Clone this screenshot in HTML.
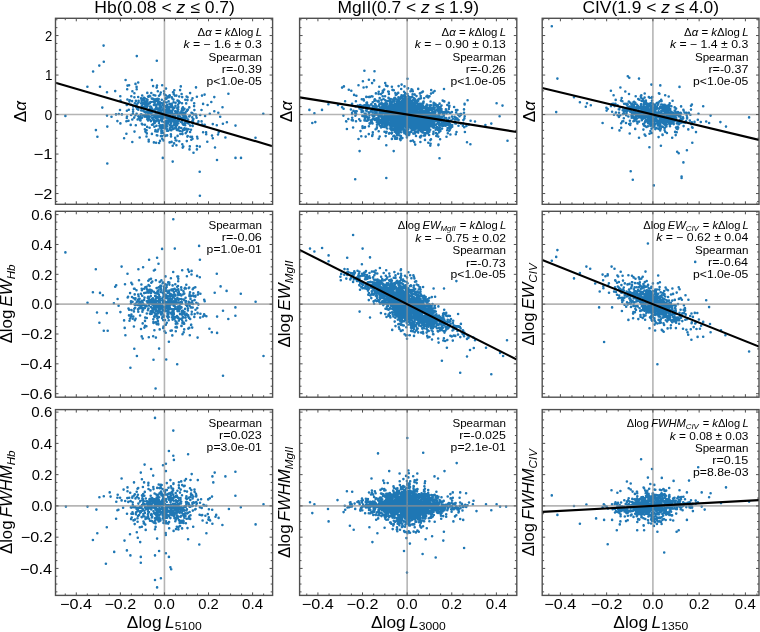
<!DOCTYPE html>
<html><head><meta charset="utf-8"><style>
html,body{margin:0;padding:0;background:#fff;width:760px;height:632px;overflow:hidden}
svg{display:block;will-change:transform}
text{font-family:"Liberation Sans",sans-serif}
</style></head><body>
<svg width="760" height="632" viewBox="0 0 760 632">
<rect width="760" height="632" fill="#fff"/>
<clipPath id="c00"><rect x="55.50" y="18.30" width="217.10" height="186.00"/></clipPath>
<g clip-path="url(#c00)">
<path d="M173.4 129.0h0M154.2 120.4h0M171.8 97.4h0M178.7 115.9h0M158.8 111.3h0M146.5 102.9h0M154.0 114.9h0M164.2 93.7h0M161.3 113.1h0M192.5 138.8h0M173.1 109.5h0M155.0 99.2h0M154.7 122.9h0M171.9 105.2h0M121.9 114.4h0M179.8 102.3h0M165.3 98.5h0M173.5 99.6h0M177.8 117.8h0M191.5 100.2h0M146.5 136.5h0M160.8 106.4h0M181.7 114.2h0M154.2 122.1h0M161.8 125.4h0M135.8 125.2h0M158.9 115.8h0M142.0 117.7h0M129.1 85.3h0M145.4 131.6h0M163.6 109.4h0M151.0 106.8h0M137.4 103.5h0M157.6 131.5h0M147.6 118.3h0M162.5 119.0h0M144.9 103.9h0M179.9 116.5h0M182.5 134.1h0M154.6 121.1h0M151.5 107.7h0M168.4 112.4h0M187.4 136.6h0M176.2 111.6h0M193.0 120.3h0M134.2 117.6h0M151.5 113.2h0M157.8 91.2h0M148.7 103.7h0M190.2 125.6h0M155.3 95.5h0M154.3 101.7h0M184.8 114.9h0M178.7 120.0h0M150.9 121.1h0M133.1 106.0h0M173.6 102.3h0M166.2 111.4h0M146.9 115.2h0M165.0 116.7h0M172.0 113.9h0M136.1 107.0h0M169.3 111.6h0M175.4 118.4h0M186.6 96.6h0M163.7 102.4h0M178.9 103.0h0M157.3 135.5h0M140.1 120.3h0M129.8 100.3h0M172.6 107.7h0M146.7 99.3h0M171.1 130.2h0M184.8 124.3h0M167.8 120.3h0M172.6 113.8h0M171.1 123.0h0M156.8 135.3h0M151.8 98.6h0M166.6 124.2h0M158.5 100.4h0M177.9 109.4h0M131.3 96.2h0M163.0 105.0h0M175.6 120.8h0M158.0 111.7h0M156.8 113.6h0M187.3 109.8h0M165.2 111.5h0M176.5 140.5h0M160.0 105.9h0M193.4 119.1h0M171.6 103.9h0M186.9 110.9h0M154.6 100.0h0M150.2 96.2h0M142.7 104.0h0M148.2 116.5h0M145.2 115.1h0M144.1 106.9h0M129.4 101.6h0M163.3 115.9h0M158.7 103.5h0M183.3 124.7h0M174.5 121.1h0M175.1 125.2h0M163.4 114.3h0M191.3 139.7h0M174.8 121.1h0M137.6 119.5h0M170.1 119.0h0M156.3 121.2h0M163.1 104.3h0M142.4 103.1h0M168.4 109.5h0M148.3 116.7h0M127.2 89.2h0M144.9 124.8h0M172.3 113.0h0M186.2 103.4h0M141.1 98.4h0M157.0 85.6h0M147.1 126.9h0M153.5 115.0h0M174.1 121.1h0M145.1 116.1h0M183.0 123.9h0M151.2 112.6h0M143.5 111.1h0M148.0 120.4h0M163.7 110.9h0M194.1 106.1h0M195.8 114.5h0M156.6 131.4h0M197.5 138.5h0M147.3 92.9h0M168.4 113.4h0M190.4 136.8h0M169.5 103.7h0M128.8 109.8h0M178.7 101.1h0M192.0 136.8h0M158.7 99.0h0M158.5 112.0h0M144.8 111.9h0M176.9 129.9h0M160.2 94.5h0M173.0 92.3h0M167.6 116.9h0M176.4 145.2h0M156.5 107.2h0M166.9 130.7h0M169.0 115.1h0M158.3 111.3h0M182.9 114.9h0M163.7 117.5h0M141.3 118.3h0M186.5 117.5h0M148.8 111.6h0M138.3 109.7h0M167.1 120.8h0M161.8 127.3h0M173.5 116.5h0M183.3 146.6h0M141.1 114.2h0M198.5 121.4h0M192.8 120.2h0M138.6 100.8h0M164.0 91.2h0M142.9 98.5h0M161.7 119.0h0M168.0 117.2h0M146.6 130.2h0M178.3 123.3h0M120.3 96.2h0M155.0 111.3h0M162.7 118.6h0M171.4 112.5h0M178.9 119.0h0M165.7 98.9h0M171.4 118.7h0M177.3 107.9h0M197.5 123.2h0M141.3 110.4h0M169.9 128.2h0M170.4 127.8h0M178.3 129.2h0M141.8 98.9h0M136.7 89.3h0M175.7 123.5h0M159.2 102.1h0M153.9 105.0h0M170.0 113.0h0M168.2 121.6h0M138.2 107.7h0M148.9 116.6h0M151.3 93.0h0M169.1 97.3h0M128.5 120.7h0M156.1 116.6h0M182.2 120.4h0M135.9 100.9h0M127.0 116.5h0M165.8 127.1h0M181.6 94.0h0M152.8 119.5h0M178.5 114.9h0M166.4 120.9h0M156.7 87.5h0M151.6 115.5h0M162.2 85.3h0M169.8 95.6h0M181.3 128.0h0M166.9 113.4h0M160.1 127.4h0M187.1 122.6h0M157.9 103.9h0M163.2 103.5h0M186.9 131.4h0M172.1 114.4h0M177.6 135.9h0M161.2 103.0h0M170.5 117.9h0M145.8 112.5h0M147.5 99.7h0M170.1 106.7h0M173.6 92.8h0M134.4 97.3h0M159.5 109.1h0M164.1 114.1h0M126.9 110.8h0M182.3 144.2h0M151.1 107.0h0M173.8 125.4h0M130.7 124.9h0M188.5 129.3h0M157.0 104.6h0M201.5 110.0h0M160.5 125.9h0M154.1 121.2h0M166.1 106.9h0M178.3 118.0h0M147.3 103.2h0M149.6 117.1h0M159.4 125.7h0M159.4 113.1h0M142.8 115.1h0M170.6 112.8h0M178.3 107.0h0M141.0 103.2h0M166.9 114.1h0M149.4 95.8h0M171.4 110.8h0M131.1 115.0h0M156.0 115.2h0M142.2 95.5h0M165.4 123.1h0M159.6 102.0h0M168.3 114.6h0M146.3 105.9h0M163.3 125.4h0M170.1 129.4h0M149.9 103.2h0M153.8 115.7h0M161.3 126.7h0M158.1 101.9h0M162.4 117.0h0M142.4 124.5h0M173.8 124.5h0M166.1 115.4h0M170.6 119.6h0M143.5 102.9h0M164.3 101.4h0M141.8 123.8h0M126.8 118.0h0M196.6 117.7h0M181.4 111.4h0M165.4 114.5h0M162.9 117.4h0M153.0 124.4h0M159.7 126.4h0M185.9 111.7h0M173.1 116.6h0M160.4 116.8h0M139.0 118.2h0M160.8 92.5h0M155.3 131.3h0M165.1 111.8h0M185.8 117.2h0M149.7 102.6h0M184.5 128.4h0M163.1 127.6h0M140.5 120.5h0M170.7 119.5h0M169.9 117.7h0M144.9 106.1h0M174.3 122.4h0M168.2 106.8h0M153.6 95.0h0M134.4 93.2h0M184.5 108.8h0M187.6 97.3h0M146.3 108.1h0M169.5 117.7h0M187.9 109.7h0M147.3 119.3h0M166.1 122.3h0M158.6 108.9h0M147.8 110.7h0M182.0 109.9h0M133.2 106.5h0M163.5 140.4h0M167.1 111.5h0M167.1 117.2h0M143.6 108.4h0M166.5 106.9h0M143.0 108.1h0M172.2 110.5h0M185.1 123.4h0M173.0 114.6h0M192.6 123.1h0M150.9 102.0h0M187.7 136.0h0M156.8 120.7h0M148.6 110.8h0M168.4 120.4h0M183.7 109.7h0M165.5 95.2h0M183.1 112.6h0M166.4 98.8h0M171.0 136.4h0M158.4 129.5h0M160.3 104.7h0M161.8 114.3h0M172.2 111.1h0M160.9 120.2h0M139.7 118.2h0M173.9 119.1h0M158.2 108.7h0M163.8 106.4h0M143.7 99.2h0M148.8 116.0h0M149.8 112.9h0M156.6 87.6h0M159.9 107.5h0M168.6 107.7h0M159.0 110.0h0M151.9 133.9h0M169.8 115.2h0M140.9 107.5h0M120.5 100.6h0M152.0 124.8h0M175.6 102.7h0M204.7 124.7h0M133.1 111.5h0M152.4 109.2h0M186.0 122.6h0M166.5 120.6h0M169.6 142.4h0M156.5 113.1h0M158.4 113.2h0M174.5 107.8h0M158.2 119.4h0M157.4 116.9h0M169.6 95.3h0M206.2 134.3h0M156.1 107.7h0M172.2 117.7h0M179.0 115.6h0M168.6 116.7h0M170.9 114.2h0M197.1 136.7h0M120.0 110.0h0M188.1 119.5h0M169.9 119.5h0M182.2 97.1h0M189.9 115.5h0M177.0 121.3h0M174.3 90.3h0M155.1 109.4h0M145.3 106.9h0M152.2 118.1h0M152.1 111.7h0M161.4 107.4h0M162.7 110.1h0M167.2 105.1h0M165.9 120.8h0M169.7 116.4h0M175.2 111.2h0M182.8 117.8h0M144.0 97.7h0M176.1 126.8h0M189.3 107.4h0M147.3 101.0h0M136.7 105.0h0M188.5 123.5h0M147.4 104.9h0M192.2 113.1h0M149.7 109.1h0M138.2 97.0h0M137.0 108.7h0M166.4 109.1h0M141.4 117.4h0M192.3 121.4h0M184.1 117.1h0M165.1 110.9h0M146.0 111.8h0M147.5 115.1h0M183.6 119.9h0M159.0 95.8h0M169.4 111.5h0M158.7 111.1h0M187.0 121.6h0M164.5 115.2h0M165.9 115.2h0M178.0 119.1h0M160.9 136.1h0M153.2 101.8h0M175.3 119.9h0M144.5 116.6h0M168.3 115.2h0M145.8 116.6h0M193.8 114.5h0M162.1 136.0h0M140.7 114.8h0M140.0 116.7h0M171.3 130.2h0M178.8 116.8h0M168.3 123.4h0M179.2 96.5h0M191.5 112.7h0M164.3 106.0h0M177.1 122.2h0M126.4 121.3h0M156.1 105.6h0M138.6 102.1h0M164.4 113.8h0M154.1 111.5h0M147.6 105.8h0M166.6 117.8h0M154.6 110.4h0M175.5 105.8h0M155.9 113.6h0M161.4 110.6h0M158.4 116.7h0M149.6 119.5h0M164.8 95.2h0M186.0 116.2h0M178.2 111.6h0M137.7 103.3h0M151.6 108.2h0M147.5 104.3h0M158.1 111.2h0M159.6 105.8h0M127.4 99.5h0M174.6 107.6h0M170.1 112.7h0M144.9 129.3h0M182.3 131.4h0M183.7 113.6h0M160.6 115.1h0M179.2 127.4h0M170.9 134.3h0M172.9 116.0h0M155.7 118.1h0M171.6 141.9h0M177.2 112.6h0M154.2 117.2h0M164.7 117.4h0M183.1 129.7h0M173.1 114.5h0M165.5 98.2h0M145.6 101.5h0M183.3 118.4h0M156.0 105.8h0M154.3 115.7h0M178.2 130.3h0M177.5 100.6h0M171.4 121.3h0M141.9 105.8h0M160.2 115.4h0M161.8 99.8h0M160.5 107.3h0M162.2 138.8h0M167.4 110.9h0M163.7 112.7h0M192.7 125.9h0M170.7 124.7h0M164.6 128.2h0M149.4 103.4h0M141.7 100.4h0M182.6 113.4h0M170.8 105.4h0M174.3 128.2h0M135.5 115.2h0M166.1 114.2h0M168.1 96.6h0M175.2 137.9h0M181.8 122.1h0M162.4 130.8h0M171.6 126.0h0M166.8 116.0h0M176.2 128.2h0M185.7 133.2h0M161.4 129.0h0M133.1 109.5h0M146.8 105.9h0M140.4 116.9h0M191.0 129.7h0M173.8 94.2h0M186.5 128.7h0M147.6 112.8h0M184.5 114.0h0M154.7 104.0h0M169.9 125.3h0M182.7 147.6h0M150.9 111.4h0M163.6 108.7h0M186.8 141.1h0M156.5 125.8h0M156.1 100.9h0M160.0 140.9h0M144.8 98.3h0M194.4 110.1h0M141.6 101.0h0M143.3 102.8h0M132.9 113.7h0M180.4 112.9h0M201.6 121.4h0M158.4 113.3h0M149.7 113.4h0M149.6 127.7h0M160.6 111.8h0M160.8 120.2h0M144.0 100.5h0M169.7 112.9h0M172.0 127.6h0M175.1 116.3h0M175.6 140.2h0M192.5 98.3h0M131.0 104.8h0M134.8 103.2h0M167.1 135.4h0M156.8 118.5h0M155.6 115.3h0M160.3 116.9h0M181.0 122.0h0M179.3 141.2h0M147.2 117.6h0M169.8 121.5h0M172.9 120.3h0M160.5 108.3h0M116.0 114.4h0M167.1 113.6h0M162.4 125.1h0M202.1 124.5h0M172.3 98.5h0M132.3 119.5h0M196.2 115.7h0M173.1 115.0h0M154.5 103.1h0M182.1 108.5h0M182.2 122.8h0M165.1 135.9h0M175.1 122.1h0M182.9 107.3h0M132.1 101.1h0M160.7 117.5h0M166.7 129.3h0M167.2 129.4h0M148.1 96.6h0M180.4 134.0h0M151.7 115.1h0M155.6 114.8h0M153.1 86.1h0M152.9 98.7h0M143.2 107.2h0M175.3 113.4h0M182.1 117.9h0M167.7 97.4h0M148.6 96.8h0M152.3 124.8h0M185.3 122.2h0M162.8 115.9h0M152.8 111.7h0M164.3 122.2h0M164.6 128.1h0M205.1 116.0h0M159.0 122.9h0M178.2 109.4h0M168.6 101.3h0M170.3 119.4h0M161.1 119.8h0M165.5 125.3h0M190.1 132.0h0M166.2 122.8h0M160.3 109.0h0M146.8 133.4h0M177.4 113.6h0M189.2 116.4h0M135.5 83.9h0M169.6 107.3h0M185.4 113.0h0M157.5 98.9h0M161.3 131.1h0M177.7 115.2h0M165.0 127.4h0M136.6 113.7h0M154.8 102.0h0M171.9 106.1h0M181.1 118.2h0M148.7 118.9h0M162.6 113.8h0M177.3 108.5h0M182.5 123.5h0M163.7 104.9h0M178.5 120.2h0M178.5 114.3h0M164.5 135.1h0M126.8 104.9h0M188.3 122.5h0M169.5 110.3h0M151.5 114.6h0M150.0 106.5h0M138.3 116.2h0M132.4 91.2h0M164.5 102.1h0M196.9 149.4h0M168.7 112.8h0M168.2 130.8h0M177.1 125.0h0M200.2 115.0h0M157.1 112.7h0M171.4 113.8h0M172.2 121.3h0M118.8 114.0h0M136.6 86.9h0M166.0 95.5h0M170.5 107.0h0M172.4 106.7h0M159.3 114.7h0M161.4 132.9h0M166.5 102.5h0M146.1 105.7h0M154.4 126.7h0M178.0 116.3h0M157.0 99.8h0M178.1 104.7h0M184.6 129.7h0M156.4 99.4h0M172.8 107.5h0M151.0 111.1h0M158.9 120.9h0M163.2 132.8h0M161.2 126.4h0M199.8 146.6h0M185.6 118.7h0M159.7 108.7h0M156.9 114.9h0M178.8 120.8h0M142.2 106.7h0M182.0 103.2h0M158.7 114.9h0M156.2 109.3h0M168.1 112.2h0M193.0 121.4h0M179.4 119.2h0M146.8 107.6h0M160.2 125.4h0M192.3 117.4h0M159.3 111.2h0M155.5 130.0h0M185.2 125.3h0M162.1 121.4h0M168.7 118.2h0M165.1 106.0h0M167.2 126.4h0M163.6 105.4h0M169.1 108.4h0M179.9 131.0h0M103.6 45.6h0M136.8 56.1h0M156.8 60.8h0M103.8 61.7h0M99.3 65.6h0M93.1 71.5h0M125.6 80.0h0M151.9 80.1h0M138.2 82.5h0M87.4 86.7h0M100.0 86.7h0M127.5 85.6h0M107.0 92.3h0M115.2 91.1h0M102.3 107.6h0M65.4 115.9h0M95.9 130.1h0M97.4 136.8h0M107.3 126.6h0M107.3 163.5h0M124.1 138.2h0M126.4 133.8h0M132.3 142.0h0M134.5 131.6h0M139.7 137.5h0M148.7 139.7h0M148.7 141.5h0M153.9 142.4h0M156.1 142.7h0M159.1 143.0h0M162.8 157.9h0M120.4 123.4h0M117.4 121.1h0M111.5 116.7h0M107.0 115.6h0M180.8 86.4h0M180.1 90.1h0M196.0 87.4h0M190.1 93.1h0M228.4 93.8h0M202.0 95.6h0M204.6 94.6h0M196.9 96.8h0M214.3 97.1h0M185.3 99.8h0M187.5 100.1h0M203.1 103.9h0M207.6 105.0h0M211.3 102.0h0M222.5 107.2h0M194.2 103.2h0M166.0 88.6h0M174.9 95.6h0M176.4 95.6h0M263.3 113.7h0M235.5 125.6h0M226.9 122.2h0M222.9 123.7h0M255.5 137.8h0M225.4 137.5h0M235.5 157.9h0M241.0 157.9h0M217.0 160.0h0M172.7 161.6h0M199.7 171.8h0M199.9 195.8h0M215.0 147.5h0M207.3 141.7h0M193.5 152.8h0M196.9 146.1h0M189.5 149.4h0M189.8 146.4h0M172.7 145.7h0M174.1 143.4h0M218.0 134.5h0M218.7 132.3h0M212.0 135.6h0M212.8 138.2h0M216.8 125.2h0M212.8 124.1h0M220.2 116.7h0M218.3 112.7h0M214.3 111.2h0M209.8 113.7h0M203.1 132.3h0M206.1 132.3h0" stroke="#1f77b4" stroke-width="2.6" stroke-linecap="round" fill="none"/>
<path d="M55.50 114.55H272.60M164.45 18.30V204.30" stroke="#919191" stroke-opacity="0.67" stroke-width="1.6" fill="none"/>
<line x1="55.50" y1="82.72" x2="272.60" y2="146.14" stroke="#000" stroke-width="2.1"/>
</g>
<rect x="55.50" y="18.30" width="217.10" height="186.00" fill="none" stroke="#505050" stroke-width="1.4"/>
<path d="M65.27 204.30v-1.90M65.27 18.30v1.90M76.29 204.30v-3.00M76.29 18.30v3.00M87.31 204.30v-1.90M87.31 18.30v1.90M98.33 204.30v-1.90M98.33 18.30v1.90M109.35 204.30v-1.90M109.35 18.30v1.90M120.37 204.30v-3.00M120.37 18.30v3.00M131.39 204.30v-1.90M131.39 18.30v1.90M142.41 204.30v-1.90M142.41 18.30v1.90M153.43 204.30v-1.90M153.43 18.30v1.90M164.45 204.30v-3.00M164.45 18.30v3.00M175.47 204.30v-1.90M175.47 18.30v1.90M186.49 204.30v-1.90M186.49 18.30v1.90M197.51 204.30v-1.90M197.51 18.30v1.90M208.53 204.30v-3.00M208.53 18.30v3.00M219.55 204.30v-1.90M219.55 18.30v1.90M230.57 204.30v-1.90M230.57 18.30v1.90M241.59 204.30v-1.90M241.59 18.30v1.90M252.61 204.30v-3.00M252.61 18.30v3.00M263.63 204.30v-1.90M263.63 18.30v1.90M55.50 201.45h1.90M272.60 201.45h-1.90M55.50 193.55h3.00M272.60 193.55h-3.00M55.50 185.65h1.90M272.60 185.65h-1.90M55.50 177.75h1.90M272.60 177.75h-1.90M55.50 169.85h1.90M272.60 169.85h-1.90M55.50 161.95h1.90M272.60 161.95h-1.90M55.50 154.05h3.00M272.60 154.05h-3.00M55.50 146.15h1.90M272.60 146.15h-1.90M55.50 138.25h1.90M272.60 138.25h-1.90M55.50 130.35h1.90M272.60 130.35h-1.90M55.50 122.45h1.90M272.60 122.45h-1.90M55.50 114.55h3.00M272.60 114.55h-3.00M55.50 106.65h1.90M272.60 106.65h-1.90M55.50 98.75h1.90M272.60 98.75h-1.90M55.50 90.85h1.90M272.60 90.85h-1.90M55.50 82.95h1.90M272.60 82.95h-1.90M55.50 75.05h3.00M272.60 75.05h-3.00M55.50 67.15h1.90M272.60 67.15h-1.90M55.50 59.25h1.90M272.60 59.25h-1.90M55.50 51.35h1.90M272.60 51.35h-1.90M55.50 43.45h1.90M272.60 43.45h-1.90M55.50 35.55h3.00M272.60 35.55h-3.00M55.50 27.65h1.90M272.60 27.65h-1.90M55.50 19.75h1.90M272.60 19.75h-1.90" stroke="#505050" stroke-width="1.0" fill="none"/>
<clipPath id="c01"><rect x="299.60" y="18.30" width="217.20" height="186.00"/></clipPath>
<g clip-path="url(#c01)">
<path d="M426.4 96.5h0M355.7 112.0h0M403.6 95.6h0M388.6 114.3h0M413.2 105.8h0M419.6 107.3h0M400.7 124.6h0M402.8 128.0h0M407.8 113.8h0M394.7 116.3h0M399.6 135.5h0M420.3 103.7h0M436.0 104.7h0M369.3 107.3h0M426.8 129.6h0M353.5 110.7h0M352.9 120.4h0M393.2 118.3h0M438.2 123.3h0M400.5 112.9h0M404.2 113.5h0M438.0 108.7h0M374.6 115.5h0M408.0 110.1h0M352.1 103.7h0M410.2 127.2h0M400.4 122.3h0M425.1 108.6h0M413.2 116.4h0M386.7 122.7h0M426.5 117.8h0M381.2 127.3h0M383.4 120.8h0M379.9 114.9h0M414.3 121.9h0M399.4 124.5h0M412.7 115.7h0M430.0 121.4h0M385.2 113.9h0M412.7 125.5h0M391.6 110.2h0M390.3 107.2h0M366.5 102.9h0M406.0 134.0h0M389.0 116.2h0M420.9 109.8h0M392.8 109.3h0M367.5 120.6h0M407.1 109.3h0M427.0 117.2h0M409.1 122.6h0M413.3 125.0h0M411.5 89.4h0M411.4 115.1h0M389.3 115.2h0M398.2 127.8h0M382.2 118.9h0M396.9 117.0h0M387.8 122.4h0M411.3 109.5h0M395.5 129.7h0M403.0 110.9h0M366.6 105.0h0M405.5 116.4h0M398.8 104.8h0M414.0 116.8h0M403.4 124.5h0M399.5 117.2h0M351.8 120.1h0M435.8 118.1h0M388.8 91.7h0M381.8 116.3h0M411.0 115.3h0M415.9 111.8h0M401.5 118.3h0M424.0 114.1h0M358.5 139.0h0M427.6 113.2h0M443.6 121.9h0M421.3 128.8h0M417.8 104.7h0M420.2 118.1h0M372.5 96.5h0M401.4 120.7h0M406.9 121.3h0M368.1 119.4h0M425.4 118.5h0M416.8 117.6h0M407.3 127.0h0M417.7 127.8h0M409.1 99.7h0M401.2 127.5h0M466.4 126.0h0M408.5 98.8h0M402.9 118.0h0M430.1 115.6h0M421.3 136.2h0M421.1 116.1h0M371.7 108.5h0M422.0 124.0h0M392.9 123.4h0M402.3 111.8h0M404.6 125.1h0M397.8 110.7h0M387.7 110.7h0M440.7 119.5h0M415.7 101.8h0M361.6 112.0h0M417.0 112.5h0M372.7 106.1h0M403.6 120.8h0M385.6 110.7h0M411.3 126.3h0M405.0 95.5h0M408.0 113.7h0M406.8 109.7h0M363.9 100.5h0M411.0 115.6h0M440.8 111.2h0M431.2 110.3h0M366.0 110.2h0M420.2 108.0h0M428.1 123.8h0M422.4 116.7h0M428.6 114.5h0M387.4 101.0h0M388.1 109.4h0M420.7 96.0h0M420.5 108.3h0M406.4 127.6h0M423.6 101.6h0M398.9 109.1h0M433.3 133.9h0M388.4 114.9h0M416.6 119.7h0M413.5 111.0h0M366.5 107.3h0M398.2 115.0h0M427.5 105.1h0M382.2 120.0h0M394.8 111.2h0M415.2 144.6h0M434.2 122.0h0M403.2 127.3h0M395.7 122.5h0M403.8 126.5h0M409.4 107.3h0M384.7 113.0h0M400.3 112.6h0M432.5 123.8h0M422.5 132.5h0M416.3 119.8h0M416.6 121.6h0M376.5 107.3h0M415.8 114.8h0M382.7 103.9h0M396.9 138.8h0M409.8 115.0h0M428.0 128.1h0M381.7 120.3h0M399.9 113.9h0M418.3 117.4h0M365.2 115.7h0M405.0 121.6h0M372.2 108.2h0M416.6 117.9h0M402.3 105.8h0M390.6 119.1h0M399.4 116.8h0M408.9 101.9h0M393.1 118.4h0M438.8 119.0h0M406.3 134.5h0M379.0 121.0h0M391.8 119.4h0M363.1 111.4h0M388.7 109.9h0M407.9 121.1h0M374.7 100.8h0M419.7 111.1h0M412.7 117.1h0M445.9 122.3h0M394.4 101.1h0M417.1 115.8h0M437.8 120.5h0M410.7 116.6h0M389.2 114.1h0M432.8 120.3h0M385.0 117.2h0M423.0 130.8h0M399.3 118.2h0M401.3 117.9h0M400.6 103.6h0M399.9 121.7h0M418.2 88.9h0M402.8 111.7h0M398.5 131.9h0M456.5 132.0h0M458.0 114.6h0M378.4 118.2h0M380.6 126.0h0M444.3 123.5h0M422.8 115.2h0M439.6 130.6h0M448.8 109.0h0M398.7 111.5h0M408.7 125.9h0M443.4 122.0h0M431.0 93.6h0M424.7 121.8h0M389.5 114.6h0M400.6 121.9h0M406.7 115.8h0M449.7 130.1h0M385.5 106.9h0M383.1 105.8h0M408.2 129.2h0M408.0 121.6h0M414.8 123.6h0M428.1 124.1h0M403.0 114.8h0M439.9 120.7h0M399.3 111.8h0M419.1 123.1h0M368.2 105.2h0M425.7 117.3h0M415.6 117.5h0M395.5 104.2h0M407.7 111.3h0M404.1 120.4h0M394.9 125.8h0M385.1 96.3h0M417.2 106.8h0M403.8 107.0h0M413.0 125.7h0M439.3 117.3h0M383.1 122.9h0M429.7 120.5h0M412.3 115.7h0M399.9 122.1h0M406.1 132.5h0M392.7 112.2h0M415.5 119.3h0M409.4 112.7h0M392.7 122.8h0M407.7 114.9h0M399.4 112.9h0M420.1 123.6h0M401.0 116.0h0M393.3 136.2h0M402.2 116.6h0M393.0 111.8h0M422.0 116.4h0M428.5 131.8h0M400.1 118.0h0M355.5 115.5h0M421.1 116.6h0M354.1 94.9h0M382.3 112.0h0M371.8 122.1h0M411.6 118.9h0M386.4 115.7h0M379.7 136.5h0M410.3 115.8h0M392.0 132.5h0M420.5 121.7h0M414.3 118.7h0M425.3 115.3h0M386.1 132.7h0M390.8 107.5h0M445.4 122.2h0M435.4 124.7h0M380.2 109.3h0M433.1 108.4h0M391.9 118.0h0M413.8 120.8h0M398.2 111.7h0M403.6 118.0h0M394.1 123.7h0M398.8 116.9h0M415.4 103.8h0M424.0 115.0h0M411.4 131.2h0M403.3 105.8h0M429.4 131.8h0M368.6 119.5h0M440.6 106.9h0M372.7 116.1h0M408.5 117.5h0M414.0 115.8h0M407.5 120.2h0M443.7 115.8h0M414.1 118.3h0M415.8 100.8h0M443.9 114.6h0M414.6 125.4h0M412.3 89.8h0M389.3 115.6h0M395.0 124.2h0M411.3 109.6h0M380.0 120.3h0M395.1 118.9h0M440.7 120.7h0M405.4 109.0h0M409.2 112.2h0M367.4 116.9h0M385.1 111.0h0M380.2 109.0h0M446.6 120.9h0M411.9 114.9h0M470.6 120.8h0M402.8 113.0h0M407.7 88.6h0M402.4 109.6h0M401.7 117.2h0M396.0 123.8h0M404.5 125.0h0M402.7 115.9h0M393.2 112.4h0M397.3 117.2h0M398.3 115.8h0M375.3 109.2h0M398.4 121.0h0M379.2 105.1h0M403.8 102.3h0M416.0 128.7h0M389.4 105.6h0M406.1 106.2h0M374.2 108.5h0M424.3 127.5h0M439.3 109.2h0M418.2 117.1h0M385.8 122.8h0M401.1 110.3h0M405.3 105.5h0M409.4 98.3h0M422.2 117.9h0M399.9 127.4h0M409.1 110.7h0M413.9 114.0h0M415.9 106.0h0M423.6 125.0h0M414.1 110.9h0M417.0 118.2h0M397.8 123.1h0M438.0 117.7h0M405.9 108.2h0M414.8 125.0h0M414.0 124.3h0M377.9 120.3h0M378.6 93.9h0M411.0 117.7h0M409.6 105.9h0M427.3 115.5h0M421.3 135.7h0M390.8 114.6h0M384.7 103.9h0M410.0 112.9h0M407.7 115.5h0M414.5 126.8h0M402.6 117.8h0M406.4 111.3h0M431.6 121.3h0M403.4 110.0h0M428.3 97.5h0M437.3 128.7h0M391.8 112.7h0M409.0 116.6h0M398.1 115.9h0M420.4 114.8h0M378.5 116.8h0M442.6 113.3h0M391.3 111.1h0M383.0 92.0h0M392.7 113.4h0M367.3 108.9h0M396.6 125.2h0M410.0 116.5h0M401.4 110.4h0M367.3 109.1h0M439.6 103.6h0M385.1 106.7h0M421.8 115.3h0M391.1 125.0h0M384.3 119.6h0M435.9 133.0h0M419.4 106.4h0M424.2 122.2h0M387.9 120.7h0M407.2 111.0h0M411.3 108.5h0M441.9 117.1h0M412.3 128.4h0M412.1 96.8h0M416.5 118.6h0M441.3 117.1h0M417.4 111.0h0M412.1 119.3h0M396.2 115.5h0M401.4 104.2h0M417.9 113.0h0M386.8 104.8h0M437.2 109.3h0M392.1 122.1h0M433.6 117.0h0M426.3 121.0h0M411.4 114.9h0M419.8 128.6h0M414.7 98.8h0M407.6 125.9h0M381.0 94.1h0M399.7 110.5h0M435.7 129.8h0M413.3 133.6h0M406.7 123.5h0M427.2 117.7h0M396.5 108.7h0M404.7 110.7h0M408.3 107.1h0M402.2 113.9h0M430.7 116.9h0M435.1 116.6h0M403.3 112.3h0M406.7 102.2h0M406.8 118.2h0M400.6 116.5h0M415.1 114.2h0M403.3 122.0h0M426.9 109.8h0M375.1 119.9h0M394.4 126.4h0M417.5 103.5h0M405.7 110.4h0M417.0 108.9h0M371.5 110.8h0M423.0 108.0h0M359.5 107.1h0M375.5 104.8h0M406.6 109.6h0M406.9 129.3h0M414.0 120.6h0M385.5 103.1h0M412.1 116.4h0M398.8 115.4h0M428.7 113.4h0M403.9 129.6h0M421.6 113.9h0M433.5 131.7h0M403.2 110.3h0M435.6 115.1h0M422.2 123.4h0M424.9 114.0h0M417.3 107.0h0M405.0 117.7h0M392.4 126.5h0M374.0 116.2h0M410.3 97.4h0M415.7 127.0h0M397.8 127.8h0M391.8 105.8h0M425.0 123.2h0M431.0 105.3h0M410.5 107.8h0M380.0 103.9h0M408.9 132.6h0M426.5 130.3h0M384.0 107.8h0M399.2 99.2h0M413.8 112.4h0M414.3 127.8h0M440.1 139.3h0M395.0 114.0h0M403.6 121.0h0M403.2 108.4h0M355.3 113.2h0M427.2 123.6h0M439.7 127.2h0M410.8 114.1h0M442.1 128.6h0M414.5 117.0h0M447.3 105.0h0M389.0 106.5h0M421.0 114.7h0M407.6 126.3h0M398.8 102.2h0M401.3 113.1h0M440.4 130.9h0M429.9 123.5h0M421.7 113.1h0M400.8 105.9h0M372.4 119.6h0M442.8 122.3h0M404.2 111.8h0M426.8 121.0h0M389.8 122.4h0M367.0 103.8h0M357.8 105.6h0M421.7 114.8h0M414.8 117.8h0M448.7 121.8h0M423.7 112.9h0M404.3 121.3h0M409.4 102.5h0M363.6 87.5h0M388.9 108.1h0M404.0 114.5h0M427.2 126.9h0M414.8 119.5h0M426.7 108.2h0M395.0 119.9h0M415.1 110.2h0M431.2 115.1h0M408.1 96.1h0M416.2 109.9h0M402.3 118.4h0M395.9 124.7h0M405.2 121.4h0M429.3 108.2h0M447.6 128.1h0M410.5 91.2h0M420.6 98.5h0M393.1 112.1h0M409.4 97.3h0M368.2 119.9h0M379.7 98.1h0M470.4 144.3h0M411.8 127.6h0M405.4 113.4h0M407.8 111.5h0M401.7 121.6h0M429.1 128.8h0M427.3 120.9h0M379.6 108.6h0M438.1 130.0h0M398.3 119.1h0M416.3 115.2h0M392.6 110.6h0M418.0 118.8h0M433.6 118.3h0M385.4 117.3h0M412.7 111.6h0M405.0 99.7h0M406.3 112.8h0M391.4 119.4h0M396.5 109.2h0M412.9 106.7h0M414.9 131.8h0M422.2 109.5h0M397.9 117.0h0M425.1 123.3h0M414.4 120.8h0M412.4 115.6h0M426.0 124.7h0M407.7 117.3h0M405.3 116.4h0M420.6 119.8h0M428.0 113.1h0M413.8 118.7h0M426.1 121.8h0M413.5 116.9h0M392.6 125.4h0M435.3 103.7h0M429.5 96.2h0M397.0 112.6h0M388.7 113.6h0M382.6 111.2h0M400.2 121.5h0M434.2 123.8h0M409.2 126.0h0M419.0 111.9h0M417.8 121.7h0M423.1 105.3h0M420.6 115.8h0M420.0 124.0h0M407.4 126.7h0M407.0 106.5h0M412.4 115.2h0M380.6 115.1h0M402.5 108.0h0M417.3 122.6h0M410.7 120.0h0M412.0 122.3h0M416.3 119.4h0M423.8 113.7h0M433.6 106.0h0M408.8 119.6h0M402.1 126.2h0M424.5 128.6h0M400.1 125.4h0M397.0 111.2h0M408.5 122.1h0M396.5 114.3h0M425.0 112.8h0M414.0 106.0h0M417.7 124.6h0M416.7 117.5h0M399.7 118.8h0M425.0 135.4h0M426.5 107.9h0M397.2 116.3h0M410.3 111.0h0M402.5 121.6h0M423.9 115.3h0M384.3 113.7h0M425.5 124.0h0M411.5 116.1h0M401.8 102.1h0M418.3 119.1h0M392.1 118.4h0M381.0 104.0h0M379.7 110.3h0M389.3 114.2h0M424.4 112.9h0M397.2 115.1h0M391.9 111.5h0M402.7 117.7h0M421.2 124.4h0M377.1 110.6h0M397.8 109.9h0M423.4 119.8h0M428.2 120.6h0M429.2 119.2h0M408.8 115.6h0M415.1 119.1h0M406.3 117.9h0M391.5 116.7h0M416.2 122.2h0M394.1 111.8h0M418.4 130.6h0M401.1 111.5h0M396.5 115.9h0M385.8 112.1h0M386.6 131.8h0M412.7 126.4h0M418.5 115.5h0M403.0 114.8h0M387.2 124.1h0M403.6 98.8h0M377.0 109.3h0M430.6 120.4h0M422.6 119.0h0M421.5 115.3h0M402.1 113.6h0M385.2 126.3h0M400.3 120.7h0M434.1 120.3h0M410.9 121.7h0M398.9 121.1h0M361.3 109.8h0M414.0 128.5h0M419.0 116.1h0M420.5 123.9h0M408.9 115.3h0M414.9 116.5h0M419.0 117.4h0M386.4 114.8h0M380.3 109.7h0M412.6 105.5h0M410.3 125.4h0M420.7 123.6h0M416.3 110.3h0M395.7 94.4h0M393.1 105.9h0M408.9 110.0h0M408.2 104.1h0M383.6 112.3h0M407.6 123.1h0M398.6 113.8h0M398.6 120.1h0M425.5 123.9h0M390.1 105.2h0M382.9 112.2h0M423.5 121.2h0M402.9 128.2h0M393.7 123.3h0M446.2 123.7h0M407.5 125.2h0M421.2 108.7h0M417.8 113.0h0M421.0 131.1h0M419.6 120.3h0M410.6 121.6h0M407.4 114.0h0M437.3 123.6h0M440.9 123.7h0M411.5 113.5h0M361.3 136.3h0M450.6 128.2h0M395.1 103.7h0M433.6 108.6h0M425.8 126.5h0M428.7 129.2h0M427.2 115.7h0M372.6 134.8h0M409.5 114.3h0M421.2 123.5h0M394.8 122.9h0M421.6 92.5h0M408.1 116.8h0M393.1 110.5h0M374.4 100.3h0M412.8 111.5h0M399.5 116.1h0M399.5 119.7h0M360.5 131.1h0M376.6 118.3h0M397.7 101.6h0M419.4 115.4h0M399.2 125.2h0M410.1 111.1h0M382.3 120.4h0M403.1 100.4h0M444.6 117.7h0M412.3 116.0h0M416.8 119.4h0M419.3 127.7h0M370.9 111.1h0M436.4 119.8h0M427.4 126.1h0M428.8 122.3h0M428.7 119.2h0M409.3 108.9h0M424.1 107.1h0M439.8 129.8h0M389.0 133.6h0M424.5 111.9h0M387.9 106.3h0M414.8 101.0h0M397.7 113.9h0M428.1 108.9h0M387.5 86.1h0M401.2 89.0h0M400.8 117.1h0M378.7 116.0h0M389.6 112.8h0M401.8 107.7h0M428.7 111.3h0M415.7 115.7h0M401.5 95.4h0M398.3 101.9h0M455.6 117.5h0M416.2 122.1h0M384.4 111.6h0M427.9 111.5h0M414.4 124.8h0M376.1 111.5h0M362.4 115.9h0M413.7 119.2h0M442.1 111.6h0M403.9 114.4h0M423.5 119.5h0M400.1 122.8h0M385.3 100.3h0M405.3 116.5h0M437.7 110.7h0M391.3 116.5h0M408.7 114.7h0M390.5 108.2h0M415.7 116.0h0M439.1 132.2h0M355.8 111.4h0M421.7 116.7h0M418.1 123.4h0M419.4 118.5h0M399.0 120.2h0M407.4 112.8h0M401.8 104.5h0M386.0 115.3h0M388.6 116.1h0M397.5 120.2h0M435.5 110.7h0M405.0 97.0h0M405.1 93.0h0M389.5 133.1h0M438.0 115.8h0M415.1 114.7h0M415.4 119.4h0M396.3 125.1h0M388.5 97.9h0M372.5 123.4h0M389.8 114.5h0M431.6 119.1h0M433.6 104.2h0M388.4 115.0h0M391.2 110.5h0M356.0 121.3h0M381.3 123.2h0M449.4 105.8h0M413.5 109.6h0M422.7 116.9h0M387.2 103.9h0M408.9 118.1h0M424.0 127.1h0M425.7 107.2h0M409.1 104.8h0M401.6 106.4h0M400.7 122.7h0M409.9 125.6h0M393.0 111.6h0M401.2 98.4h0M393.5 118.4h0M401.7 98.3h0M417.3 107.9h0M411.9 112.0h0M408.2 120.4h0M429.3 119.5h0M445.9 125.5h0M410.0 108.5h0M368.7 112.4h0M406.3 114.7h0M413.4 99.8h0M417.2 120.9h0M385.0 119.3h0M417.2 127.7h0M434.5 111.3h0M396.4 120.9h0M398.6 112.0h0M403.9 112.1h0M421.2 110.7h0M385.6 124.3h0M402.2 129.5h0M410.7 141.0h0M439.2 125.2h0M411.6 103.2h0M436.5 128.6h0M392.8 105.3h0M431.0 139.3h0M426.2 123.2h0M406.4 114.5h0M436.9 117.2h0M413.5 113.4h0M389.3 122.9h0M387.8 118.3h0M424.1 98.2h0M450.0 124.2h0M408.7 122.4h0M411.6 127.5h0M411.9 100.9h0M415.1 121.9h0M356.7 111.2h0M372.2 135.9h0M411.3 131.7h0M394.1 107.8h0M422.5 115.1h0M419.2 98.8h0M414.2 118.5h0M412.4 117.4h0M421.2 131.5h0M418.9 104.1h0M365.9 107.0h0M413.0 116.5h0M393.1 124.1h0M388.0 116.3h0M410.0 100.0h0M375.6 119.8h0M409.8 124.9h0M406.4 121.2h0M407.0 107.9h0M406.8 101.1h0M418.2 118.2h0M410.4 121.5h0M373.0 116.1h0M405.3 114.5h0M402.0 115.4h0M396.4 132.0h0M392.0 118.5h0M386.6 121.0h0M385.6 124.8h0M415.3 112.6h0M439.8 113.1h0M384.1 122.4h0M398.3 112.8h0M428.5 113.8h0M407.5 121.4h0M415.5 109.1h0M391.0 107.2h0M433.9 118.3h0M435.7 127.8h0M406.5 121.7h0M411.9 110.8h0M412.2 107.3h0M385.1 106.7h0M406.0 126.0h0M390.3 115.1h0M395.7 118.7h0M423.9 112.0h0M419.0 121.2h0M414.4 112.9h0M363.6 99.3h0M406.9 118.0h0M387.4 125.5h0M397.5 123.9h0M383.7 108.0h0M412.9 120.7h0M376.7 128.4h0M411.4 119.2h0M413.9 117.4h0M455.2 119.2h0M400.1 117.4h0M391.3 124.4h0M417.2 119.3h0M412.1 115.6h0M409.9 105.1h0M454.8 121.8h0M385.0 120.3h0M419.9 126.1h0M394.0 117.0h0M416.8 110.1h0M421.1 115.4h0M434.6 108.9h0M399.0 120.5h0M407.1 120.1h0M394.6 122.7h0M392.9 115.1h0M420.4 121.2h0M403.0 114.5h0M428.9 114.0h0M396.3 111.2h0M411.3 108.3h0M444.5 117.8h0M409.6 118.6h0M416.9 114.7h0M401.3 108.0h0M410.4 112.2h0M412.2 122.2h0M410.1 120.1h0M425.6 114.0h0M415.8 118.9h0M417.7 118.4h0M435.0 113.6h0M413.9 107.7h0M364.5 120.4h0M391.5 101.3h0M407.6 107.9h0M420.7 136.0h0M430.4 109.6h0M382.8 90.8h0M398.9 114.3h0M395.1 106.1h0M447.8 133.2h0M415.2 104.8h0M426.3 122.9h0M376.9 108.8h0M388.3 117.7h0M350.9 109.5h0M445.7 112.5h0M396.5 109.7h0M426.2 125.5h0M408.7 110.3h0M411.6 121.5h0M444.3 101.4h0M383.7 120.5h0M404.2 117.1h0M464.7 116.3h0M433.7 127.8h0M369.2 112.7h0M404.8 117.9h0M402.5 115.7h0M412.4 127.2h0M414.1 113.1h0M413.7 98.0h0M423.8 118.7h0M392.8 121.6h0M425.4 123.3h0M403.3 103.5h0M456.0 123.4h0M407.5 125.5h0M422.1 112.0h0M437.9 128.7h0M438.9 122.4h0M435.4 112.5h0M388.8 98.2h0M399.0 108.6h0M436.3 117.4h0M432.3 118.7h0M397.4 117.9h0M418.3 100.8h0M411.3 119.7h0M378.9 123.8h0M402.8 119.1h0M419.1 106.5h0M392.9 111.2h0M402.0 101.0h0M459.5 116.3h0M417.6 117.4h0M427.4 119.5h0M396.9 107.1h0M405.1 114.3h0M414.0 123.2h0M390.6 112.7h0M387.7 119.5h0M446.3 118.1h0M443.5 125.7h0M398.8 121.3h0M392.6 115.5h0M415.7 120.0h0M391.8 123.4h0M391.9 125.4h0M421.3 115.6h0M404.4 116.6h0M404.7 124.4h0M407.1 106.3h0M406.8 125.4h0M419.9 112.4h0M417.2 112.5h0M386.4 116.0h0M421.4 112.1h0M421.3 113.5h0M412.9 115.3h0M456.7 119.4h0M410.3 116.6h0M420.9 98.1h0M370.0 96.9h0M394.6 113.7h0M404.8 111.9h0M404.0 112.7h0M405.2 98.6h0M419.3 127.5h0M403.5 104.6h0M421.2 121.6h0M431.7 117.4h0M381.3 121.0h0M411.2 128.5h0M378.7 131.3h0M412.2 113.6h0M428.4 114.9h0M414.2 130.3h0M418.5 121.1h0M364.7 113.8h0M411.4 122.7h0M416.7 126.4h0M424.3 125.8h0M429.8 107.2h0M421.8 119.4h0M393.3 109.3h0M366.5 104.7h0M439.9 127.7h0M407.1 123.4h0M377.5 122.5h0M422.2 103.5h0M421.2 111.5h0M355.4 115.8h0M397.8 103.4h0M393.7 118.0h0M423.9 112.5h0M383.5 99.0h0M417.2 115.8h0M409.6 99.4h0M407.2 112.8h0M406.2 118.3h0M417.2 111.6h0M414.2 120.3h0M389.5 116.8h0M412.8 91.2h0M426.4 114.8h0M435.6 116.2h0M401.7 108.5h0M413.3 100.1h0M402.0 113.2h0M400.2 138.6h0M400.0 120.2h0M434.7 120.0h0M364.9 105.3h0M407.2 131.9h0M404.5 123.2h0M429.9 118.7h0M457.4 110.1h0M399.2 114.7h0M416.5 107.5h0M384.6 124.6h0M414.5 127.2h0M407.0 107.0h0M374.3 114.6h0M414.8 126.9h0M442.9 112.0h0M450.6 125.7h0M409.8 109.5h0M412.6 117.3h0M396.4 117.0h0M402.1 114.3h0M404.7 112.0h0M411.4 114.8h0M456.1 112.5h0M387.3 128.5h0M424.8 129.8h0M428.2 117.0h0M420.2 110.0h0M380.1 116.4h0M403.7 119.6h0M386.0 108.0h0M366.3 106.1h0M383.2 112.7h0M400.1 112.3h0M382.6 92.6h0M367.5 106.0h0M394.6 98.2h0M421.0 105.5h0M385.1 105.5h0M407.2 122.4h0M412.7 113.8h0M417.3 126.7h0M386.5 105.0h0M418.5 119.6h0M416.0 136.0h0M380.1 114.9h0M405.7 113.2h0M390.6 113.8h0M406.3 97.4h0M407.0 118.9h0M416.7 119.1h0M372.7 112.3h0M401.7 120.3h0M409.3 134.5h0M414.0 108.6h0M386.1 115.2h0M423.1 114.7h0M416.5 117.7h0M414.0 117.1h0M375.0 114.0h0M394.5 118.8h0M371.8 96.3h0M424.0 120.5h0M390.1 103.5h0M404.3 113.7h0M426.0 120.9h0M412.9 121.3h0M400.2 113.6h0M408.1 112.3h0M439.1 109.3h0M416.4 112.5h0M391.6 103.2h0M375.3 118.9h0M434.6 91.0h0M395.3 123.9h0M436.9 127.0h0M391.9 138.9h0M460.9 123.4h0M396.9 127.6h0M376.9 127.2h0M409.0 103.5h0M405.8 118.8h0M378.5 120.4h0M398.3 105.1h0M389.4 122.4h0M432.8 114.3h0M414.2 121.2h0M406.8 112.9h0M428.6 121.4h0M405.6 125.6h0M391.7 127.4h0M446.6 113.1h0M420.3 124.7h0M400.6 106.5h0M399.3 128.5h0M351.9 104.2h0M391.7 133.6h0M413.3 103.3h0M398.2 92.9h0M400.7 114.1h0M396.3 133.2h0M387.3 119.2h0M410.8 102.7h0M439.4 110.2h0M447.8 124.7h0M412.0 118.6h0M405.2 114.9h0M401.3 112.0h0M433.1 108.6h0M404.1 104.8h0M410.3 103.7h0M421.2 124.8h0M401.7 117.7h0M403.1 119.2h0M391.8 124.0h0M429.6 125.9h0M410.1 122.6h0M404.8 123.8h0M430.6 101.5h0M398.0 113.1h0M431.2 90.1h0M439.3 115.3h0M407.4 115.7h0M415.5 110.1h0M403.8 102.9h0M427.3 121.7h0M395.4 107.4h0M406.0 127.8h0M447.2 130.3h0M385.6 113.0h0M410.4 119.8h0M413.1 119.8h0M409.3 105.0h0M408.4 115.7h0M424.0 122.8h0M404.2 106.1h0M401.8 107.7h0M420.7 129.6h0M403.0 112.7h0M378.8 109.0h0M426.5 125.0h0M410.5 128.1h0M369.2 117.5h0M405.8 121.5h0M399.9 116.0h0M388.0 118.0h0M390.9 129.0h0M409.5 118.6h0M381.3 110.5h0M389.1 123.5h0M413.7 108.3h0M411.9 114.1h0M441.5 105.5h0M414.9 125.4h0M394.5 108.5h0M355.6 106.4h0M427.3 95.7h0M422.9 115.3h0M422.1 130.4h0M395.5 131.3h0M386.7 112.6h0M405.5 106.6h0M388.8 108.1h0M404.0 115.0h0M409.6 124.8h0M403.7 108.1h0M414.7 94.5h0M424.6 133.4h0M418.8 122.8h0M421.7 106.2h0M403.1 108.7h0M400.0 139.2h0M355.2 112.4h0M417.0 106.5h0M447.9 111.9h0M398.1 121.8h0M386.7 123.7h0M409.3 118.9h0M393.7 115.3h0M452.2 126.7h0M378.8 120.6h0M403.1 122.7h0M378.5 120.0h0M359.5 108.4h0M397.9 113.6h0M395.3 114.8h0M403.8 117.5h0M422.8 107.5h0M392.6 108.6h0M398.7 118.5h0M404.4 133.2h0M395.4 120.8h0M413.7 126.8h0M407.0 124.7h0M409.3 110.4h0M429.8 110.0h0M458.5 125.8h0M458.6 120.1h0M455.3 123.5h0M379.9 114.9h0M425.6 116.7h0M375.0 114.7h0M431.4 118.1h0M430.7 121.1h0M423.4 125.9h0M400.3 117.3h0M408.4 112.3h0M393.4 117.9h0M380.2 107.6h0M390.2 102.2h0M417.1 113.1h0M388.8 123.6h0M416.1 115.1h0M409.1 115.9h0M420.4 142.0h0M383.0 123.0h0M423.2 112.0h0M384.6 119.9h0M402.9 109.8h0M394.8 112.0h0M396.9 101.4h0M424.4 124.3h0M430.3 145.6h0M400.0 103.0h0M403.8 109.1h0M402.5 122.4h0M361.6 105.8h0M424.1 114.9h0M422.9 91.6h0M406.2 104.4h0M393.9 117.2h0M424.5 129.2h0M375.9 113.7h0M424.2 114.7h0M396.4 128.4h0M421.7 121.3h0M389.0 108.7h0M409.9 106.2h0M399.6 116.0h0M391.3 118.8h0M414.5 119.5h0M388.7 112.6h0M383.1 116.6h0M387.4 113.9h0M408.3 121.0h0M404.4 101.3h0M390.4 121.9h0M404.4 103.4h0M395.2 118.8h0M403.8 125.4h0M428.7 123.6h0M451.9 112.1h0M406.6 110.6h0M422.5 114.2h0M423.4 112.0h0M412.6 94.3h0M414.2 112.7h0M416.9 119.3h0M404.9 94.8h0M420.0 137.0h0M405.4 118.8h0M392.7 110.0h0M425.8 128.9h0M389.4 107.1h0M378.5 123.0h0M422.9 117.6h0M407.6 130.6h0M387.4 114.0h0M382.2 116.3h0M440.9 111.9h0M415.5 112.8h0M392.6 111.4h0M435.9 117.5h0M425.4 115.6h0M420.4 114.8h0M396.9 132.9h0M413.7 115.5h0M420.4 126.5h0M447.0 119.9h0M366.3 96.9h0M391.9 112.5h0M405.2 123.8h0M413.3 113.3h0M410.1 132.4h0M430.1 105.2h0M403.4 128.0h0M401.7 128.8h0M441.6 123.0h0M430.2 129.7h0M381.8 114.2h0M420.5 108.2h0M397.2 135.3h0M449.1 130.8h0M422.3 119.8h0M437.8 121.5h0M412.1 130.0h0M394.2 98.4h0M393.8 90.3h0M403.7 111.5h0M401.8 107.2h0M393.8 106.2h0M394.1 112.1h0M400.7 129.9h0M451.1 120.5h0M419.9 120.2h0M377.4 121.3h0M348.3 119.0h0M364.3 116.6h0M404.6 109.7h0M406.9 137.5h0M409.6 116.9h0M413.2 108.4h0M416.6 123.9h0M438.7 107.0h0M426.3 110.4h0M401.9 102.8h0M399.0 117.5h0M390.4 105.4h0M420.7 111.4h0M385.7 136.1h0M417.7 112.9h0M397.3 108.7h0M374.5 114.4h0M403.3 120.9h0M407.8 126.4h0M415.9 115.2h0M390.2 110.6h0M431.4 115.7h0M432.6 115.1h0M386.5 118.5h0M386.8 117.9h0M394.0 113.7h0M423.2 111.9h0M408.9 135.1h0M389.6 100.7h0M415.3 121.1h0M366.5 111.1h0M376.8 122.3h0M368.9 126.3h0M400.4 108.9h0M398.9 130.4h0M429.6 121.5h0M386.6 117.7h0M415.5 123.2h0M401.2 117.5h0M380.9 119.9h0M427.2 121.1h0M424.3 117.2h0M401.7 122.8h0M409.0 116.7h0M394.8 131.8h0M415.8 129.2h0M406.3 113.5h0M377.7 101.4h0M400.5 120.4h0M365.0 127.1h0M397.2 129.9h0M417.0 117.2h0M402.3 114.9h0M418.1 115.7h0M424.1 113.2h0M394.4 124.1h0M445.6 124.5h0M444.6 117.8h0M380.1 111.2h0M411.1 111.9h0M382.7 96.2h0M374.8 99.3h0M388.6 114.5h0M416.1 118.0h0M403.3 113.5h0M417.4 125.8h0M429.9 113.2h0M383.4 109.0h0M380.8 114.7h0M385.9 126.4h0M442.0 119.4h0M395.6 112.1h0M429.4 120.1h0M391.8 108.1h0M400.4 98.7h0M402.5 107.5h0M404.3 122.4h0M372.7 102.3h0M398.6 126.0h0M375.9 93.4h0M382.0 117.2h0M406.8 135.8h0M420.6 118.2h0M408.0 113.1h0M439.4 119.2h0M390.4 110.7h0M371.0 111.5h0M364.7 119.2h0M445.5 125.7h0M445.0 111.9h0M422.1 116.8h0M394.7 103.9h0M376.6 108.3h0M394.0 112.2h0M376.7 112.9h0M403.2 111.8h0M423.0 120.7h0M406.8 114.9h0M396.8 94.2h0M411.5 106.2h0M400.5 115.6h0M380.6 113.2h0M407.7 116.5h0M392.2 117.5h0M396.5 124.3h0M384.8 116.0h0M427.4 117.8h0M424.0 122.1h0M401.7 110.8h0M425.9 113.1h0M377.3 110.0h0M389.6 114.5h0M402.0 120.3h0M391.7 116.5h0M404.1 113.8h0M424.5 125.3h0M398.8 104.5h0M391.7 128.0h0M391.3 114.0h0M405.4 119.1h0M396.6 127.0h0M434.4 107.7h0M425.7 111.4h0M426.8 104.6h0M423.6 128.6h0M392.4 102.6h0M400.5 115.4h0M413.3 112.5h0M411.2 118.3h0M432.7 116.4h0M464.4 118.4h0M410.5 105.2h0M401.0 132.3h0M415.1 133.5h0M416.7 123.6h0M369.2 114.1h0M418.5 115.7h0M413.2 116.2h0M398.9 105.9h0M410.1 106.1h0M400.6 114.7h0M427.1 117.9h0M407.8 127.2h0M418.0 109.1h0M431.4 120.8h0M413.9 103.2h0M404.0 116.3h0M417.1 124.4h0M426.1 112.5h0M393.1 118.5h0M402.0 128.1h0M417.4 123.4h0M412.4 126.6h0M413.6 110.0h0M405.5 104.3h0M414.6 106.7h0M450.3 112.7h0M450.0 123.7h0M417.2 101.6h0M401.5 116.0h0M456.0 117.9h0M398.1 104.7h0M398.0 109.8h0M394.3 108.2h0M404.9 114.8h0M430.5 126.2h0M383.0 126.8h0M382.4 108.6h0M426.2 116.9h0M407.7 120.0h0M409.1 112.6h0M424.0 135.6h0M424.9 111.0h0M385.4 124.6h0M352.2 117.7h0M387.8 118.3h0M429.7 124.3h0M449.4 112.6h0M399.2 114.8h0M399.2 115.1h0M421.6 116.4h0M362.5 126.4h0M419.4 115.4h0M433.4 125.0h0M425.0 139.9h0M355.9 101.3h0M382.9 107.0h0M411.4 101.6h0M424.2 113.7h0M408.1 100.6h0M396.8 117.4h0M410.6 121.1h0M363.9 116.1h0M402.2 108.8h0M456.0 110.0h0M395.8 108.9h0M411.2 106.4h0M460.8 114.9h0M400.1 138.7h0M396.3 122.3h0M407.8 108.7h0M423.2 119.0h0M406.6 110.8h0M412.2 103.0h0M416.8 115.1h0M395.2 104.7h0M412.3 119.6h0M360.4 120.8h0M398.4 99.2h0M423.6 117.7h0M414.5 122.1h0M363.9 105.5h0M416.9 118.0h0M414.5 111.5h0M400.5 116.0h0M419.9 93.4h0M396.6 122.4h0M394.1 120.2h0M387.9 118.6h0M396.8 105.3h0M421.4 122.6h0M468.8 124.6h0M400.8 129.9h0M375.5 100.2h0M454.1 107.0h0M420.4 125.4h0M404.6 119.5h0M393.1 124.7h0M422.7 111.3h0M426.1 112.1h0M425.9 119.8h0M392.9 101.6h0M417.1 115.0h0M401.2 107.7h0M391.7 107.1h0M388.9 117.3h0M408.0 117.7h0M391.7 104.9h0M366.9 109.8h0M405.4 109.4h0M388.1 110.0h0M389.4 118.9h0M401.4 111.5h0M416.4 119.7h0M399.3 125.8h0M417.2 125.4h0M422.1 116.6h0M420.8 127.5h0M441.4 117.0h0M407.7 114.9h0M419.4 103.9h0M413.0 119.1h0M382.3 126.6h0M429.4 114.6h0M406.7 120.4h0M418.1 119.6h0M432.0 119.5h0M396.3 126.9h0M410.6 116.7h0M405.2 106.5h0M391.1 115.2h0M441.1 118.8h0M375.5 113.2h0M381.9 117.8h0M416.8 126.7h0M455.8 134.3h0M378.7 91.8h0M429.0 117.2h0M407.2 111.6h0M404.6 97.9h0M414.7 116.8h0M399.8 110.3h0M422.2 109.0h0M415.2 129.1h0M400.8 116.4h0M356.4 95.8h0M379.7 125.5h0M445.9 109.4h0M378.7 101.3h0M441.5 109.0h0M412.0 120.7h0M405.4 130.5h0M426.6 125.2h0M423.1 121.5h0M370.4 123.0h0M430.7 109.0h0M403.2 98.9h0M420.6 115.2h0M423.0 127.9h0M402.2 121.3h0M422.0 113.1h0M360.1 105.0h0M391.3 117.1h0M403.8 104.8h0M395.0 136.6h0M421.5 119.9h0M410.4 121.8h0M390.6 121.4h0M408.1 112.9h0M463.4 120.1h0M425.0 121.1h0M407.6 112.7h0M422.3 125.0h0M438.2 110.9h0M394.6 110.6h0M393.6 116.9h0M409.9 108.3h0M423.3 116.5h0M398.0 121.4h0M387.8 111.8h0M401.8 110.9h0M443.2 114.3h0M374.3 106.3h0M428.6 130.3h0M419.6 119.9h0M402.8 116.5h0M422.0 120.1h0M424.4 114.6h0M438.4 110.9h0M379.1 119.3h0M419.1 125.4h0M412.1 120.4h0M408.5 100.1h0M397.1 138.1h0M396.5 104.9h0M408.6 102.4h0M399.2 122.2h0M372.1 114.8h0M399.4 126.2h0M411.3 111.1h0M398.5 123.8h0M405.1 122.7h0M416.1 108.6h0M403.0 120.0h0M389.3 110.5h0M391.4 126.5h0M406.9 103.5h0M399.6 115.6h0M464.0 109.4h0M397.0 121.6h0M411.5 129.0h0M378.9 106.0h0M449.2 107.1h0M439.3 128.7h0M403.4 121.4h0M380.1 121.6h0M404.1 115.5h0M422.8 110.8h0M415.8 119.3h0M389.3 100.9h0M420.7 118.4h0M431.7 123.2h0M401.6 117.7h0M406.5 114.3h0M429.3 121.9h0M400.9 136.1h0M393.6 114.3h0M464.2 127.3h0M397.1 124.1h0M415.1 117.9h0M421.9 131.4h0M407.7 117.3h0M454.6 116.7h0M413.9 117.3h0M412.1 117.3h0M391.3 129.9h0M426.1 116.8h0M353.1 127.5h0M395.4 93.0h0M432.4 121.6h0M409.4 114.7h0M400.1 102.8h0M415.6 117.8h0M410.5 98.0h0M452.0 116.6h0M422.5 114.2h0M417.1 126.6h0M395.1 138.8h0M365.4 113.8h0M410.9 112.4h0M402.1 115.6h0M432.2 125.9h0M442.2 124.7h0M394.9 113.3h0M438.6 130.1h0M438.3 136.6h0M375.6 129.2h0M419.0 112.5h0M403.5 102.3h0M433.8 114.5h0M398.2 109.1h0M430.6 125.6h0M425.9 108.8h0M417.9 121.1h0M438.6 112.7h0M457.3 118.5h0M417.7 99.9h0M375.1 104.1h0M398.4 121.6h0M433.2 111.9h0M399.7 97.8h0M406.3 117.3h0M397.3 112.8h0M391.2 111.8h0M420.4 122.5h0M416.2 123.5h0M404.7 122.5h0M395.5 106.6h0M404.8 116.4h0M385.9 105.3h0M450.2 127.4h0M378.8 121.0h0M391.7 117.2h0M415.9 107.2h0M368.6 97.0h0M461.2 114.0h0M395.6 114.6h0M367.0 102.5h0M395.8 95.0h0M382.3 106.4h0M405.0 120.8h0M410.2 125.5h0M413.8 102.8h0M420.3 137.5h0M448.7 128.0h0M398.0 110.3h0M426.9 129.7h0M399.8 118.0h0M379.7 112.6h0M440.1 130.3h0M403.7 131.7h0M398.1 110.9h0M431.8 119.1h0M416.9 122.1h0M393.6 112.2h0M418.8 120.0h0M397.0 114.7h0M387.6 110.8h0M463.3 123.3h0M399.5 101.3h0M416.5 131.8h0M408.9 103.5h0M429.7 120.0h0M379.2 122.7h0M402.0 117.5h0M423.5 128.2h0M437.3 134.1h0M398.7 133.4h0M392.4 117.9h0M383.2 120.9h0M361.8 99.3h0M388.3 119.3h0M390.8 99.1h0M437.5 110.5h0M406.2 98.9h0M362.5 107.9h0M405.8 104.7h0M421.8 111.7h0M394.5 99.8h0M403.3 128.6h0M424.7 133.0h0M368.8 134.1h0M414.3 142.1h0M406.0 125.1h0M433.2 115.6h0M416.9 108.2h0M429.5 123.6h0M400.3 128.2h0M401.8 119.1h0M390.5 121.4h0M424.4 108.0h0M390.2 115.3h0M442.7 100.6h0M424.7 119.4h0M387.5 114.4h0M419.3 118.9h0M424.5 121.2h0M415.7 119.1h0M394.6 113.5h0M413.4 108.0h0M412.8 112.3h0M396.8 109.4h0M422.7 121.4h0M408.2 110.5h0M416.3 121.0h0M414.7 115.4h0M418.2 114.2h0M430.1 116.0h0M390.2 125.7h0M415.8 103.0h0M408.3 123.6h0M362.3 110.5h0M416.5 96.1h0M464.0 112.7h0M388.7 117.3h0M396.3 128.0h0M414.0 126.5h0M407.0 122.1h0M400.9 112.2h0M369.3 105.7h0M411.7 122.0h0M415.6 121.7h0M385.9 104.0h0M412.8 140.5h0M395.7 121.3h0M433.1 92.6h0M382.6 116.4h0M381.4 100.1h0M383.9 111.9h0M426.3 113.9h0M408.5 109.5h0M406.1 119.5h0M391.8 118.9h0M412.7 124.8h0M423.5 102.8h0M409.1 109.8h0M412.8 116.2h0M406.0 114.8h0M402.1 96.4h0M382.9 109.0h0M415.5 113.7h0M386.6 109.5h0M407.3 113.5h0M404.1 120.1h0M381.6 102.9h0M376.7 106.6h0M407.8 113.7h0M399.7 109.3h0M429.7 126.5h0M403.8 100.0h0M399.1 112.7h0M400.7 98.2h0M416.5 126.2h0M404.5 111.7h0M382.2 124.2h0M407.9 104.5h0M416.5 113.3h0M415.0 118.3h0M423.0 117.8h0M439.6 112.3h0M393.9 114.2h0M379.7 110.4h0M382.4 119.0h0M408.8 117.8h0M417.5 111.2h0M420.0 120.0h0M412.5 121.7h0M427.1 124.2h0M400.4 131.0h0M421.4 109.5h0M379.3 110.4h0M437.7 127.6h0M450.4 134.5h0M393.3 129.8h0M394.6 106.3h0M406.5 118.5h0M387.0 114.6h0M385.6 110.3h0M395.9 108.9h0M390.2 107.7h0M380.3 114.8h0M412.9 112.8h0M402.4 138.1h0M391.6 109.7h0M384.2 126.9h0M365.7 136.6h0M381.1 127.4h0M393.6 110.9h0M405.7 122.5h0M377.7 110.2h0M396.7 123.4h0M396.2 112.0h0M374.8 111.4h0M395.7 118.7h0M414.4 115.6h0M352.1 114.0h0M401.8 125.9h0M371.0 120.2h0M404.1 105.8h0M346.1 121.3h0M408.9 116.2h0M406.0 121.6h0M430.4 140.1h0M417.3 115.5h0M417.2 111.3h0M417.9 123.2h0M438.2 123.3h0M415.6 122.0h0M413.6 121.5h0M405.8 119.0h0M404.5 116.0h0M397.1 121.4h0M410.4 127.6h0M402.5 113.7h0M430.4 105.7h0M363.0 107.9h0M410.9 113.3h0M398.3 114.7h0M400.3 114.4h0M405.5 119.1h0M410.8 110.3h0M395.3 111.1h0M427.9 115.0h0M438.8 114.6h0M403.0 122.7h0M386.8 128.3h0M408.2 132.4h0M388.1 108.6h0M424.6 128.4h0M405.1 105.7h0M438.4 145.1h0M394.3 130.2h0M403.2 121.4h0M400.1 106.6h0M435.1 104.8h0M413.8 128.1h0M397.7 112.4h0M388.3 107.3h0M415.5 114.1h0M408.6 119.7h0M406.4 116.7h0M391.0 107.0h0M410.6 131.9h0M404.0 112.6h0M414.5 113.0h0M410.2 124.4h0M404.0 112.8h0M366.2 114.5h0M400.6 120.8h0M398.2 112.4h0M398.3 108.5h0M410.6 113.2h0M426.2 106.1h0M393.5 128.8h0M417.2 116.8h0M413.0 111.0h0M390.1 110.2h0M419.1 121.1h0M390.3 128.8h0M403.5 110.8h0M372.8 132.4h0M391.8 133.3h0M434.8 121.4h0M415.3 117.5h0M390.4 119.4h0M397.3 128.6h0M408.3 119.0h0M416.2 118.2h0M423.4 117.9h0M433.7 119.6h0M410.1 98.8h0M400.4 111.5h0M460.4 114.0h0M419.6 109.0h0M422.1 116.3h0M394.4 118.8h0M426.0 119.2h0M398.8 125.6h0M449.2 125.8h0M414.1 112.6h0M410.7 113.9h0M384.0 126.3h0M407.5 94.0h0M417.0 122.4h0M384.8 117.9h0M390.0 109.3h0M429.8 125.8h0M384.5 131.7h0M415.2 115.5h0M432.8 111.9h0M425.1 116.8h0M434.1 117.4h0M418.1 120.6h0M384.6 125.6h0M399.5 124.8h0M410.1 104.9h0M421.1 128.0h0M399.7 114.6h0M377.0 124.8h0M378.7 138.8h0M396.7 99.5h0M394.8 97.7h0M448.9 102.9h0M385.6 102.8h0M407.1 116.3h0M432.1 110.3h0M394.0 112.8h0M369.7 123.7h0M434.8 124.2h0M421.0 116.4h0M393.6 99.5h0M412.2 117.4h0M407.9 118.0h0M418.1 117.4h0M390.1 125.3h0M414.6 127.2h0M449.3 117.9h0M408.6 106.8h0M415.2 117.8h0M362.6 128.0h0M422.2 113.0h0M399.0 115.3h0M408.6 117.0h0M444.1 119.3h0M430.3 116.9h0M462.9 125.8h0M439.6 124.8h0M394.3 114.6h0M423.3 102.0h0M410.1 114.4h0M395.4 113.5h0M425.5 113.5h0M447.2 111.5h0M422.8 112.1h0M378.4 114.9h0M396.2 125.8h0M430.2 113.6h0M395.6 118.1h0M419.9 130.2h0M442.7 122.3h0M429.8 124.0h0M371.2 104.4h0M439.3 115.2h0M397.6 122.4h0M418.7 118.6h0M439.9 125.7h0M398.4 97.4h0M410.6 109.0h0M418.0 122.9h0M400.2 109.7h0M431.9 108.0h0M376.8 114.4h0M401.7 118.8h0M366.3 120.8h0M415.9 111.6h0M404.6 99.7h0M395.0 117.6h0M385.6 120.3h0M391.7 118.0h0M373.1 109.6h0M397.1 102.4h0M448.3 120.4h0M393.4 110.6h0M411.3 112.9h0M411.2 127.3h0M409.0 125.4h0M413.2 123.2h0M397.4 117.9h0M426.1 126.0h0M430.6 143.7h0M439.8 117.7h0M390.5 115.6h0M381.2 114.3h0M364.8 127.7h0M396.1 105.9h0M424.0 117.4h0M395.1 117.9h0M409.5 124.6h0M402.9 113.9h0M416.9 113.1h0M387.8 116.7h0M395.2 119.9h0M412.5 105.4h0M395.7 108.0h0M388.8 109.2h0M427.9 107.9h0M407.2 113.0h0M432.3 108.5h0M375.3 107.0h0M405.0 102.1h0M402.0 115.9h0M414.4 117.2h0M379.5 112.2h0M412.1 115.6h0M395.5 121.4h0M426.0 133.2h0M429.0 125.8h0M416.0 119.0h0M429.1 134.9h0M386.4 121.3h0M444.3 123.3h0M384.5 116.0h0M401.3 126.8h0M438.5 110.1h0M377.6 119.9h0M384.7 121.2h0M464.9 132.0h0M414.5 94.6h0M423.2 126.4h0M396.3 116.1h0M448.2 122.9h0M429.9 116.8h0M422.9 113.0h0M398.3 121.9h0M420.8 111.2h0M427.7 133.3h0M417.4 108.2h0M388.9 119.8h0M416.0 119.2h0M403.5 113.1h0M452.9 118.7h0M414.5 103.6h0M427.6 127.5h0M433.7 102.7h0M419.7 122.9h0M428.8 121.6h0M383.6 118.5h0M400.6 140.1h0M389.3 114.7h0M426.9 121.4h0M370.9 121.0h0M392.5 89.9h0M379.6 103.6h0M406.0 119.4h0M429.2 121.4h0M411.4 115.9h0M388.1 116.4h0M416.3 112.4h0M426.2 117.8h0M393.1 105.3h0M425.1 126.3h0M399.8 119.6h0M452.2 125.1h0M373.0 116.3h0M392.1 114.1h0M436.1 124.7h0M394.7 127.4h0M401.8 125.4h0M397.7 110.0h0M406.9 119.5h0M436.7 120.8h0M409.8 108.8h0M384.3 118.6h0M419.7 118.4h0M406.5 118.9h0M391.1 118.8h0M441.9 124.0h0M413.1 121.1h0M408.6 118.0h0M419.9 114.9h0M419.4 119.1h0M414.6 119.9h0M388.9 94.0h0M423.2 116.9h0M427.0 110.6h0M398.8 126.8h0M378.6 100.9h0M416.5 128.2h0M408.0 104.0h0M411.0 124.1h0M417.7 123.3h0M395.6 98.6h0M397.3 108.1h0M397.1 117.5h0M380.7 109.1h0M369.6 123.3h0M433.9 126.7h0M406.0 105.5h0M405.6 104.0h0M384.9 107.3h0M429.8 115.6h0M390.8 101.5h0M410.3 112.0h0M420.8 114.3h0M384.5 118.8h0M421.7 113.4h0M415.0 112.9h0M428.3 142.8h0M405.5 112.2h0M414.3 128.7h0M410.3 121.2h0M390.9 116.0h0M421.0 119.6h0M414.6 115.8h0M379.3 114.1h0M417.9 120.9h0M426.5 122.0h0M413.6 116.2h0M411.5 116.4h0M411.1 107.4h0M409.8 121.7h0M413.3 119.3h0M437.9 105.3h0M396.7 121.1h0M369.5 115.1h0M424.8 118.2h0M372.7 119.4h0M418.6 114.7h0M413.2 117.9h0M390.5 126.9h0M402.4 120.7h0M386.9 113.1h0M410.9 113.0h0M413.3 103.3h0M419.8 114.0h0M402.1 109.2h0M429.7 123.5h0M396.9 110.4h0M464.6 103.9h0M414.8 108.8h0M406.9 134.9h0M426.9 120.7h0M383.9 110.5h0M393.2 99.3h0M386.6 105.4h0M416.8 114.0h0M382.7 122.3h0M397.3 110.4h0M435.8 119.5h0M401.4 124.4h0M454.5 122.6h0M396.0 105.9h0M374.5 107.6h0M432.8 127.2h0M383.9 120.6h0M386.7 116.6h0M418.8 121.9h0M416.6 122.4h0M418.2 132.6h0M394.3 118.6h0M373.1 118.7h0M395.3 106.3h0M401.2 97.1h0M394.7 115.8h0M384.6 123.8h0M399.7 112.7h0M352.1 112.9h0M396.7 110.7h0M436.6 106.4h0M422.7 118.0h0M411.6 110.2h0M410.0 105.7h0M427.5 110.1h0M420.5 115.0h0M422.6 115.9h0M414.5 117.2h0M412.2 109.8h0M400.6 130.3h0M403.4 115.2h0M417.3 113.6h0M403.2 113.8h0M402.2 128.0h0M385.8 110.5h0M384.3 118.3h0M402.8 118.8h0M403.7 108.2h0M416.4 113.3h0M395.2 114.2h0M436.3 135.9h0M397.3 106.9h0M413.0 118.7h0M365.3 118.0h0M386.5 108.3h0M424.6 116.5h0M426.1 108.1h0M446.5 136.7h0M356.1 114.1h0M416.4 114.4h0M418.4 121.9h0M407.5 110.9h0M405.6 103.4h0M428.4 118.5h0M415.5 114.0h0M424.3 114.6h0M385.6 105.0h0M381.6 107.2h0M394.8 121.4h0M400.9 115.3h0M438.5 144.5h0M387.9 110.0h0M418.3 129.1h0M422.2 127.1h0M423.4 124.0h0M393.9 124.8h0M408.7 109.2h0M423.4 115.4h0M390.3 113.0h0M402.0 111.0h0M373.3 116.8h0M404.4 112.8h0M404.1 91.7h0M421.8 127.1h0M397.2 121.6h0M419.7 125.6h0M406.8 107.1h0M388.0 116.3h0M403.5 114.1h0M386.3 121.0h0M381.6 110.8h0M402.1 116.8h0M386.9 104.5h0M397.3 112.4h0M402.0 115.4h0M414.7 119.7h0M395.3 116.8h0M395.2 126.8h0M442.0 125.7h0M383.5 108.6h0M408.6 113.1h0M405.6 107.7h0M401.4 105.4h0M428.2 112.9h0M398.0 116.7h0M405.4 118.7h0M359.2 119.3h0M382.1 107.6h0M394.2 135.7h0M405.2 115.4h0M427.1 125.6h0M390.4 126.2h0M408.7 121.9h0M427.2 131.3h0M384.2 89.5h0M414.1 116.9h0M418.0 120.2h0M417.7 117.2h0M408.1 88.2h0M405.7 118.7h0M412.9 111.5h0M380.6 109.5h0M391.9 118.3h0M399.6 115.1h0M404.2 110.2h0M421.2 113.5h0M431.5 113.1h0M434.9 118.1h0M400.2 104.9h0M411.1 111.0h0M381.2 116.7h0M401.3 107.3h0M434.9 114.7h0M398.0 121.4h0M444.6 112.4h0M422.1 115.2h0M420.2 130.2h0M364.4 70.8h0M374.5 71.2h0M368.9 79.7h0M374.1 80.4h0M362.9 81.2h0M372.1 83.1h0M358.5 85.2h0M366.6 87.1h0M342.1 87.6h0M343.9 86.4h0M348.8 89.7h0M351.3 90.8h0M385.2 83.1h0M386.0 85.6h0M391.9 86.7h0M398.6 86.1h0M401.6 84.6h0M404.5 86.4h0M407.5 78.7h0M379.3 86.7h0M383.7 90.1h0M388.2 91.6h0M309.4 109.9h0M322.0 109.9h0M328.4 104.2h0M338.0 105.0h0M345.1 101.2h0M342.1 107.2h0M343.6 108.7h0M312.3 123.0h0M315.3 122.1h0M346.9 129.0h0M359.6 151.1h0M355.2 179.2h0M386.3 178.0h0M439.5 158.2h0M507.5 140.8h0M496.6 103.2h0M502.5 105.6h0M499.6 116.2h0M485.4 125.1h0M491.3 123.6h0M467.0 142.2h0M444.0 89.0h0M467.6 100.2h0M464.6 104.4h0M475.0 121.5h0M393.7 151.1h0M386.3 145.2h0M346.3 121.5h0M343.4 115.6h0M314.4 113.2h0" stroke="#1f77b4" stroke-width="2.6" stroke-linecap="round" fill="none"/>
<path d="M299.60 114.55H516.80M407.15 18.30V204.30" stroke="#919191" stroke-opacity="0.67" stroke-width="1.6" fill="none"/>
<line x1="299.60" y1="97.41" x2="516.80" y2="132.02" stroke="#000" stroke-width="2.1"/>
</g>
<rect x="299.60" y="18.30" width="217.20" height="186.00" fill="none" stroke="#505050" stroke-width="1.4"/>
<path d="M306.75 204.30v-1.90M306.75 18.30v1.90M317.91 204.30v-3.00M317.91 18.30v3.00M329.06 204.30v-1.90M329.06 18.30v1.90M340.22 204.30v-1.90M340.22 18.30v1.90M351.38 204.30v-1.90M351.38 18.30v1.90M362.53 204.30v-3.00M362.53 18.30v3.00M373.68 204.30v-1.90M373.68 18.30v1.90M384.84 204.30v-1.90M384.84 18.30v1.90M396.00 204.30v-1.90M396.00 18.30v1.90M407.15 204.30v-3.00M407.15 18.30v3.00M418.30 204.30v-1.90M418.30 18.30v1.90M429.46 204.30v-1.90M429.46 18.30v1.90M440.62 204.30v-1.90M440.62 18.30v1.90M451.77 204.30v-3.00M451.77 18.30v3.00M462.92 204.30v-1.90M462.92 18.30v1.90M474.08 204.30v-1.90M474.08 18.30v1.90M485.24 204.30v-1.90M485.24 18.30v1.90M496.39 204.30v-3.00M496.39 18.30v3.00M507.54 204.30v-1.90M507.54 18.30v1.90M299.60 201.45h1.90M516.80 201.45h-1.90M299.60 193.55h3.00M516.80 193.55h-3.00M299.60 185.65h1.90M516.80 185.65h-1.90M299.60 177.75h1.90M516.80 177.75h-1.90M299.60 169.85h1.90M516.80 169.85h-1.90M299.60 161.95h1.90M516.80 161.95h-1.90M299.60 154.05h3.00M516.80 154.05h-3.00M299.60 146.15h1.90M516.80 146.15h-1.90M299.60 138.25h1.90M516.80 138.25h-1.90M299.60 130.35h1.90M516.80 130.35h-1.90M299.60 122.45h1.90M516.80 122.45h-1.90M299.60 114.55h3.00M516.80 114.55h-3.00M299.60 106.65h1.90M516.80 106.65h-1.90M299.60 98.75h1.90M516.80 98.75h-1.90M299.60 90.85h1.90M516.80 90.85h-1.90M299.60 82.95h1.90M516.80 82.95h-1.90M299.60 75.05h3.00M516.80 75.05h-3.00M299.60 67.15h1.90M516.80 67.15h-1.90M299.60 59.25h1.90M516.80 59.25h-1.90M299.60 51.35h1.90M516.80 51.35h-1.90M299.60 43.45h1.90M516.80 43.45h-1.90M299.60 35.55h3.00M516.80 35.55h-3.00M299.60 27.65h1.90M516.80 27.65h-1.90M299.60 19.75h1.90M516.80 19.75h-1.90" stroke="#505050" stroke-width="1.0" fill="none"/>
<clipPath id="c02"><rect x="542.20" y="18.30" width="216.80" height="186.00"/></clipPath>
<g clip-path="url(#c02)">
<path d="M655.8 112.8h0M676.3 120.5h0M623.8 118.2h0M642.9 118.7h0M634.1 101.7h0M660.5 122.5h0M666.1 109.9h0M636.9 114.6h0M650.1 116.9h0M648.5 115.1h0M636.7 107.4h0M652.1 123.7h0M668.3 116.7h0M640.1 116.1h0M663.3 113.8h0M648.6 111.3h0M661.5 121.8h0M628.4 107.2h0M679.2 116.4h0M618.9 116.9h0M629.7 133.5h0M679.4 115.3h0M696.0 132.1h0M653.7 110.0h0M667.6 107.2h0M650.8 115.1h0M661.2 115.3h0M644.3 115.6h0M641.6 108.1h0M675.8 112.7h0M651.2 103.1h0M652.2 97.0h0M666.2 120.6h0M654.4 122.6h0M638.1 106.0h0M666.8 110.1h0M633.5 112.1h0M654.1 113.6h0M654.6 119.1h0M669.5 105.6h0M631.5 115.9h0M667.1 116.3h0M653.2 127.1h0M641.3 95.4h0M649.4 113.5h0M643.3 100.3h0M662.7 120.7h0M675.1 131.9h0M656.5 128.1h0M654.4 126.1h0M687.1 118.5h0M649.4 119.1h0M660.2 107.1h0M649.1 105.5h0M658.9 93.3h0M638.3 114.3h0M654.8 116.1h0M648.8 97.1h0M660.5 118.9h0M629.9 120.7h0M640.3 111.4h0M639.6 111.9h0M651.5 112.3h0M643.5 107.8h0M659.3 121.5h0M661.0 116.3h0M656.3 108.9h0M662.9 122.5h0M679.0 121.8h0M661.3 104.5h0M673.6 121.3h0M664.8 120.3h0M681.1 113.4h0M660.3 121.4h0M663.5 106.3h0M658.6 128.9h0M629.0 94.0h0M665.7 121.2h0M622.7 110.2h0M642.1 110.4h0M651.7 125.0h0M673.2 115.7h0M646.4 112.2h0M665.2 95.3h0M655.9 113.5h0M665.6 106.8h0M676.7 132.2h0M673.1 123.6h0M664.0 110.7h0M679.3 116.4h0M646.2 104.3h0M615.9 112.6h0M634.0 121.0h0M652.9 120.7h0M650.3 121.7h0M680.5 112.7h0M675.7 135.1h0M645.5 111.0h0M659.8 122.9h0M644.0 109.2h0M647.2 113.5h0M686.7 115.3h0M676.8 128.7h0M642.6 116.0h0M627.2 110.9h0M680.3 116.1h0M665.4 111.6h0M661.1 107.7h0M646.9 105.8h0M644.6 107.3h0M645.0 106.7h0M664.9 111.8h0M662.8 123.0h0M640.6 117.3h0M665.6 113.0h0M670.6 116.1h0M646.0 114.4h0M668.5 112.3h0M648.8 111.6h0M641.1 97.6h0M651.1 113.2h0M644.2 108.0h0M644.1 104.0h0M652.8 117.7h0M666.3 112.4h0M684.5 112.6h0M644.3 117.3h0M658.7 108.5h0M646.7 111.9h0M648.8 114.7h0M632.5 112.5h0M641.7 112.5h0M642.2 112.4h0M653.2 108.5h0M670.0 118.2h0M636.7 108.8h0M680.6 116.5h0M630.2 107.6h0M664.7 128.0h0M681.0 118.9h0M665.7 118.1h0M669.0 108.4h0M683.4 109.8h0M668.0 113.8h0M640.9 113.5h0M625.6 110.9h0M662.7 126.7h0M621.2 127.7h0M648.5 116.3h0M648.7 110.5h0M637.5 116.0h0M619.0 112.7h0M662.0 126.5h0M641.1 105.4h0M660.3 113.6h0M661.3 110.8h0M643.6 114.9h0M681.1 106.4h0M659.6 108.0h0M655.6 117.0h0M677.9 122.4h0M678.4 123.4h0M645.4 120.9h0M669.1 120.1h0M631.5 112.2h0M641.0 104.4h0M649.8 124.2h0M645.8 103.5h0M655.2 116.5h0M668.5 120.5h0M631.9 108.3h0M644.0 116.6h0M644.6 134.5h0M644.3 106.9h0M663.7 110.4h0M617.6 105.2h0M643.9 125.5h0M660.3 119.8h0M646.1 111.9h0M646.7 106.5h0M649.3 110.2h0M625.8 110.3h0M634.7 113.6h0M662.2 113.8h0M657.4 113.2h0M645.0 116.1h0M653.7 114.0h0M653.2 119.9h0M658.3 125.4h0M661.9 119.7h0M634.9 103.8h0M633.9 111.4h0M663.5 119.1h0M650.3 121.7h0M660.8 128.7h0M643.8 107.2h0M638.8 108.0h0M672.7 114.3h0M668.2 110.2h0M668.5 108.2h0M657.9 114.3h0M648.1 123.3h0M642.1 114.3h0M652.0 114.0h0M669.7 117.0h0M657.9 125.4h0M634.4 113.9h0M658.5 121.8h0M648.8 112.1h0M694.5 121.9h0M657.1 108.2h0M658.6 137.1h0M645.2 116.4h0M679.9 119.8h0M658.1 104.1h0M671.5 114.7h0M664.9 109.8h0M652.0 110.9h0M692.1 127.2h0M641.7 118.8h0M626.0 123.0h0M650.1 124.4h0M655.6 113.7h0M668.2 115.3h0M657.9 113.7h0M648.3 113.3h0M636.8 116.1h0M639.6 107.4h0M676.1 108.6h0M623.8 112.3h0M636.7 118.7h0M635.2 128.9h0M637.1 104.8h0M660.4 112.5h0M664.2 115.9h0M647.8 109.2h0M639.4 99.8h0M683.0 117.4h0M621.0 100.6h0M648.7 112.9h0M665.9 122.7h0M664.1 121.5h0M646.1 102.6h0M651.8 118.8h0M646.5 112.4h0M652.7 109.3h0M646.6 110.2h0M643.4 114.4h0M665.8 122.7h0M683.2 118.3h0M655.8 113.3h0M645.9 121.0h0M657.1 120.6h0M675.4 120.5h0M642.8 118.3h0M612.0 104.1h0M670.8 121.3h0M663.8 118.3h0M669.1 122.5h0M654.6 116.5h0M684.0 122.4h0M613.3 103.8h0M634.5 109.2h0M648.0 120.5h0M664.8 119.6h0M683.6 110.4h0M661.8 116.5h0M655.7 106.9h0M650.9 123.7h0M688.8 112.9h0M660.1 106.8h0M642.9 113.6h0M667.0 119.1h0M645.1 118.2h0M648.6 121.0h0M670.5 113.4h0M653.7 112.5h0M682.0 122.1h0M665.3 117.4h0M651.3 111.7h0M670.3 109.1h0M637.4 123.5h0M654.3 115.8h0M653.1 116.0h0M625.3 91.5h0M648.9 115.6h0M645.2 126.1h0M643.9 101.7h0M643.4 108.9h0M662.6 121.5h0M631.6 117.8h0M648.4 119.8h0M652.2 107.1h0M645.4 117.4h0M643.2 124.0h0M643.1 107.0h0M647.2 105.7h0M652.7 103.5h0M661.3 119.3h0M635.1 102.6h0M677.9 113.2h0M658.3 128.8h0M634.9 108.0h0M632.2 115.9h0M645.3 110.0h0M670.5 115.1h0M648.4 113.1h0M634.4 112.9h0M661.5 111.7h0M630.4 102.9h0M661.1 119.1h0M611.0 106.1h0M650.4 131.1h0M607.7 109.0h0M661.3 112.3h0M673.8 121.7h0M652.6 105.5h0M651.4 108.2h0M669.1 107.9h0M645.7 110.4h0M641.6 115.4h0M648.6 116.9h0M660.4 117.7h0M675.4 114.0h0M626.6 113.1h0M642.5 109.8h0M645.0 122.0h0M674.7 107.4h0M655.0 104.6h0M676.0 127.6h0M647.8 116.3h0M674.5 118.0h0M677.6 115.1h0M650.4 125.8h0M666.6 124.3h0M671.6 112.4h0M675.3 118.1h0M691.0 105.8h0M635.9 114.5h0M641.8 120.3h0M626.1 114.7h0M672.3 118.7h0M650.6 108.6h0M653.1 112.0h0M654.6 115.3h0M670.9 123.8h0M662.5 134.6h0M664.6 123.2h0M648.1 117.6h0M649.7 114.3h0M659.7 126.6h0M641.1 115.9h0M661.6 101.1h0M651.7 114.5h0M634.2 111.7h0M642.8 117.0h0M691.9 104.6h0M645.9 100.5h0M675.4 111.4h0M667.8 111.5h0M647.7 118.1h0M667.9 114.4h0M659.4 129.1h0M646.6 127.0h0M664.5 127.9h0M653.1 114.3h0M655.4 111.1h0M636.6 121.3h0M657.8 115.8h0M626.2 115.3h0M635.0 103.6h0M646.3 126.8h0M643.9 112.4h0M681.4 120.0h0M638.4 113.4h0M633.4 121.3h0M617.6 115.3h0M661.5 118.0h0M647.9 103.8h0M652.9 125.4h0M662.6 107.7h0M662.6 135.0h0M657.9 104.7h0M656.2 112.5h0M660.9 112.7h0M625.8 103.9h0M651.5 110.3h0M648.0 108.4h0M630.0 108.8h0M646.2 116.7h0M652.6 115.2h0M657.4 115.4h0M659.5 125.0h0M634.0 105.8h0M653.9 121.5h0M678.3 114.1h0M636.5 113.8h0M650.8 118.8h0M652.0 111.5h0M654.2 123.7h0M646.6 117.1h0M621.1 123.2h0M667.1 118.4h0M644.0 116.5h0M657.3 121.8h0M666.9 113.0h0M643.7 106.5h0M663.4 107.0h0M644.6 97.6h0M629.2 110.2h0M650.5 109.5h0M652.1 116.9h0M700.8 122.0h0M665.1 122.6h0M638.2 99.1h0M651.9 97.7h0M658.6 102.2h0M688.3 129.4h0M656.6 119.5h0M666.1 114.2h0M669.5 113.1h0M640.8 96.4h0M625.4 108.8h0M665.2 131.8h0M652.0 116.8h0M665.0 123.8h0M665.3 117.0h0M691.3 124.3h0M664.0 119.7h0M660.2 116.0h0M661.2 99.9h0M654.2 116.0h0M634.8 113.7h0M678.2 121.7h0M652.6 121.1h0M656.6 116.6h0M648.8 114.2h0M650.3 103.4h0M649.6 123.9h0M663.6 108.2h0M679.0 112.9h0M618.8 109.3h0M678.9 113.6h0M655.3 119.0h0M673.0 112.7h0M668.2 108.7h0M653.7 111.3h0M653.9 110.7h0M651.8 133.0h0M606.6 110.6h0M654.8 124.8h0M658.1 121.0h0M655.0 107.0h0M626.9 110.4h0M666.9 133.0h0M662.0 107.0h0M647.5 107.7h0M660.3 124.4h0M669.1 107.7h0M637.3 106.6h0M657.1 114.9h0M638.7 117.5h0M654.4 110.3h0M642.3 107.0h0M641.4 110.5h0M649.3 105.4h0M643.3 116.7h0M669.7 103.2h0M680.5 113.1h0M646.5 111.5h0M666.4 118.8h0M664.4 114.6h0M627.1 105.2h0M671.5 117.1h0M698.5 113.7h0M644.7 93.5h0M631.5 106.3h0M645.5 116.2h0M642.8 115.6h0M623.0 114.1h0M667.4 121.4h0M624.1 103.7h0M667.2 113.1h0M646.9 111.5h0M663.8 123.7h0M662.2 117.2h0M655.6 118.2h0M674.7 115.7h0M653.5 120.4h0M654.8 109.5h0M638.4 108.5h0M653.8 121.1h0M638.0 106.9h0M649.5 112.8h0M641.7 107.1h0M666.4 119.0h0M664.4 105.2h0M674.7 110.6h0M634.4 111.5h0M672.4 120.9h0M642.6 118.0h0M646.1 108.6h0M656.8 103.0h0M679.0 124.2h0M633.7 118.0h0M665.1 114.5h0M644.0 103.2h0M638.6 111.1h0M644.2 107.6h0M677.6 129.1h0M623.5 109.8h0M659.2 120.7h0M650.5 107.1h0M636.0 113.1h0M629.9 106.6h0M662.3 106.9h0M671.1 119.7h0M647.4 107.3h0M655.3 129.1h0M642.7 111.6h0M634.4 102.6h0M647.5 108.9h0M657.7 121.9h0M632.8 105.0h0M627.1 105.5h0M642.9 107.7h0M637.5 115.2h0M646.9 121.5h0M660.2 115.3h0M649.5 133.8h0M662.9 104.9h0M671.5 121.1h0M675.9 115.4h0M652.0 116.9h0M622.2 121.5h0M687.1 117.4h0M661.0 113.3h0M651.1 122.5h0M655.9 119.3h0M656.9 115.1h0M630.0 111.6h0M648.6 119.3h0M655.1 116.7h0M614.6 106.1h0M671.5 116.7h0M677.6 126.8h0M622.8 107.5h0M639.9 116.9h0M634.5 119.3h0M656.0 115.0h0M671.4 106.2h0M622.4 101.2h0M685.9 121.0h0M665.2 124.9h0M634.0 117.3h0M692.6 127.7h0M671.1 123.6h0M658.4 103.7h0M655.8 116.3h0M647.1 111.6h0M668.4 116.5h0M658.6 111.2h0M642.4 110.8h0M670.4 118.3h0M664.6 129.9h0M680.5 120.4h0M691.0 109.6h0M650.1 109.6h0M656.2 120.7h0M646.1 117.2h0M651.4 119.6h0M632.2 107.0h0M650.3 119.6h0M664.4 107.1h0M671.1 117.9h0M642.6 99.0h0M628.9 107.0h0M645.3 115.5h0M653.1 107.6h0M643.7 108.5h0M647.0 120.4h0M660.7 121.8h0M670.1 110.5h0M619.9 107.4h0M664.6 124.5h0M665.6 112.6h0M641.3 115.4h0M627.2 109.4h0M666.7 118.1h0M664.7 121.0h0M638.8 107.1h0M651.3 109.6h0M631.9 114.0h0M639.4 115.2h0M650.0 104.2h0M635.0 107.4h0M673.7 124.1h0M658.9 112.3h0M628.8 108.8h0M659.7 119.4h0M666.7 105.7h0M651.5 128.6h0M676.2 113.7h0M656.4 118.3h0M647.0 108.2h0M643.1 112.3h0M672.3 118.0h0M640.4 117.1h0M635.3 117.9h0M632.2 104.2h0M659.3 108.7h0M648.0 110.6h0M635.4 103.1h0M644.0 107.5h0M656.9 114.0h0M635.7 110.8h0M645.2 108.7h0M627.7 104.5h0M624.1 113.7h0M668.2 120.9h0M627.0 110.0h0M661.2 116.8h0M651.9 106.1h0M660.2 130.4h0M651.4 114.3h0M670.3 113.0h0M638.3 115.3h0M638.8 115.8h0M646.3 109.6h0M679.8 123.3h0M631.2 111.1h0M678.2 127.7h0M641.0 115.3h0M660.4 119.9h0M677.8 112.7h0M665.4 117.7h0M621.7 98.1h0M664.7 104.8h0M697.8 119.7h0M637.5 121.9h0M654.2 112.8h0M652.0 100.6h0M668.7 117.8h0M655.0 112.6h0M662.6 119.0h0M649.5 110.7h0M649.1 111.9h0M664.0 120.9h0M668.0 121.7h0M649.7 106.2h0M672.6 100.7h0M647.9 107.0h0M651.6 121.9h0M652.6 126.1h0M651.4 106.3h0M620.3 115.2h0M644.2 114.1h0M659.4 93.8h0M648.4 115.9h0M645.8 112.3h0M658.6 121.8h0M657.6 113.3h0M613.6 95.2h0M682.6 119.0h0M658.7 116.6h0M655.2 105.4h0M686.4 112.9h0M639.7 107.8h0M653.6 113.0h0M643.4 129.6h0M673.5 113.5h0M659.1 113.1h0M657.0 108.4h0M623.3 121.2h0M651.6 110.5h0M635.9 115.4h0M689.8 120.6h0M652.8 104.3h0M685.3 122.6h0M634.7 118.4h0M644.3 123.7h0M635.5 119.5h0M632.3 111.8h0M635.7 96.3h0M652.5 112.9h0M650.4 121.4h0M663.9 110.9h0M676.2 117.9h0M649.6 109.7h0M628.4 116.5h0M632.6 115.6h0M666.4 126.5h0M662.2 104.8h0M654.8 109.7h0M658.0 114.7h0M649.9 114.8h0M644.2 123.8h0M658.3 124.0h0M681.7 122.6h0M659.8 116.4h0M630.5 123.5h0M640.5 108.4h0M636.2 114.3h0M639.1 121.6h0M691.8 122.3h0M625.1 108.7h0M668.6 105.3h0M652.2 119.0h0M627.0 109.9h0M643.8 105.5h0M606.4 107.7h0M678.2 113.8h0M666.4 108.1h0M683.6 126.1h0M673.9 117.2h0M641.7 101.0h0M631.4 104.2h0M654.4 126.6h0M669.7 124.5h0M633.4 102.3h0M662.7 109.7h0M638.9 110.7h0M655.7 123.7h0M644.6 110.8h0M628.8 101.5h0M661.2 118.3h0M664.5 118.6h0M655.7 116.7h0M668.3 115.0h0M653.9 111.1h0M644.4 111.8h0M669.0 120.0h0M658.2 121.3h0M619.2 109.5h0M670.0 126.2h0M668.9 118.4h0M642.7 113.1h0M632.9 108.6h0M614.0 114.8h0M650.9 123.4h0M648.0 126.2h0M654.5 109.2h0M650.0 120.0h0M664.4 119.0h0M640.8 117.6h0M635.9 110.3h0M646.2 120.2h0M656.9 107.1h0M676.9 123.5h0M637.6 112.9h0M666.6 110.8h0M652.8 108.5h0M686.0 121.2h0M658.7 117.1h0M651.1 106.6h0M640.6 114.7h0M632.5 115.3h0M656.4 115.1h0M615.4 103.8h0M659.8 101.3h0M657.4 122.6h0M615.7 99.9h0M690.4 114.8h0M637.2 114.5h0M665.8 117.3h0M654.1 111.5h0M666.0 121.4h0M651.4 103.5h0M656.6 116.4h0M678.2 112.7h0M651.8 112.0h0M662.1 119.1h0M667.0 124.2h0M649.7 97.7h0M639.9 115.3h0M672.2 121.8h0M671.2 111.5h0M612.1 111.8h0M640.0 113.6h0M624.1 111.7h0M641.3 104.4h0M664.9 109.4h0M629.2 124.0h0M676.8 123.3h0M650.5 114.7h0M627.4 103.7h0M669.2 123.0h0M659.6 115.5h0M633.7 107.5h0M677.9 112.0h0M650.6 119.8h0M652.7 118.3h0M649.4 113.2h0M668.9 121.2h0M661.3 113.2h0M643.3 110.3h0M663.5 114.9h0M668.7 96.5h0M630.2 125.0h0M665.1 110.5h0M551.8 26.3h0M557.4 78.6h0M556.2 112.1h0M574.0 97.3h0M579.9 102.3h0M585.8 106.7h0M590.8 105.3h0M587.0 103.2h0M627.8 76.3h0M629.3 77.8h0M639.0 78.6h0M679.5 86.9h0M660.3 85.4h0M651.4 84.6h0M610.9 90.8h0M620.4 87.5h0M602.6 123.0h0M612.1 128.0h0M619.5 130.4h0M703.2 106.2h0M710.6 115.6h0M720.4 122.1h0M726.0 126.6h0M749.1 117.4h0M706.2 121.5h0M709.1 123.0h0M692.3 142.8h0M686.9 150.2h0M677.2 151.7h0M678.7 153.2h0M683.4 162.4h0M681.6 176.6h0M681.6 178.0h0M630.7 171.2h0M632.8 179.8h0M653.8 185.4h0M649.4 147.3h0M660.9 145.8h0M639.0 137.8h0M645.5 135.7h0M672.2 137.8h0" stroke="#1f77b4" stroke-width="2.6" stroke-linecap="round" fill="none"/>
<path d="M542.20 114.55H759.00M652.90 18.30V204.30" stroke="#919191" stroke-opacity="0.67" stroke-width="1.6" fill="none"/>
<line x1="542.20" y1="88.08" x2="759.00" y2="139.92" stroke="#000" stroke-width="2.1"/>
</g>
<rect x="542.20" y="18.30" width="216.80" height="186.00" fill="none" stroke="#505050" stroke-width="1.4"/>
<path d="M548.84 204.30v-1.90M548.84 18.30v1.90M560.40 204.30v-3.00M560.40 18.30v3.00M571.96 204.30v-1.90M571.96 18.30v1.90M583.52 204.30v-1.90M583.52 18.30v1.90M595.09 204.30v-1.90M595.09 18.30v1.90M606.65 204.30v-3.00M606.65 18.30v3.00M618.21 204.30v-1.90M618.21 18.30v1.90M629.77 204.30v-1.90M629.77 18.30v1.90M641.34 204.30v-1.90M641.34 18.30v1.90M652.90 204.30v-3.00M652.90 18.30v3.00M664.46 204.30v-1.90M664.46 18.30v1.90M676.02 204.30v-1.90M676.02 18.30v1.90M687.59 204.30v-1.90M687.59 18.30v1.90M699.15 204.30v-3.00M699.15 18.30v3.00M710.71 204.30v-1.90M710.71 18.30v1.90M722.27 204.30v-1.90M722.27 18.30v1.90M733.84 204.30v-1.90M733.84 18.30v1.90M745.40 204.30v-3.00M745.40 18.30v3.00M756.96 204.30v-1.90M756.96 18.30v1.90M542.20 201.45h1.90M759.00 201.45h-1.90M542.20 193.55h3.00M759.00 193.55h-3.00M542.20 185.65h1.90M759.00 185.65h-1.90M542.20 177.75h1.90M759.00 177.75h-1.90M542.20 169.85h1.90M759.00 169.85h-1.90M542.20 161.95h1.90M759.00 161.95h-1.90M542.20 154.05h3.00M759.00 154.05h-3.00M542.20 146.15h1.90M759.00 146.15h-1.90M542.20 138.25h1.90M759.00 138.25h-1.90M542.20 130.35h1.90M759.00 130.35h-1.90M542.20 122.45h1.90M759.00 122.45h-1.90M542.20 114.55h3.00M759.00 114.55h-3.00M542.20 106.65h1.90M759.00 106.65h-1.90M542.20 98.75h1.90M759.00 98.75h-1.90M542.20 90.85h1.90M759.00 90.85h-1.90M542.20 82.95h1.90M759.00 82.95h-1.90M542.20 75.05h3.00M759.00 75.05h-3.00M542.20 67.15h1.90M759.00 67.15h-1.90M542.20 59.25h1.90M759.00 59.25h-1.90M542.20 51.35h1.90M759.00 51.35h-1.90M542.20 43.45h1.90M759.00 43.45h-1.90M542.20 35.55h3.00M759.00 35.55h-3.00M542.20 27.65h1.90M759.00 27.65h-1.90M542.20 19.75h1.90M759.00 19.75h-1.90" stroke="#505050" stroke-width="1.0" fill="none"/>
<clipPath id="c10"><rect x="55.50" y="211.30" width="217.10" height="185.90"/></clipPath>
<g clip-path="url(#c10)">
<path d="M147.6 290.8h0M152.3 281.6h0M165.9 304.4h0M151.0 293.0h0M144.1 304.8h0M169.1 292.0h0M172.3 313.1h0M148.8 302.7h0M162.2 318.3h0M160.7 292.0h0M158.9 304.3h0M169.3 301.8h0M149.0 297.3h0M192.7 289.2h0M160.4 307.5h0M162.5 313.4h0M135.6 318.7h0M139.0 280.3h0M151.5 311.5h0M145.4 306.4h0M145.8 292.7h0M164.0 288.1h0M163.5 292.1h0M127.7 297.5h0M184.3 300.2h0M185.7 302.6h0M149.4 300.5h0M155.8 322.4h0M169.4 284.6h0M185.6 317.6h0M154.1 307.7h0M158.6 307.6h0M163.2 320.1h0M182.4 323.0h0M134.6 304.6h0M192.3 301.1h0M175.9 290.1h0M204.1 314.2h0M162.5 299.9h0M173.0 289.6h0M159.7 296.8h0M157.2 304.7h0M141.9 307.9h0M164.4 310.9h0M160.4 300.8h0M183.2 294.2h0M164.0 286.5h0M197.3 308.1h0M117.6 299.0h0M171.4 312.7h0M160.2 304.5h0M142.2 295.7h0M170.5 301.2h0M178.2 276.5h0M166.8 303.3h0M124.1 320.4h0M155.8 298.6h0M138.0 309.4h0M163.0 310.3h0M163.3 306.7h0M188.2 315.3h0M143.5 308.0h0M169.3 291.1h0M181.5 307.4h0M155.9 302.7h0M154.4 330.2h0M176.6 299.5h0M173.8 309.9h0M157.3 318.4h0M141.7 288.7h0M158.9 303.7h0M179.6 318.9h0M189.3 327.9h0M178.6 310.2h0M153.5 322.9h0M195.4 295.7h0M169.9 307.6h0M163.5 326.5h0M135.4 304.8h0M165.5 276.4h0M175.0 301.2h0M175.4 295.6h0M185.3 314.9h0M158.0 311.8h0M159.6 310.2h0M149.6 286.0h0M214.7 292.8h0M174.6 288.8h0M165.4 306.9h0M187.9 310.5h0M196.3 302.8h0M166.7 287.0h0M168.1 307.0h0M178.1 306.6h0M177.5 317.0h0M184.5 312.0h0M159.7 329.4h0M152.7 308.5h0M156.0 300.9h0M160.7 308.6h0M158.1 291.0h0M151.7 313.7h0M150.4 289.8h0M179.0 294.8h0M172.1 290.5h0M178.4 299.7h0M134.7 294.4h0M115.2 286.7h0M162.7 297.3h0M197.5 312.7h0M156.9 304.0h0M167.3 296.7h0M166.2 295.4h0M158.2 301.6h0M138.3 311.8h0M159.1 304.5h0M194.3 316.9h0M144.5 297.6h0M163.2 316.4h0M150.6 311.2h0M195.4 296.6h0M161.6 311.9h0M131.5 310.1h0M188.8 288.1h0M161.4 280.4h0M166.5 302.6h0M120.4 312.1h0M167.6 314.0h0M140.2 302.0h0M175.4 301.8h0M173.8 303.9h0M153.8 291.8h0M175.4 303.3h0M154.6 306.6h0M168.2 282.4h0M172.8 310.5h0M148.9 305.4h0M150.5 301.7h0M185.8 314.9h0M169.2 306.9h0M162.1 312.7h0M162.8 303.2h0M177.8 302.4h0M153.4 322.1h0M183.7 322.6h0M156.0 296.5h0M160.0 302.7h0M189.3 303.0h0M172.8 316.5h0M186.6 313.8h0M156.7 324.1h0M160.4 307.2h0M173.7 305.8h0M130.0 318.5h0M166.5 290.3h0M124.7 327.9h0M113.9 303.2h0M191.8 311.7h0M175.6 321.2h0M157.2 306.2h0M162.5 316.9h0M191.4 303.5h0M173.1 302.9h0M157.7 313.4h0M189.8 335.3h0M155.9 280.3h0M131.0 316.6h0M150.1 302.2h0M182.5 334.3h0M184.2 329.4h0M165.3 288.9h0M136.9 301.9h0M128.1 296.8h0M169.6 303.2h0M171.0 301.4h0M186.3 284.7h0M138.7 308.7h0M153.3 319.3h0M140.1 302.1h0M156.7 293.5h0M157.1 292.5h0M184.2 323.7h0M158.9 317.1h0M158.3 313.2h0M167.6 292.9h0M200.4 293.8h0M182.9 310.7h0M165.2 290.5h0M169.6 307.2h0M153.2 301.4h0M189.6 305.7h0M175.1 308.6h0M160.0 307.8h0M162.4 317.2h0M158.9 294.7h0M139.5 302.3h0M153.1 299.4h0M151.6 307.6h0M170.6 299.0h0M181.1 307.8h0M165.9 324.8h0M188.3 328.6h0M158.6 290.2h0M183.5 291.4h0M160.6 312.3h0M166.8 284.9h0M138.2 294.5h0M149.1 292.2h0M186.8 304.4h0M154.8 292.7h0M195.3 287.3h0M135.3 299.4h0M164.4 293.7h0M147.8 297.9h0M158.5 304.3h0M167.7 315.3h0M198.1 303.8h0M197.1 275.9h0M130.1 293.1h0M148.3 280.7h0M175.8 317.1h0M189.2 317.5h0M116.2 285.2h0M178.3 278.7h0M163.2 328.1h0M170.4 296.8h0M175.8 323.7h0M150.2 314.0h0M191.2 324.8h0M163.3 306.6h0M178.3 289.3h0M158.5 298.5h0M148.6 292.6h0M162.6 309.2h0M164.8 307.6h0M186.9 314.9h0M162.9 293.0h0M168.7 320.2h0M168.6 309.9h0M153.2 336.2h0M187.1 306.1h0M155.2 303.8h0M176.6 309.0h0M189.2 287.5h0M169.5 305.6h0M134.9 320.2h0M178.9 320.6h0M133.3 316.6h0M176.2 302.5h0M177.8 318.0h0M165.5 301.7h0M170.9 278.3h0M165.7 324.8h0M162.6 297.5h0M140.6 305.9h0M156.1 311.1h0M162.5 308.1h0M140.6 304.0h0M179.5 306.4h0M153.3 304.2h0M169.2 303.1h0M185.1 287.8h0M178.2 281.3h0M172.0 299.0h0M193.6 288.0h0M156.1 306.2h0M169.5 308.1h0M166.2 302.1h0M175.5 327.3h0M140.6 307.9h0M148.3 300.6h0M164.6 296.0h0M157.9 320.9h0M148.8 337.2h0M134.6 288.8h0M149.4 289.8h0M177.1 316.0h0M173.8 314.6h0M155.1 295.9h0M164.9 311.0h0M138.4 304.2h0M141.7 336.4h0M194.0 296.3h0M190.2 319.0h0M190.9 307.4h0M164.4 294.2h0M162.4 298.5h0M165.4 307.3h0M178.1 317.4h0M176.9 327.5h0M142.4 311.8h0M125.0 284.3h0M171.5 294.5h0M158.3 304.7h0M152.3 304.5h0M171.6 303.3h0M184.3 293.6h0M132.6 301.7h0M157.3 297.4h0M182.2 270.2h0M173.8 313.3h0M170.9 304.5h0M166.1 290.8h0M167.4 296.3h0M150.4 290.3h0M175.0 306.3h0M181.3 295.5h0M198.2 292.2h0M181.1 307.1h0M151.9 311.9h0M141.0 329.0h0M191.6 314.2h0M147.9 310.3h0M167.3 307.5h0M168.7 317.0h0M192.7 307.5h0M163.1 316.5h0M132.0 297.0h0M174.0 304.5h0M160.0 305.8h0M142.7 338.5h0M195.5 309.8h0M154.2 307.1h0M153.8 301.4h0M168.0 301.2h0M158.4 306.4h0M174.9 306.2h0M140.9 293.7h0M151.0 278.7h0M148.3 308.9h0M174.5 317.3h0M177.9 294.7h0M181.6 318.8h0M157.8 310.5h0M188.5 303.7h0M167.6 306.3h0M192.2 327.6h0M166.8 322.7h0M185.1 308.9h0M172.9 315.8h0M180.4 306.9h0M170.0 299.1h0M171.2 296.1h0M204.2 299.8h0M150.1 303.5h0M146.8 313.5h0M129.1 309.8h0M169.0 298.8h0M149.4 279.5h0M146.9 289.3h0M158.3 293.2h0M197.9 294.6h0M175.3 299.4h0M165.0 320.1h0M166.6 303.0h0M139.6 298.8h0M193.1 303.9h0M161.6 307.5h0M177.7 292.7h0M158.3 324.4h0M144.4 327.6h0M150.8 292.9h0M143.1 309.7h0M185.9 301.1h0M153.6 312.3h0M156.2 307.6h0M138.6 296.2h0M128.5 308.5h0M170.4 304.0h0M173.8 314.3h0M188.0 308.4h0M171.4 302.7h0M156.6 288.1h0M177.4 276.5h0M157.4 307.3h0M156.7 301.1h0M155.0 306.4h0M148.2 296.8h0M173.1 312.2h0M133.9 326.5h0M131.0 301.4h0M141.9 300.9h0M155.6 307.5h0M163.2 301.5h0M188.6 301.8h0M144.2 293.1h0M143.7 304.8h0M161.0 307.9h0M186.9 276.2h0M155.0 309.5h0M184.6 314.4h0M175.8 331.3h0M147.5 302.8h0M174.4 301.2h0M197.6 313.3h0M193.4 293.2h0M158.3 307.7h0M172.9 312.9h0M154.7 308.6h0M135.2 307.7h0M191.6 270.9h0M177.2 286.8h0M166.0 287.9h0M169.8 300.4h0M184.6 288.6h0M188.0 269.5h0M159.2 300.1h0M172.8 310.8h0M163.5 295.1h0M173.9 318.7h0M181.9 311.1h0M171.9 317.3h0M152.3 299.0h0M152.5 309.9h0M142.8 305.1h0M145.0 320.9h0M161.1 314.5h0M168.5 300.1h0M139.4 304.7h0M171.7 312.9h0M177.4 297.9h0M172.3 301.2h0M178.5 300.0h0M137.1 301.7h0M173.6 311.7h0M157.6 292.4h0M160.0 298.8h0M157.7 316.7h0M149.9 313.5h0M173.4 301.2h0M147.0 292.5h0M183.6 317.5h0M152.9 298.4h0M180.3 294.9h0M176.6 303.4h0M164.0 315.5h0M164.2 300.9h0M176.0 290.8h0M174.9 294.6h0M178.5 311.0h0M170.1 301.6h0M175.3 284.2h0M129.0 315.4h0M137.5 305.0h0M206.4 316.3h0M130.9 303.5h0M175.7 290.8h0M183.6 323.7h0M146.8 301.2h0M142.7 323.4h0M173.4 303.3h0M177.4 323.5h0M168.0 316.1h0M163.2 282.5h0M145.9 305.5h0M158.7 287.4h0M180.1 308.7h0M162.0 305.8h0M156.1 301.3h0M149.1 298.0h0M165.6 298.1h0M173.1 297.1h0M152.0 290.8h0M159.3 297.1h0M162.7 310.0h0M155.2 303.6h0M168.9 309.5h0M186.1 320.5h0M165.7 332.7h0M167.1 302.3h0M170.2 293.8h0M169.7 296.1h0M151.0 300.0h0M160.9 288.3h0M146.8 318.0h0M176.5 326.8h0M151.1 292.3h0M164.0 291.4h0M172.5 301.7h0M170.2 302.3h0M169.3 282.5h0M160.4 285.8h0M155.9 337.6h0M165.9 311.1h0M171.5 289.5h0M139.4 307.5h0M198.4 304.6h0M151.7 302.2h0M178.0 286.0h0M155.3 313.6h0M156.4 314.7h0M178.0 308.1h0M150.8 296.1h0M135.5 298.4h0M176.6 322.2h0M155.6 300.3h0M145.1 325.7h0M144.1 288.7h0M168.4 314.4h0M155.0 269.7h0M173.2 272.0h0M146.6 306.2h0M164.1 302.4h0M168.0 312.8h0M171.6 295.8h0M165.3 307.9h0M166.6 306.1h0M171.3 309.3h0M171.0 313.2h0M179.1 311.3h0M168.3 291.5h0M118.6 305.7h0M182.7 312.7h0M136.5 290.2h0M204.6 315.4h0M155.6 304.5h0M157.9 290.8h0M172.6 285.4h0M181.9 312.5h0M131.3 282.7h0M169.4 295.5h0M153.4 309.8h0M135.5 303.8h0M145.8 306.1h0M181.9 314.6h0M145.3 287.3h0M138.2 299.6h0M179.3 303.1h0M164.5 331.3h0M174.0 292.2h0M173.4 305.3h0M165.2 284.4h0M172.1 301.7h0M168.5 292.6h0M160.8 288.9h0M172.8 290.5h0M199.8 277.3h0M180.0 314.1h0M175.6 307.1h0M169.3 290.5h0M194.6 300.1h0M171.8 330.5h0M133.9 311.4h0M153.2 311.3h0M174.7 303.7h0M151.3 282.8h0M181.6 326.0h0M154.6 317.0h0M178.1 294.9h0M153.2 305.1h0M169.2 312.2h0M160.1 304.1h0M140.1 315.5h0M186.0 288.5h0M194.7 314.0h0M167.2 316.5h0M184.1 313.4h0M189.0 271.7h0M174.8 298.7h0M189.6 294.2h0M149.2 299.9h0M154.4 300.9h0M142.6 302.5h0M152.1 312.4h0M153.4 302.2h0M161.3 290.2h0M172.6 319.6h0M173.5 296.9h0M159.5 302.2h0M180.1 308.7h0M166.5 297.1h0M157.7 301.3h0M180.2 302.4h0M151.8 290.5h0M144.1 299.9h0M163.9 316.7h0M165.1 296.3h0M155.9 296.3h0M156.2 304.8h0M176.3 290.2h0M189.1 317.9h0M151.0 307.1h0M181.4 325.9h0M173.6 304.4h0M160.3 303.7h0M172.7 289.5h0M192.7 295.5h0M132.7 318.7h0M188.3 316.8h0M181.4 299.1h0M131.4 314.5h0M183.7 299.6h0M174.2 309.0h0M166.1 308.3h0M146.4 326.2h0M156.1 304.4h0M145.2 317.6h0M181.4 289.7h0M147.9 291.7h0M142.6 310.2h0M134.0 288.7h0M182.0 303.2h0M191.2 296.0h0M180.5 303.9h0M148.5 308.5h0M152.5 301.0h0M203.0 316.5h0M167.5 304.5h0M146.6 286.8h0M162.6 283.2h0M200.4 313.8h0M171.5 302.8h0M161.2 285.9h0M160.3 304.3h0M154.9 315.6h0M157.1 316.3h0M157.3 306.2h0M171.7 314.5h0M200.2 317.6h0M177.5 311.1h0M160.4 312.2h0M167.3 310.7h0M155.5 306.6h0M185.6 297.7h0M182.2 320.5h0M170.6 330.7h0M168.0 317.8h0M134.3 308.7h0M177.5 289.5h0M155.8 309.5h0M167.6 298.6h0M132.2 284.2h0M189.4 296.1h0M148.6 285.0h0M158.5 308.3h0M171.5 300.4h0M179.4 299.1h0M192.0 302.8h0M191.5 274.5h0M178.8 292.6h0M180.5 294.4h0M133.7 298.2h0M148.0 297.7h0M144.9 308.0h0M167.0 308.1h0M142.4 301.0h0M154.1 316.6h0M185.9 304.8h0M167.5 313.2h0M141.9 290.3h0M187.7 315.1h0M172.3 335.4h0M159.5 307.6h0M181.8 313.0h0M190.0 292.3h0M129.5 320.7h0M168.2 296.5h0M158.2 323.5h0M174.5 319.1h0M157.4 291.9h0M173.9 294.9h0M169.3 302.9h0M141.4 284.5h0M181.7 301.7h0M204.7 301.2h0M175.9 301.0h0M182.8 316.8h0M159.7 281.9h0M178.7 291.4h0M164.7 310.3h0M164.0 289.8h0M172.4 309.4h0M190.5 298.9h0M153.0 303.1h0M153.9 270.5h0M189.5 302.3h0M160.7 287.4h0M147.4 302.1h0M138.5 300.6h0M181.2 287.4h0M65.4 252.4h0M173.3 219.3h0M162.1 248.9h0M174.8 248.6h0M199.1 245.9h0M199.9 259.8h0M95.8 269.3h0M121.6 266.6h0M127.5 273.7h0M143.1 267.2h0M138.4 269.3h0M149.1 259.8h0M157.1 257.7h0M158.5 263.7h0M92.9 292.3h0M100.0 292.9h0M102.9 295.3h0M87.5 302.7h0M216.8 273.7h0M220.6 286.4h0M226.6 290.9h0M240.8 293.8h0M255.6 301.8h0M235.4 307.4h0M235.4 315.7h0M228.3 319.0h0M217.1 316.6h0M223.0 310.7h0M217.1 332.9h0M209.4 328.7h0M211.8 332.3h0M197.6 337.6h0M263.5 356.0h0M223.0 375.8h0M177.2 364.2h0M166.2 359.5h0M153.5 359.8h0M130.4 367.8h0M155.6 388.5h0M136.9 356.0h0M134.3 348.8h0M125.4 335.2h0M103.8 330.8h0M107.7 330.8h0M99.4 322.8h0M97.0 312.5h0M106.8 313.1h0M159.1 348.6h0M168.9 341.8h0M183.7 332.3h0M191.1 324.9h0" stroke="#1f77b4" stroke-width="2.6" stroke-linecap="round" fill="none"/>
<path d="M55.50 304.16H272.60M164.45 211.30V397.20" stroke="#919191" stroke-opacity="0.67" stroke-width="1.6" fill="none"/>
</g>
<rect x="55.50" y="211.30" width="217.10" height="185.90" fill="none" stroke="#505050" stroke-width="1.4"/>
<path d="M65.27 397.20v-1.90M65.27 211.30v1.90M76.29 397.20v-3.00M76.29 211.30v3.00M87.31 397.20v-1.90M87.31 211.30v1.90M98.33 397.20v-1.90M98.33 211.30v1.90M109.35 397.20v-1.90M109.35 211.30v1.90M120.37 397.20v-3.00M120.37 211.30v3.00M131.39 397.20v-1.90M131.39 211.30v1.90M142.41 397.20v-1.90M142.41 211.30v1.90M153.43 397.20v-1.90M153.43 211.30v1.90M164.45 397.20v-3.00M164.45 211.30v3.00M175.47 397.20v-1.90M175.47 211.30v1.90M186.49 397.20v-1.90M186.49 211.30v1.90M197.51 397.20v-1.90M197.51 211.30v1.90M208.53 397.20v-3.00M208.53 211.30v3.00M219.55 397.20v-1.90M219.55 211.30v1.90M230.57 397.20v-1.90M230.57 211.30v1.90M241.59 397.20v-1.90M241.59 211.30v1.90M252.61 397.20v-3.00M252.61 211.30v3.00M263.63 397.20v-1.90M263.63 211.30v1.90M55.50 393.68h3.00M272.60 393.68h-3.00M55.50 386.22h1.90M272.60 386.22h-1.90M55.50 378.76h1.90M272.60 378.76h-1.90M55.50 371.30h1.90M272.60 371.30h-1.90M55.50 363.84h3.00M272.60 363.84h-3.00M55.50 356.38h1.90M272.60 356.38h-1.90M55.50 348.92h1.90M272.60 348.92h-1.90M55.50 341.46h1.90M272.60 341.46h-1.90M55.50 334.00h3.00M272.60 334.00h-3.00M55.50 326.54h1.90M272.60 326.54h-1.90M55.50 319.08h1.90M272.60 319.08h-1.90M55.50 311.62h1.90M272.60 311.62h-1.90M55.50 304.16h3.00M272.60 304.16h-3.00M55.50 296.70h1.90M272.60 296.70h-1.90M55.50 289.24h1.90M272.60 289.24h-1.90M55.50 281.78h1.90M272.60 281.78h-1.90M55.50 274.32h3.00M272.60 274.32h-3.00M55.50 266.86h1.90M272.60 266.86h-1.90M55.50 259.40h1.90M272.60 259.40h-1.90M55.50 251.94h1.90M272.60 251.94h-1.90M55.50 244.48h3.00M272.60 244.48h-3.00M55.50 237.02h1.90M272.60 237.02h-1.90M55.50 229.56h1.90M272.60 229.56h-1.90M55.50 222.10h1.90M272.60 222.10h-1.90M55.50 214.64h3.00M272.60 214.64h-3.00" stroke="#505050" stroke-width="1.0" fill="none"/>
<clipPath id="c11"><rect x="299.60" y="211.30" width="217.20" height="185.90"/></clipPath>
<g clip-path="url(#c11)">
<path d="M422.3 328.6h0M416.2 281.4h0M413.7 327.4h0M415.9 318.1h0M405.9 296.9h0M404.2 303.3h0M405.4 298.3h0M402.7 301.1h0M434.4 318.9h0M406.6 318.3h0M372.2 287.4h0M414.3 293.8h0M373.0 288.8h0M399.0 302.5h0M389.8 297.4h0M412.4 312.1h0M420.7 310.8h0M403.7 296.5h0M407.8 304.1h0M416.6 304.4h0M431.9 321.7h0M438.7 320.3h0M390.9 289.3h0M425.4 305.9h0M407.0 297.9h0M410.7 306.5h0M421.0 294.8h0M389.9 291.3h0M409.8 300.2h0M426.3 309.3h0M340.8 280.2h0M410.2 323.8h0M411.4 305.2h0M396.0 288.5h0M384.3 292.6h0M395.5 326.1h0M431.5 312.5h0M386.7 289.0h0M404.6 299.5h0M433.2 312.2h0M406.7 282.0h0M392.4 295.0h0M401.8 311.9h0M384.7 298.5h0M421.8 322.8h0M413.6 287.7h0M389.2 292.7h0M404.1 305.0h0M415.0 309.9h0M380.3 295.3h0M418.5 301.7h0M400.2 320.1h0M376.4 291.8h0M420.6 304.6h0M369.4 276.4h0M357.5 270.8h0M400.6 306.0h0M397.5 306.2h0M396.1 302.9h0M412.7 294.1h0M373.1 294.0h0M423.6 308.7h0M375.1 282.7h0M394.6 303.0h0M418.8 289.3h0M381.8 291.9h0M406.4 304.2h0M412.7 312.5h0M391.5 305.8h0M428.5 315.1h0M406.1 315.6h0M426.4 305.6h0M400.5 297.3h0M414.7 309.4h0M419.8 322.0h0M416.1 298.8h0M402.4 293.2h0M408.7 311.8h0M402.4 310.2h0M373.6 301.4h0M396.4 315.8h0M379.2 288.2h0M403.1 302.4h0M393.2 298.9h0M409.0 298.0h0M407.5 310.0h0M388.5 289.9h0M403.8 297.0h0M398.8 293.2h0M394.2 297.7h0M418.8 325.4h0M399.5 310.3h0M411.4 313.4h0M404.8 307.4h0M411.7 297.8h0M385.3 285.8h0M423.5 324.8h0M401.4 301.1h0M397.6 303.6h0M406.3 315.8h0M388.4 298.0h0M385.8 302.0h0M428.5 308.4h0M388.4 289.9h0M386.4 289.0h0M420.5 291.7h0M388.4 295.4h0M407.0 308.7h0M450.4 335.7h0M424.3 304.9h0M447.9 328.4h0M360.8 281.3h0M399.1 286.5h0M412.7 331.2h0M406.7 295.0h0M402.6 305.2h0M377.5 281.4h0M387.4 293.9h0M417.7 319.2h0M402.8 294.8h0M397.8 307.8h0M411.6 318.8h0M402.7 298.9h0M416.3 310.3h0M385.3 287.3h0M416.5 301.7h0M406.7 300.0h0M399.6 289.1h0M392.1 312.3h0M421.5 310.1h0M401.3 296.9h0M396.6 308.6h0M401.1 300.5h0M432.6 315.9h0M410.9 293.3h0M401.9 305.8h0M392.6 293.3h0M412.6 305.0h0M380.5 296.1h0M446.1 323.9h0M436.2 322.1h0M435.7 316.6h0M445.1 341.0h0M412.0 316.6h0M395.8 308.2h0M393.1 301.6h0M419.9 309.4h0M409.7 309.9h0M393.4 316.4h0M406.9 277.2h0M427.1 324.0h0M422.6 319.9h0M419.0 308.8h0M400.5 292.7h0M406.3 293.0h0M407.6 283.2h0M433.2 311.7h0M376.2 283.2h0M372.7 288.7h0M385.3 314.1h0M397.2 280.7h0M383.7 286.8h0M405.8 305.5h0M398.4 314.2h0M389.9 316.0h0M393.1 287.2h0M436.7 324.1h0M399.0 299.8h0M389.3 296.3h0M408.4 295.1h0M409.2 295.6h0M413.7 312.1h0M427.9 318.0h0M395.2 314.3h0M426.9 312.5h0M437.4 320.6h0M398.4 300.2h0M354.3 271.4h0M383.4 295.6h0M406.2 287.1h0M422.3 315.7h0M419.2 319.4h0M442.9 321.4h0M367.4 289.0h0M396.0 300.6h0M430.7 312.5h0M401.5 297.4h0M421.5 317.3h0M411.0 290.1h0M403.3 296.9h0M414.5 309.5h0M386.7 287.4h0M408.2 299.4h0M401.9 300.4h0M411.9 308.7h0M415.9 305.2h0M395.3 305.6h0M359.3 285.1h0M401.7 321.2h0M358.0 278.2h0M419.0 309.8h0M419.0 313.2h0M418.3 314.8h0M421.3 307.3h0M406.2 290.8h0M379.5 280.6h0M379.4 290.0h0M410.0 314.9h0M358.9 273.7h0M410.2 275.3h0M401.4 297.4h0M393.9 289.3h0M383.8 293.1h0M394.8 300.0h0M417.0 307.4h0M388.6 298.1h0M381.6 282.8h0M433.4 334.2h0M390.4 296.3h0M423.7 323.6h0M405.5 287.9h0M427.8 315.2h0M413.5 318.4h0M419.1 316.0h0M431.2 306.7h0M402.7 294.4h0M368.3 286.8h0M400.0 315.8h0M358.3 275.6h0M403.5 316.3h0M421.1 302.1h0M403.2 312.6h0M396.5 306.0h0M406.0 311.7h0M359.6 285.5h0M406.7 293.8h0M420.9 302.3h0M411.6 300.3h0M421.4 320.8h0M414.0 335.9h0M426.2 321.8h0M371.3 298.1h0M426.5 308.9h0M444.6 324.5h0M425.5 312.9h0M447.4 316.1h0M392.0 304.1h0M396.4 305.5h0M446.8 326.9h0M433.2 312.6h0M364.0 272.7h0M386.6 278.9h0M434.7 318.7h0M366.3 279.1h0M388.0 294.8h0M427.5 299.4h0M348.0 274.4h0M409.5 316.5h0M400.6 318.4h0M408.6 308.9h0M386.2 300.5h0M377.3 273.5h0M404.6 304.1h0M389.9 316.5h0M397.1 296.4h0M428.2 314.2h0M414.4 278.4h0M381.9 292.1h0M388.6 314.5h0M429.5 324.3h0M387.9 294.3h0M394.1 309.4h0M418.1 302.9h0M403.8 302.6h0M404.5 314.6h0M402.1 287.1h0M420.9 306.1h0M409.1 317.2h0M388.1 294.7h0M404.8 304.8h0M401.4 297.1h0M428.4 319.6h0M397.5 295.5h0M406.1 305.5h0M437.2 317.9h0M370.8 287.4h0M416.7 299.0h0M421.0 311.6h0M395.0 301.3h0M386.5 289.5h0M435.3 319.0h0M401.1 307.6h0M410.3 305.3h0M391.8 292.6h0M397.6 307.8h0M393.1 287.6h0M362.9 284.9h0M400.3 296.9h0M422.7 306.8h0M408.3 313.1h0M430.8 310.9h0M394.2 285.7h0M422.6 320.4h0M406.3 327.2h0M397.8 309.6h0M368.9 293.1h0M436.8 317.6h0M428.5 308.0h0M409.2 309.7h0M380.9 293.8h0M364.8 288.2h0M416.2 330.5h0M408.7 308.4h0M401.2 300.1h0M427.0 303.2h0M429.6 325.5h0M383.5 291.4h0M381.9 280.8h0M392.7 301.0h0M413.2 310.7h0M398.1 304.7h0M398.3 301.6h0M426.7 319.0h0M384.8 294.5h0M416.9 303.1h0M406.7 299.2h0M391.2 300.2h0M419.8 310.9h0M393.3 290.7h0M421.0 319.2h0M387.1 300.3h0M420.3 308.8h0M402.3 325.1h0M412.1 300.4h0M424.0 312.8h0M467.0 338.9h0M405.3 297.4h0M382.6 302.2h0M389.2 280.2h0M397.0 302.2h0M408.7 309.3h0M388.2 299.3h0M403.5 292.9h0M414.9 316.1h0M397.9 301.7h0M374.6 280.1h0M420.6 309.3h0M392.7 299.8h0M413.2 322.5h0M375.4 300.4h0M421.4 326.2h0M396.4 295.5h0M368.0 282.3h0M417.2 318.8h0M391.3 279.6h0M412.9 327.6h0M423.3 303.8h0M440.2 328.9h0M397.5 309.8h0M383.4 288.2h0M447.8 322.5h0M422.0 295.8h0M441.5 320.6h0M408.4 306.2h0M438.8 315.7h0M418.2 332.4h0M427.7 337.4h0M414.0 297.4h0M372.6 282.3h0M429.8 312.5h0M351.5 273.4h0M393.7 302.6h0M409.9 323.0h0M394.1 297.3h0M393.9 309.5h0M406.3 309.0h0M399.7 289.6h0M427.8 310.8h0M464.5 333.7h0M405.2 313.8h0M388.8 287.7h0M473.8 348.0h0M460.3 337.1h0M416.0 301.0h0M386.9 283.4h0M352.5 273.3h0M427.6 306.2h0M434.6 311.5h0M418.9 320.6h0M377.3 296.0h0M411.0 326.0h0M383.5 284.9h0M411.0 307.1h0M420.2 315.3h0M400.7 324.8h0M403.9 298.7h0M464.1 336.3h0M375.8 295.7h0M462.7 334.1h0M395.5 300.4h0M389.7 293.1h0M384.1 287.3h0M401.6 283.0h0M391.3 297.1h0M406.8 315.0h0M394.3 310.7h0M427.8 310.5h0M368.8 300.1h0M435.4 318.2h0M388.6 296.3h0M431.2 317.3h0M416.6 313.9h0M417.8 294.9h0M420.4 293.6h0M409.8 312.8h0M395.1 284.4h0M392.6 294.4h0M397.3 311.1h0M374.1 303.7h0M422.1 316.9h0M426.9 325.4h0M415.4 314.6h0M388.4 315.6h0M381.7 283.2h0M383.8 298.8h0M365.7 284.8h0M407.7 299.4h0M387.7 285.0h0M391.7 306.0h0M434.6 316.9h0M361.9 264.2h0M406.7 293.3h0M424.6 311.9h0M368.7 288.5h0M424.1 312.4h0M429.8 306.8h0M414.5 315.7h0M426.6 302.0h0M406.7 322.5h0M434.4 311.1h0M427.6 317.1h0M413.8 291.0h0M354.5 272.6h0M391.0 287.7h0M405.8 292.8h0M417.5 317.3h0M403.8 300.4h0M418.2 313.8h0M411.2 285.9h0M431.0 322.8h0M408.3 313.0h0M424.0 322.4h0M421.2 309.3h0M384.7 293.6h0M433.0 334.3h0M415.2 289.0h0M383.4 297.1h0M400.2 277.5h0M415.2 311.4h0M433.9 325.5h0M383.7 298.5h0M388.0 290.3h0M393.4 301.0h0M423.1 309.0h0M412.4 302.7h0M422.7 317.8h0M401.0 296.7h0M378.9 293.8h0M398.7 291.0h0M391.1 290.6h0M374.1 284.6h0M389.7 285.6h0M368.4 289.2h0M388.1 289.8h0M373.9 271.6h0M378.3 283.4h0M414.0 329.2h0M430.5 319.3h0M406.6 308.1h0M403.5 313.8h0M393.7 309.9h0M413.2 308.9h0M406.9 302.4h0M392.8 294.6h0M398.9 327.3h0M420.1 287.2h0M400.1 298.0h0M425.2 319.5h0M404.4 300.4h0M377.6 279.5h0M402.8 292.7h0M421.6 314.2h0M351.0 278.1h0M398.2 297.0h0M427.1 320.7h0M429.3 304.3h0M448.5 322.0h0M405.3 308.4h0M416.6 302.4h0M395.7 286.8h0M416.2 298.5h0M419.2 307.4h0M457.2 326.3h0M410.2 310.7h0M427.7 313.2h0M390.8 301.5h0M390.9 285.1h0M400.3 293.2h0M408.5 300.6h0M450.4 321.5h0M418.9 311.8h0M394.2 283.2h0M428.1 309.3h0M404.5 301.9h0M396.4 313.4h0M370.5 281.7h0M447.0 323.8h0M395.8 283.1h0M373.8 289.0h0M435.1 308.1h0M415.0 294.5h0M397.7 304.1h0M401.6 306.9h0M404.5 292.2h0M407.1 322.1h0M418.8 307.2h0M392.6 298.0h0M445.8 327.4h0M411.1 305.9h0M389.7 308.9h0M420.4 303.3h0M416.8 304.1h0M419.7 303.4h0M417.1 294.9h0M435.6 322.0h0M389.2 289.0h0M408.1 293.2h0M381.2 296.3h0M417.7 328.5h0M418.1 312.0h0M439.1 315.7h0M393.5 283.5h0M442.1 328.3h0M400.6 303.4h0M385.7 285.3h0M413.3 299.9h0M432.5 318.4h0M420.1 310.4h0M397.4 299.0h0M406.6 317.0h0M399.4 297.1h0M391.5 287.1h0M408.4 298.6h0M379.9 268.0h0M401.4 312.9h0M412.0 307.9h0M426.5 311.3h0M361.4 287.3h0M410.7 314.8h0M433.1 325.2h0M401.1 302.5h0M408.4 295.7h0M417.0 319.7h0M414.3 318.0h0M393.1 290.1h0M366.4 284.0h0M399.6 307.8h0M421.2 332.6h0M428.7 331.0h0M393.3 294.5h0M426.1 306.4h0M416.6 302.5h0M415.5 308.1h0M425.9 308.5h0M415.0 325.3h0M432.8 312.4h0M402.9 302.8h0M406.5 293.6h0M388.8 293.5h0M424.4 311.4h0M390.5 298.5h0M425.6 307.6h0M399.8 303.6h0M443.6 318.9h0M413.8 308.4h0M417.8 311.9h0M403.1 279.6h0M367.5 282.8h0M387.2 304.6h0M374.3 275.3h0M421.0 321.5h0M385.3 290.8h0M382.4 294.4h0M393.5 296.7h0M411.7 323.8h0M419.5 287.1h0M405.0 292.1h0M423.6 298.4h0M421.9 307.4h0M387.8 298.6h0M415.0 304.8h0M406.0 290.9h0M406.4 318.6h0M396.8 289.5h0M428.1 301.4h0M415.5 314.4h0M399.7 295.3h0M415.8 293.5h0M413.6 325.5h0M407.5 296.8h0M383.0 301.4h0M412.1 313.2h0M402.7 311.8h0M400.1 301.5h0M383.0 301.3h0M377.3 300.8h0M380.9 303.1h0M430.4 319.2h0M429.6 317.3h0M382.3 302.5h0M424.3 316.1h0M405.7 301.8h0M440.4 317.2h0M407.4 309.3h0M409.3 303.8h0M365.5 286.2h0M400.7 295.4h0M394.1 302.9h0M368.8 288.5h0M392.2 298.2h0M414.8 312.6h0M411.5 307.8h0M421.7 316.2h0M402.3 303.5h0M373.2 294.8h0M413.5 306.5h0M408.2 307.6h0M416.9 299.9h0M393.8 297.8h0M431.2 311.6h0M398.3 300.2h0M370.0 278.0h0M402.5 311.5h0M411.8 312.6h0M400.6 295.5h0M380.0 290.9h0M387.9 290.4h0M411.0 299.2h0M420.5 298.7h0M400.4 313.1h0M433.6 313.1h0M443.9 314.1h0M400.1 283.4h0M415.5 300.9h0M399.7 312.1h0M427.9 309.5h0M409.4 308.8h0M426.6 329.0h0M394.2 293.9h0M417.9 309.2h0M392.0 300.7h0M429.8 304.8h0M415.0 317.4h0M420.2 318.8h0M401.0 301.0h0M395.1 297.3h0M344.5 269.1h0M410.9 303.8h0M421.8 310.0h0M427.3 304.9h0M390.2 292.4h0M423.1 303.4h0M412.3 291.7h0M402.7 294.5h0M392.7 287.7h0M413.0 306.0h0M418.1 309.2h0M407.0 301.2h0M417.9 322.6h0M400.4 302.3h0M424.0 311.8h0M408.3 304.3h0M440.4 322.0h0M388.7 295.2h0M378.8 293.4h0M457.4 326.4h0M404.7 309.8h0M422.3 309.8h0M426.4 320.4h0M390.5 291.5h0M367.9 289.0h0M443.8 313.1h0M417.2 296.2h0M375.7 286.5h0M384.8 287.0h0M453.6 325.2h0M398.5 306.4h0M406.8 302.0h0M421.2 308.1h0M397.5 300.0h0M369.2 282.3h0M416.2 319.1h0M420.2 289.3h0M407.9 301.3h0M406.9 304.9h0M409.3 303.2h0M413.4 314.2h0M414.8 308.6h0M356.6 277.5h0M413.9 322.5h0M341.2 273.9h0M374.6 293.3h0M392.2 299.5h0M421.6 300.5h0M402.3 302.2h0M393.1 298.9h0M361.8 287.1h0M435.8 311.6h0M391.2 286.2h0M416.4 310.0h0M392.2 287.5h0M406.3 294.7h0M412.0 306.6h0M400.3 304.2h0M406.4 314.1h0M416.2 305.1h0M408.2 300.4h0M416.5 313.9h0M385.5 294.3h0M383.0 292.8h0M423.9 310.5h0M402.9 296.9h0M402.2 303.9h0M381.2 289.2h0M393.8 277.8h0M429.6 324.6h0M398.7 303.6h0M402.9 290.2h0M436.8 323.9h0M435.5 315.7h0M384.1 288.9h0M400.2 302.5h0M409.2 307.3h0M397.4 296.1h0M399.8 295.5h0M403.6 291.7h0M404.2 310.5h0M386.9 294.7h0M418.6 317.2h0M385.4 285.8h0M403.1 307.4h0M391.5 290.7h0M418.0 305.0h0M373.9 279.5h0M393.0 299.2h0M418.1 323.6h0M373.7 282.7h0M386.2 302.8h0M425.5 319.0h0M399.8 287.0h0M395.9 299.7h0M404.6 303.6h0M399.2 300.6h0M452.7 327.5h0M383.7 273.0h0M438.6 342.6h0M403.6 287.6h0M398.8 292.5h0M425.7 308.8h0M439.4 327.9h0M420.7 315.6h0M420.5 307.5h0M420.0 309.3h0M391.4 282.5h0M389.6 300.4h0M394.9 312.6h0M389.5 293.7h0M379.6 286.5h0M391.4 295.6h0M418.7 311.0h0M411.2 306.3h0M427.9 312.7h0M380.1 299.2h0M395.7 300.3h0M418.5 306.2h0M417.7 317.4h0M432.1 316.8h0M382.5 293.1h0M396.9 316.1h0M420.8 308.7h0M383.3 289.9h0M377.1 292.9h0M410.3 301.2h0M399.3 303.3h0M395.6 315.1h0M358.5 277.3h0M412.6 290.4h0M404.0 298.3h0M399.0 309.4h0M416.9 305.7h0M414.4 308.4h0M429.3 298.1h0M410.8 323.1h0M422.2 321.2h0M413.1 296.8h0M427.5 321.5h0M394.4 292.4h0M398.8 300.6h0M433.0 328.1h0M388.0 305.9h0M415.4 304.7h0M400.0 320.8h0M419.8 310.2h0M400.1 312.3h0M390.6 300.3h0M433.8 316.4h0M408.7 315.4h0M383.2 295.1h0M389.1 289.5h0M389.2 295.4h0M407.0 305.0h0M348.4 272.0h0M426.6 323.4h0M461.7 332.2h0M390.9 283.7h0M384.6 302.9h0M401.7 308.0h0M421.1 316.8h0M426.6 326.4h0M435.0 319.4h0M400.0 289.8h0M388.1 305.6h0M402.8 307.8h0M428.5 321.9h0M375.5 290.5h0M380.9 296.3h0M385.8 275.7h0M427.8 314.5h0M362.4 281.8h0M415.5 291.9h0M384.2 294.8h0M460.9 323.9h0M390.6 303.6h0M426.8 324.8h0M417.9 296.5h0M419.1 302.0h0M401.1 279.6h0M370.7 282.0h0M393.0 304.4h0M439.4 321.4h0M402.9 280.7h0M405.5 305.7h0M431.7 317.9h0M410.2 307.7h0M395.1 303.4h0M392.4 303.6h0M384.2 288.9h0M389.6 301.4h0M422.6 296.5h0M411.3 319.7h0M385.4 293.8h0M391.9 288.1h0M405.1 285.8h0M395.5 277.9h0M421.5 321.1h0M393.2 305.0h0M416.7 297.2h0M393.3 303.3h0M366.7 286.0h0M397.4 299.1h0M434.2 320.4h0M406.3 296.6h0M411.4 310.0h0M449.9 320.3h0M359.5 278.7h0M404.1 295.1h0M409.1 309.6h0M373.1 285.3h0M403.0 284.3h0M407.9 299.0h0M429.3 322.9h0M399.3 302.1h0M379.3 283.6h0M429.3 324.0h0M392.7 313.1h0M360.2 283.1h0M407.0 297.9h0M386.8 296.9h0M346.3 278.6h0M387.1 289.5h0M393.2 303.0h0M402.5 311.2h0M428.6 319.9h0M439.6 319.3h0M405.4 294.8h0M404.0 285.8h0M397.3 300.7h0M395.0 293.3h0M400.5 296.1h0M389.1 294.2h0M413.2 297.7h0M432.1 308.5h0M376.0 282.9h0M409.5 305.3h0M408.2 302.5h0M412.6 321.3h0M408.6 299.4h0M402.3 306.6h0M429.0 320.1h0M398.4 299.3h0M415.6 294.8h0M430.8 313.0h0M417.6 307.8h0M427.9 319.9h0M381.7 293.2h0M443.6 331.1h0M410.7 312.3h0M408.6 291.8h0M392.7 302.6h0M397.4 282.0h0M400.2 305.6h0M410.9 305.4h0M402.7 294.2h0M412.2 299.0h0M411.3 299.8h0M410.6 324.9h0M445.4 326.8h0M433.7 311.6h0M397.9 302.8h0M396.1 296.0h0M362.9 283.9h0M398.1 298.1h0M419.1 315.2h0M391.2 305.4h0M388.0 306.1h0M416.0 309.5h0M383.2 302.0h0M453.7 326.6h0M388.5 309.8h0M391.6 304.4h0M414.5 305.8h0M412.1 297.1h0M392.2 295.3h0M395.6 303.0h0M375.6 285.1h0M383.0 297.8h0M383.2 295.6h0M382.0 301.5h0M396.8 302.8h0M423.4 327.9h0M412.5 308.7h0M441.3 323.9h0M427.5 313.0h0M413.8 323.9h0M416.7 298.0h0M424.9 316.9h0M444.9 322.5h0M381.7 296.0h0M410.1 300.2h0M416.4 310.0h0M398.3 301.4h0M397.8 319.6h0M403.1 307.6h0M417.8 317.1h0M425.1 309.6h0M405.9 335.4h0M410.0 291.3h0M417.5 291.5h0M397.4 292.6h0M404.3 295.4h0M402.0 296.5h0M392.4 296.8h0M456.0 328.4h0M377.4 295.8h0M443.4 317.1h0M389.5 291.1h0M429.2 310.3h0M394.2 304.2h0M407.8 289.5h0M389.5 296.1h0M415.9 311.3h0M363.3 283.4h0M414.9 317.6h0M419.5 310.2h0M410.0 309.1h0M426.2 321.0h0M409.8 305.6h0M395.6 307.8h0M381.1 287.2h0M380.9 313.1h0M392.4 296.6h0M395.5 275.4h0M388.7 290.7h0M415.0 308.0h0M402.2 300.7h0M413.5 307.4h0M403.7 309.4h0M370.7 285.0h0M433.2 310.9h0M400.8 295.0h0M397.2 298.3h0M374.4 288.3h0M430.5 315.5h0M379.4 288.7h0M411.1 330.9h0M402.2 295.6h0M397.3 290.7h0M416.6 307.4h0M432.0 309.5h0M409.8 286.0h0M468.6 337.6h0M397.8 295.7h0M401.7 314.2h0M396.5 302.5h0M392.5 295.0h0M411.0 327.7h0M435.4 315.9h0M391.1 291.4h0M436.7 316.6h0M385.4 288.9h0M449.3 327.3h0M385.6 288.3h0M399.2 289.1h0M419.1 315.4h0M399.2 305.0h0M408.2 297.1h0M386.5 317.0h0M428.7 300.8h0M404.0 294.5h0M398.8 299.9h0M393.0 309.2h0M435.9 322.6h0M392.2 303.2h0M407.0 277.6h0M430.7 315.6h0M400.6 301.0h0M393.8 301.1h0M432.8 320.0h0M412.7 300.5h0M391.2 293.1h0M405.7 285.2h0M409.7 301.1h0M399.7 304.4h0M406.8 293.3h0M401.4 322.8h0M425.4 320.7h0M432.6 322.2h0M398.6 293.4h0M396.8 306.2h0M400.3 314.7h0M425.3 314.0h0M379.6 285.7h0M401.0 273.7h0M404.8 285.6h0M426.6 299.9h0M425.5 299.2h0M380.1 294.8h0M419.5 318.9h0M429.8 317.9h0M473.3 337.5h0M401.2 275.7h0M410.8 312.6h0M389.5 300.9h0M419.7 318.9h0M401.3 313.8h0M414.9 326.1h0M430.2 324.2h0M417.2 329.6h0M396.5 308.7h0M399.1 300.8h0M432.5 304.1h0M394.1 296.0h0M423.0 310.3h0M420.0 299.5h0M369.5 273.0h0M410.1 324.5h0M402.1 308.5h0M408.8 313.5h0M409.8 310.6h0M414.7 315.1h0M408.0 291.9h0M430.1 305.8h0M438.3 324.9h0M405.9 303.8h0M407.1 316.3h0M409.4 303.0h0M407.4 313.5h0M398.0 294.3h0M340.4 276.7h0M405.7 291.7h0M402.5 283.7h0M420.8 319.3h0M423.0 297.8h0M393.4 300.3h0M378.5 288.1h0M401.5 309.4h0M404.2 321.3h0M419.0 304.9h0M445.4 321.6h0M395.7 300.5h0M409.2 321.4h0M419.9 296.2h0M408.8 318.7h0M416.7 308.2h0M401.2 299.9h0M401.7 319.0h0M404.2 307.5h0M367.1 284.4h0M377.0 290.4h0M394.7 321.6h0M417.7 300.2h0M382.7 295.2h0M411.2 299.1h0M397.8 302.9h0M431.9 316.2h0M383.7 301.4h0M413.8 310.8h0M455.3 326.0h0M380.7 293.8h0M390.2 307.7h0M413.1 290.0h0M406.8 300.7h0M409.1 309.6h0M453.6 329.5h0M400.1 306.2h0M404.1 305.9h0M396.0 300.7h0M426.9 314.7h0M410.5 303.6h0M390.3 292.8h0M393.3 286.0h0M378.9 281.5h0M433.5 321.0h0M437.9 320.3h0M428.6 314.3h0M432.1 324.9h0M392.1 300.9h0M423.1 287.0h0M404.9 316.4h0M411.2 309.3h0M407.6 314.4h0M376.6 295.2h0M401.1 292.5h0M384.4 301.6h0M414.0 310.2h0M428.7 305.1h0M423.3 318.9h0M387.8 298.6h0M410.6 315.9h0M409.2 300.8h0M380.0 287.7h0M420.2 312.5h0M439.5 324.3h0M406.1 304.5h0M390.4 317.4h0M396.3 315.4h0M397.3 296.9h0M460.6 328.4h0M409.9 310.4h0M438.1 316.7h0M383.4 292.9h0M395.3 317.8h0M399.4 293.8h0M406.4 310.9h0M419.5 297.5h0M397.2 294.9h0M393.2 302.1h0M397.2 296.0h0M382.7 298.0h0M419.1 310.5h0M420.8 311.8h0M423.5 310.5h0M409.6 295.6h0M412.2 309.4h0M404.3 295.5h0M431.0 307.6h0M407.8 293.5h0M418.8 325.0h0M398.5 293.8h0M403.1 296.1h0M391.3 305.0h0M390.6 298.9h0M382.8 291.2h0M402.4 283.7h0M395.2 295.3h0M417.2 305.1h0M404.7 302.6h0M388.5 288.0h0M401.2 303.1h0M380.9 294.8h0M417.4 294.7h0M437.2 315.9h0M397.9 311.1h0M398.1 273.7h0M433.9 322.9h0M426.8 329.1h0M403.3 296.4h0M400.0 311.6h0M403.4 297.7h0M395.9 298.8h0M360.0 289.7h0M398.7 299.0h0M398.2 296.7h0M403.8 325.5h0M374.5 287.7h0M409.8 335.2h0M410.9 304.0h0M416.7 294.5h0M358.4 279.2h0M394.6 294.6h0M422.9 331.9h0M420.1 310.1h0M388.2 303.7h0M380.0 303.7h0M398.9 304.4h0M440.9 322.4h0M378.4 288.5h0M423.0 307.4h0M392.9 298.0h0M442.6 319.5h0M388.2 288.0h0M407.0 313.0h0M427.8 318.3h0M412.4 309.7h0M422.1 308.0h0M447.3 340.0h0M411.7 300.9h0M365.6 271.8h0M377.3 291.2h0M401.0 288.7h0M441.4 318.1h0M415.5 312.0h0M430.6 314.6h0M400.7 290.4h0M445.3 330.8h0M443.3 340.5h0M397.2 296.0h0M426.3 301.9h0M368.7 289.2h0M428.4 326.8h0M391.3 291.2h0M385.5 295.4h0M398.2 303.1h0M398.3 295.8h0M380.6 297.0h0M405.3 305.2h0M432.9 321.6h0M392.5 295.5h0M415.5 305.5h0M405.6 313.9h0M393.7 297.4h0M404.8 299.9h0M400.2 296.7h0M407.7 324.7h0M415.1 319.6h0M397.0 303.8h0M383.3 305.1h0M404.6 301.0h0M374.1 290.2h0M414.9 299.5h0M413.9 308.0h0M433.3 319.3h0M417.4 303.6h0M380.7 297.6h0M400.1 297.4h0M424.0 298.0h0M384.4 292.2h0M441.0 327.9h0M412.1 310.5h0M400.9 290.8h0M436.2 318.7h0M362.1 284.2h0M404.9 307.6h0M406.5 311.3h0M404.6 334.2h0M446.1 315.6h0M372.1 291.5h0M452.5 330.5h0M455.1 326.7h0M398.1 297.9h0M447.7 319.7h0M372.1 294.4h0M400.6 288.8h0M421.3 309.4h0M415.8 318.2h0M370.3 295.5h0M423.2 333.4h0M416.3 304.6h0M410.4 320.2h0M395.1 305.6h0M423.1 311.5h0M429.7 318.1h0M407.3 304.3h0M421.6 308.4h0M350.3 279.4h0M385.5 308.7h0M404.2 296.3h0M395.2 302.2h0M385.8 302.6h0M403.9 307.5h0M389.9 312.9h0M416.7 303.0h0M382.9 297.7h0M382.0 294.6h0M398.1 312.0h0M426.8 313.8h0M382.2 279.1h0M371.9 271.6h0M430.2 321.5h0M381.0 291.4h0M424.9 306.8h0M403.5 305.5h0M409.9 309.3h0M432.3 315.5h0M393.4 301.8h0M404.0 295.7h0M416.7 312.6h0M397.0 311.3h0M377.1 290.7h0M422.6 309.1h0M396.6 293.5h0M408.2 311.7h0M403.3 304.8h0M362.6 288.3h0M414.4 313.7h0M434.7 319.2h0M403.3 304.8h0M383.2 292.1h0M442.9 327.7h0M391.9 290.2h0M401.6 295.9h0M386.0 293.0h0M356.7 278.7h0M410.7 315.8h0M362.0 283.1h0M380.5 284.4h0M408.6 290.8h0M407.4 319.9h0M372.0 293.3h0M446.2 312.9h0M380.0 284.3h0M405.1 308.9h0M406.8 295.2h0M402.8 299.1h0M423.2 300.6h0M445.5 324.3h0M402.6 304.0h0M413.8 304.3h0M377.2 286.6h0M423.5 311.9h0M423.5 305.5h0M445.3 314.5h0M431.2 307.0h0M409.3 305.8h0M404.7 300.9h0M377.8 290.2h0M412.4 305.9h0M396.5 298.2h0M399.4 297.2h0M377.8 289.1h0M398.2 289.7h0M399.7 281.3h0M402.1 301.5h0M401.9 316.8h0M416.0 326.3h0M391.4 292.5h0M388.9 295.5h0M403.2 294.8h0M358.8 280.9h0M420.6 312.5h0M427.2 312.7h0M423.0 306.3h0M391.9 280.7h0M402.8 292.5h0M390.6 301.0h0M401.8 290.7h0M396.5 292.8h0M407.3 301.5h0M395.6 301.3h0M425.6 320.2h0M404.3 296.3h0M399.7 314.3h0M409.0 298.8h0M410.2 301.2h0M388.3 283.4h0M389.0 295.3h0M448.6 315.7h0M369.1 282.4h0M429.6 322.9h0M363.1 283.9h0M371.9 285.8h0M406.2 288.4h0M408.6 304.3h0M431.5 307.1h0M415.0 309.0h0M393.9 308.0h0M432.3 315.0h0M401.3 294.5h0M390.6 292.3h0M388.2 291.5h0M426.6 332.6h0M394.8 285.3h0M442.8 315.7h0M375.0 292.4h0M376.6 301.1h0M362.8 275.7h0M432.8 312.0h0M416.4 302.2h0M397.8 308.0h0M416.5 323.4h0M400.6 298.6h0M403.1 290.8h0M439.0 328.1h0M440.1 321.4h0M411.6 328.2h0M365.6 277.4h0M400.7 293.4h0M344.3 274.7h0M417.3 315.9h0M440.1 318.3h0M380.1 289.5h0M406.6 297.9h0M413.6 306.4h0M447.6 326.9h0M413.4 275.4h0M354.0 274.5h0M403.3 303.6h0M399.2 298.6h0M398.5 298.5h0M401.7 305.4h0M425.6 315.7h0M385.4 286.2h0M389.6 281.0h0M408.2 310.4h0M405.0 299.0h0M406.7 309.1h0M443.9 338.3h0M403.4 308.1h0M433.2 326.2h0M422.3 300.7h0M421.4 307.9h0M396.4 307.1h0M364.7 274.3h0M417.8 312.1h0M393.4 297.3h0M385.7 292.6h0M353.8 278.4h0M391.2 297.6h0M420.8 309.5h0M421.8 323.1h0M412.0 295.6h0M402.6 294.7h0M405.5 313.5h0M387.8 300.2h0M424.5 299.2h0M399.2 308.5h0M402.1 300.6h0M400.3 306.9h0M416.0 312.8h0M406.4 300.0h0M410.1 306.0h0M405.0 312.6h0M388.6 295.1h0M443.1 313.7h0M441.8 330.0h0M400.8 277.4h0M398.2 297.8h0M438.2 338.5h0M404.0 300.8h0M397.0 305.8h0M409.6 314.6h0M444.5 332.6h0M398.4 284.8h0M389.5 301.6h0M409.6 318.7h0M402.0 305.8h0M353.9 279.2h0M407.9 308.3h0M412.8 307.0h0M382.6 297.4h0M399.5 315.9h0M404.8 293.9h0M405.3 303.9h0M391.6 294.2h0M353.2 275.4h0M417.8 310.2h0M403.4 310.8h0M416.3 306.0h0M413.1 311.2h0M390.7 284.2h0M428.3 320.5h0M407.5 288.7h0M415.3 304.3h0M425.1 321.7h0M431.8 313.7h0M401.4 295.9h0M444.0 324.7h0M406.9 301.2h0M419.4 305.0h0M459.9 327.0h0M430.5 308.8h0M401.8 306.5h0M424.1 328.3h0M391.5 289.9h0M360.6 276.1h0M420.2 325.8h0M405.6 303.5h0M389.6 294.4h0M431.1 327.4h0M413.5 317.0h0M390.9 300.6h0M377.0 297.8h0M426.5 311.9h0M421.5 318.3h0M419.8 298.6h0M420.8 311.9h0M437.5 324.1h0M425.8 314.6h0M390.8 304.6h0M439.9 330.4h0M410.3 312.8h0M354.9 272.8h0M398.5 300.8h0M384.6 303.9h0M419.7 302.5h0M404.9 303.9h0M400.6 315.4h0M434.2 317.1h0M408.4 306.6h0M378.7 300.1h0M376.6 293.1h0M417.0 328.6h0M420.9 316.1h0M419.2 295.9h0M441.1 319.1h0M427.4 330.1h0M404.1 306.2h0M405.5 287.8h0M410.5 309.8h0M402.1 311.8h0M408.7 308.7h0M464.3 332.5h0M428.5 313.5h0M401.8 291.3h0M404.6 314.2h0M399.5 323.9h0M433.5 322.1h0M391.7 284.6h0M385.6 289.7h0M381.9 288.3h0M420.0 304.1h0M423.9 306.1h0M389.7 276.3h0M427.5 316.1h0M401.8 291.7h0M406.8 289.4h0M404.5 296.8h0M418.9 304.8h0M400.0 308.5h0M391.9 300.5h0M412.1 304.0h0M400.3 293.4h0M388.1 298.8h0M444.2 319.5h0M407.5 312.4h0M398.7 285.2h0M407.3 335.3h0M431.4 307.7h0M435.2 315.4h0M431.4 325.2h0M407.4 316.1h0M425.3 318.4h0M402.9 306.2h0M410.5 311.8h0M414.6 321.4h0M398.9 298.4h0M412.1 302.6h0M359.4 271.7h0M395.0 287.5h0M429.0 319.2h0M400.9 330.9h0M383.5 286.0h0M437.5 317.4h0M422.3 305.6h0M373.1 277.2h0M384.0 292.4h0M412.2 303.5h0M387.6 309.2h0M368.0 277.2h0M410.8 285.3h0M431.8 297.1h0M434.4 308.0h0M418.0 297.1h0M389.9 289.4h0M397.8 292.5h0M396.5 290.8h0M437.1 323.5h0M403.0 314.7h0M403.4 299.5h0M400.7 270.2h0M415.1 310.0h0M433.2 321.2h0M416.9 311.5h0M401.3 296.7h0M384.6 294.8h0M405.5 303.3h0M431.7 313.9h0M393.1 297.9h0M392.8 292.5h0M410.3 320.2h0M408.1 303.1h0M382.7 298.1h0M418.2 316.4h0M423.4 318.4h0M378.4 285.4h0M411.4 278.3h0M423.5 308.1h0M410.6 323.5h0M406.9 310.2h0M407.1 305.6h0M406.9 315.8h0M385.4 295.4h0M416.7 284.5h0M383.7 293.8h0M389.2 297.6h0M403.2 310.4h0M408.5 288.4h0M415.4 298.8h0M383.9 298.7h0M391.8 301.3h0M403.9 312.5h0M385.9 295.7h0M435.1 326.4h0M406.0 293.5h0M381.5 303.2h0M438.1 331.4h0M405.9 306.7h0M423.3 319.2h0M415.9 305.3h0M413.9 276.8h0M401.1 311.8h0M415.2 316.4h0M388.3 290.9h0M414.5 301.4h0M410.8 317.4h0M434.6 315.6h0M441.4 323.1h0M426.8 313.0h0M408.8 311.3h0M391.0 284.9h0M357.0 281.0h0M383.0 283.8h0M404.1 300.0h0M407.7 302.7h0M449.7 321.8h0M408.9 317.6h0M411.7 309.2h0M399.1 296.6h0M425.1 319.6h0M431.4 318.1h0M404.9 308.2h0M391.4 289.4h0M409.7 290.0h0M395.3 282.9h0M431.6 306.1h0M406.8 306.2h0M375.7 279.7h0M451.0 319.1h0M400.8 293.1h0M458.0 334.6h0M434.6 306.1h0M415.2 301.0h0M430.9 328.0h0M400.5 312.4h0M406.8 322.9h0M413.5 309.0h0M377.4 287.3h0M427.1 318.6h0M409.7 303.2h0M399.4 329.0h0M395.9 310.8h0M402.3 312.8h0M398.5 310.1h0M401.8 306.8h0M396.7 302.2h0M397.8 308.8h0M397.6 313.3h0M418.4 317.0h0M418.3 285.4h0M399.6 295.6h0M397.7 290.1h0M418.4 324.0h0M413.5 323.4h0M426.9 322.9h0M419.2 311.2h0M418.2 316.4h0M400.0 296.0h0M440.2 324.0h0M403.7 305.6h0M391.1 285.7h0M395.1 298.5h0M434.2 323.9h0M418.5 321.1h0M408.0 305.1h0M414.8 315.5h0M414.0 285.6h0M363.8 275.4h0M404.3 306.2h0M375.8 293.3h0M424.0 319.8h0M422.8 304.9h0M399.6 296.2h0M422.8 307.9h0M444.2 309.7h0M397.7 296.5h0M422.5 305.1h0M453.2 320.8h0M394.0 300.0h0M422.4 313.3h0M410.6 302.4h0M401.3 295.8h0M432.0 339.5h0M429.0 324.7h0M418.2 314.3h0M457.5 331.0h0M420.6 311.7h0M410.4 309.0h0M405.7 304.9h0M443.2 323.5h0M415.2 308.5h0M424.9 324.5h0M372.9 283.5h0M424.2 300.5h0M400.8 305.6h0M383.2 285.1h0M376.5 291.2h0M435.4 320.1h0M432.0 310.6h0M408.4 290.3h0M393.4 293.3h0M436.8 323.4h0M383.9 285.4h0M410.0 310.5h0M413.6 302.8h0M399.8 292.9h0M402.7 330.2h0M392.7 304.9h0M390.5 297.7h0M399.9 304.2h0M403.2 291.8h0M404.8 310.1h0M395.9 294.4h0M420.0 300.4h0M424.1 308.4h0M386.9 306.7h0M417.8 310.6h0M402.2 303.0h0M416.0 305.9h0M402.8 317.5h0M424.9 312.3h0M379.0 301.6h0M413.8 305.5h0M377.0 297.9h0M415.0 317.8h0M419.1 309.5h0M431.0 321.6h0M405.2 308.4h0M377.7 287.9h0M406.3 308.2h0M386.0 293.8h0M400.5 286.0h0M378.7 291.8h0M418.3 292.4h0M418.4 311.2h0M435.1 319.2h0M387.7 302.9h0M371.8 291.2h0M346.9 272.6h0M422.1 315.6h0M402.8 297.7h0M398.6 298.1h0M395.1 309.5h0M455.3 335.9h0M427.2 311.6h0M422.3 303.8h0M390.6 299.9h0M430.9 319.6h0M417.6 301.1h0M462.9 330.3h0M396.4 287.7h0M408.0 300.2h0M423.4 317.8h0M414.7 332.3h0M396.6 291.0h0M381.8 301.9h0M403.6 299.5h0M384.7 295.7h0M456.6 326.4h0M404.4 318.1h0M458.3 326.7h0M412.1 326.2h0M402.8 321.1h0M423.6 300.6h0M394.2 299.8h0M420.5 289.5h0M392.3 297.7h0M398.0 288.5h0M414.8 310.7h0M373.0 277.6h0M378.9 289.4h0M406.7 298.3h0M423.6 302.2h0M395.3 306.4h0M392.7 314.6h0M413.5 301.1h0M401.9 301.4h0M419.9 313.2h0M382.9 291.2h0M385.0 300.2h0M404.2 316.0h0M412.9 300.5h0M449.6 325.9h0M403.8 293.2h0M426.5 309.3h0M389.3 294.0h0M386.7 284.0h0M406.5 298.3h0M424.5 321.4h0M347.3 275.0h0M418.9 309.9h0M407.2 298.5h0M393.3 307.4h0M414.3 303.5h0M398.4 307.1h0M394.8 287.5h0M421.6 304.2h0M401.1 302.4h0M390.4 293.4h0M409.7 291.7h0M417.4 313.9h0M442.3 326.7h0M413.6 315.4h0M417.7 312.3h0M391.9 292.7h0M404.3 311.0h0M387.8 309.2h0M394.2 295.8h0M417.9 298.7h0M383.7 304.2h0M375.7 270.5h0M375.4 273.2h0M422.0 303.8h0M409.9 295.7h0M432.5 308.7h0M365.0 279.3h0M401.2 297.7h0M451.7 336.5h0M419.3 323.5h0M391.6 302.5h0M381.1 276.7h0M423.9 299.9h0M425.4 310.4h0M414.7 308.7h0M347.6 269.2h0M416.7 312.4h0M367.6 287.3h0M405.0 319.9h0M380.9 289.3h0M386.2 270.2h0M450.5 324.0h0M403.4 315.8h0M427.3 315.3h0M417.3 312.5h0M439.7 320.2h0M377.7 285.7h0M381.6 297.6h0M399.1 282.5h0M422.6 309.0h0M364.1 288.1h0M385.0 280.1h0M383.6 301.0h0M399.7 303.2h0M353.1 281.9h0M423.4 312.8h0M428.5 313.9h0M432.7 331.6h0M406.3 300.9h0M408.7 309.1h0M418.6 312.9h0M395.4 296.2h0M373.7 289.7h0M380.2 281.3h0M396.1 314.1h0M417.1 295.4h0M373.6 286.3h0M406.1 306.0h0M429.5 337.0h0M448.2 325.8h0M428.7 314.5h0M366.1 276.6h0M431.9 313.8h0M426.4 318.1h0M420.7 304.0h0M416.0 302.1h0M410.0 291.0h0M436.1 326.4h0M422.4 324.6h0M427.3 302.2h0M400.7 304.5h0M373.6 289.3h0M426.5 318.5h0M419.8 308.5h0M397.6 300.8h0M409.4 321.3h0M410.9 313.9h0M440.1 322.9h0M398.3 324.3h0M350.7 273.1h0M420.8 312.0h0M432.5 308.6h0M418.4 303.9h0M401.5 297.8h0M407.2 322.4h0M408.8 297.7h0M395.9 307.3h0M415.6 325.1h0M432.6 313.5h0M418.4 300.3h0M402.9 296.4h0M373.9 294.1h0M427.7 304.6h0M379.4 291.6h0M413.0 311.1h0M427.2 335.9h0M367.5 278.7h0M413.4 313.5h0M434.9 305.8h0M408.8 305.1h0M404.5 281.3h0M420.0 302.5h0M417.4 304.3h0M406.6 303.1h0M406.8 299.3h0M422.4 313.1h0M417.5 310.0h0M436.9 328.3h0M402.6 311.9h0M367.0 275.0h0M426.5 299.4h0M442.4 318.1h0M398.6 292.5h0M413.7 313.5h0M430.1 311.2h0M355.6 278.9h0M384.5 285.4h0M409.6 304.4h0M413.9 301.6h0M399.0 318.0h0M412.7 309.3h0M423.2 317.3h0M389.3 273.6h0M393.0 298.8h0M452.9 323.1h0M417.5 318.7h0M449.5 325.1h0M420.5 308.2h0M401.5 293.0h0M397.7 316.4h0M401.4 309.7h0M379.8 297.5h0M400.7 301.4h0M387.7 290.2h0M402.2 298.5h0M394.4 311.6h0M404.7 306.8h0M393.9 307.5h0M402.2 298.1h0M416.6 316.3h0M446.3 329.4h0M402.3 307.4h0M409.2 292.2h0M422.5 309.9h0M362.0 273.8h0M406.6 320.2h0M400.4 297.3h0M421.9 310.8h0M372.5 288.4h0M419.5 317.1h0M380.3 295.9h0M396.5 281.6h0M404.7 312.4h0M393.1 290.8h0M391.8 292.2h0M398.8 307.6h0M437.7 331.1h0M415.1 317.4h0M398.1 300.0h0M422.4 316.4h0M403.4 299.6h0M384.5 284.7h0M394.2 300.3h0M415.0 326.1h0M420.5 311.3h0M422.7 313.2h0M420.1 298.8h0M402.7 293.4h0M379.0 287.3h0M436.3 314.2h0M404.4 306.0h0M393.1 289.4h0M392.3 308.9h0M420.1 308.5h0M395.4 305.2h0M376.9 284.6h0M380.6 290.8h0M403.2 300.0h0M419.3 307.2h0M398.5 298.3h0M386.9 291.5h0M419.1 312.5h0M392.9 298.4h0M368.3 294.7h0M371.3 294.5h0M412.5 322.2h0M412.6 316.7h0M382.8 294.0h0M404.1 307.5h0M387.3 277.5h0M422.1 309.5h0M427.9 317.0h0M386.7 309.0h0M388.4 295.2h0M398.2 307.3h0M412.1 312.6h0M415.0 281.7h0M386.2 298.4h0M415.9 311.1h0M405.3 288.4h0M431.6 330.2h0M397.7 282.8h0M392.7 297.5h0M418.4 314.8h0M420.1 312.7h0M424.2 295.9h0M394.1 303.2h0M415.8 309.2h0M395.1 308.1h0M419.0 315.5h0M380.7 283.8h0M404.5 299.1h0M442.4 326.3h0M366.0 271.1h0M438.0 319.2h0M406.9 293.2h0M438.4 306.4h0M387.7 293.6h0M428.3 311.3h0M390.7 297.2h0M440.9 324.5h0M425.7 297.1h0M453.8 335.6h0M391.9 296.9h0M427.5 315.7h0M432.1 323.1h0M418.8 305.1h0M381.9 287.8h0M386.2 303.0h0M414.4 308.0h0M411.5 300.5h0M394.4 272.1h0M374.6 287.0h0M431.0 317.5h0M367.9 290.6h0M423.3 307.9h0M422.2 311.1h0M397.8 292.3h0M404.0 301.0h0M395.5 295.5h0M406.7 317.3h0M366.4 288.7h0M411.5 299.8h0M399.1 301.8h0M440.5 329.8h0M403.7 295.2h0M447.6 321.8h0M430.2 315.6h0M397.3 292.7h0M441.1 323.9h0M390.1 280.4h0M424.2 326.5h0M443.3 319.9h0M383.2 280.4h0M405.0 275.7h0M391.2 295.7h0M401.9 288.4h0M405.3 311.1h0M422.1 316.8h0M377.5 290.9h0M384.5 300.5h0M399.5 300.1h0M353.1 235.0h0M310.0 248.6h0M314.4 251.5h0M322.1 248.0h0M328.6 255.4h0M328.6 261.3h0M362.6 248.6h0M370.0 257.4h0M347.2 257.7h0M456.4 281.1h0M444.0 288.5h0M433.6 288.5h0M401.0 269.3h0M408.4 272.2h0M359.6 311.6h0M370.0 317.5h0M392.2 329.9h0M407.0 338.8h0M446.9 347.7h0M452.8 340.6h0M441.9 360.7h0M460.2 372.8h0M491.3 374.3h0M500.1 353.0h0M503.1 356.0h0M507.0 340.3h0M486.0 347.7h0M475.0 340.3h0M467.6 335.2h0M470.0 350.0h0M467.0 356.5h0M463.2 330.8h0M458.7 326.4h0M458.1 314.0h0M449.9 316.0h0M435.1 296.8h0" stroke="#1f77b4" stroke-width="2.6" stroke-linecap="round" fill="none"/>
<path d="M299.60 304.16H516.80M407.15 211.30V397.20" stroke="#919191" stroke-opacity="0.67" stroke-width="1.6" fill="none"/>
<line x1="299.60" y1="249.86" x2="516.80" y2="359.52" stroke="#000" stroke-width="2.1"/>
</g>
<rect x="299.60" y="211.30" width="217.20" height="185.90" fill="none" stroke="#505050" stroke-width="1.4"/>
<path d="M306.75 397.20v-1.90M306.75 211.30v1.90M317.91 397.20v-3.00M317.91 211.30v3.00M329.06 397.20v-1.90M329.06 211.30v1.90M340.22 397.20v-1.90M340.22 211.30v1.90M351.38 397.20v-1.90M351.38 211.30v1.90M362.53 397.20v-3.00M362.53 211.30v3.00M373.68 397.20v-1.90M373.68 211.30v1.90M384.84 397.20v-1.90M384.84 211.30v1.90M396.00 397.20v-1.90M396.00 211.30v1.90M407.15 397.20v-3.00M407.15 211.30v3.00M418.30 397.20v-1.90M418.30 211.30v1.90M429.46 397.20v-1.90M429.46 211.30v1.90M440.62 397.20v-1.90M440.62 211.30v1.90M451.77 397.20v-3.00M451.77 211.30v3.00M462.92 397.20v-1.90M462.92 211.30v1.90M474.08 397.20v-1.90M474.08 211.30v1.90M485.24 397.20v-1.90M485.24 211.30v1.90M496.39 397.20v-3.00M496.39 211.30v3.00M507.54 397.20v-1.90M507.54 211.30v1.90M299.60 393.68h3.00M516.80 393.68h-3.00M299.60 386.22h1.90M516.80 386.22h-1.90M299.60 378.76h1.90M516.80 378.76h-1.90M299.60 371.30h1.90M516.80 371.30h-1.90M299.60 363.84h3.00M516.80 363.84h-3.00M299.60 356.38h1.90M516.80 356.38h-1.90M299.60 348.92h1.90M516.80 348.92h-1.90M299.60 341.46h1.90M516.80 341.46h-1.90M299.60 334.00h3.00M516.80 334.00h-3.00M299.60 326.54h1.90M516.80 326.54h-1.90M299.60 319.08h1.90M516.80 319.08h-1.90M299.60 311.62h1.90M516.80 311.62h-1.90M299.60 304.16h3.00M516.80 304.16h-3.00M299.60 296.70h1.90M516.80 296.70h-1.90M299.60 289.24h1.90M516.80 289.24h-1.90M299.60 281.78h1.90M516.80 281.78h-1.90M299.60 274.32h3.00M516.80 274.32h-3.00M299.60 266.86h1.90M516.80 266.86h-1.90M299.60 259.40h1.90M516.80 259.40h-1.90M299.60 251.94h1.90M516.80 251.94h-1.90M299.60 244.48h3.00M516.80 244.48h-3.00M299.60 237.02h1.90M516.80 237.02h-1.90M299.60 229.56h1.90M516.80 229.56h-1.90M299.60 222.10h1.90M516.80 222.10h-1.90M299.60 214.64h3.00M516.80 214.64h-3.00" stroke="#505050" stroke-width="1.0" fill="none"/>
<clipPath id="c12"><rect x="542.20" y="211.30" width="216.80" height="185.90"/></clipPath>
<g clip-path="url(#c12)">
<path d="M675.4 313.6h0M642.6 288.1h0M643.5 305.8h0M656.8 308.1h0M655.6 312.3h0M635.3 308.8h0M659.8 308.5h0M665.3 306.2h0M658.5 305.9h0M651.2 310.8h0M608.1 285.5h0M654.6 314.8h0M651.4 312.9h0M646.0 291.3h0M655.1 330.5h0M665.6 310.9h0M670.0 317.4h0M669.0 300.5h0M658.6 297.0h0M634.3 298.3h0M667.3 311.1h0M656.8 304.2h0M690.8 329.3h0M665.8 315.0h0M691.5 313.5h0M657.1 311.3h0M659.8 304.9h0M632.0 285.0h0M682.4 313.2h0M648.7 288.3h0M674.3 312.3h0M681.9 299.7h0M669.0 309.2h0M668.6 305.4h0M643.4 306.1h0M667.8 305.8h0M646.5 312.6h0M656.1 314.1h0M654.7 306.9h0M652.1 320.7h0M654.8 304.0h0M621.1 290.1h0M645.6 300.8h0M672.3 300.6h0M659.3 314.8h0M684.0 312.7h0M648.3 304.8h0M648.4 301.5h0M637.3 306.1h0M651.8 309.2h0M666.0 302.9h0M636.5 294.0h0M655.1 293.6h0M631.3 288.0h0M662.4 307.7h0M678.7 319.1h0M633.0 294.7h0M669.7 314.0h0M644.4 285.8h0M653.4 309.7h0M642.8 292.4h0M634.5 296.9h0M639.8 295.5h0M660.5 305.9h0M657.0 295.6h0M657.9 301.0h0M666.1 307.4h0M658.7 302.6h0M657.4 305.5h0M698.9 319.5h0M670.9 302.9h0M632.2 282.3h0M654.0 299.0h0M677.7 320.3h0M666.5 289.4h0M654.6 305.6h0M653.2 303.6h0M668.1 312.5h0M627.5 284.4h0M651.1 318.0h0M654.5 318.2h0M666.2 308.3h0M667.5 316.5h0M651.0 298.3h0M669.1 308.3h0M667.3 308.6h0M668.2 320.0h0M642.5 302.2h0M649.3 306.8h0M651.4 310.3h0M651.5 301.8h0M670.0 315.8h0M650.6 292.3h0M647.6 286.3h0M640.7 291.6h0M622.0 297.7h0M668.9 313.4h0M654.2 298.4h0M630.3 300.7h0M690.2 316.0h0M656.8 306.9h0M623.2 297.7h0M640.8 295.3h0M659.6 287.0h0M656.9 289.5h0M636.6 293.3h0M655.4 293.2h0M642.7 303.0h0M647.5 299.2h0M633.9 289.4h0M635.7 297.8h0M627.0 302.4h0M646.4 297.1h0M653.6 304.9h0M654.2 318.8h0M628.6 293.3h0M653.3 309.0h0M652.0 310.8h0M665.4 306.9h0M618.6 287.3h0M644.8 282.1h0M648.0 308.7h0M642.2 297.2h0M658.4 307.6h0M676.6 313.8h0M656.5 305.6h0M652.9 316.8h0M633.5 305.9h0M651.3 295.4h0M646.1 298.1h0M643.5 309.7h0M649.5 328.2h0M646.8 290.3h0M655.6 307.2h0M651.7 294.0h0M670.0 314.8h0M657.4 294.9h0M656.0 298.5h0M658.7 303.9h0M620.8 290.4h0M624.8 283.4h0M664.1 302.1h0M660.6 292.3h0M650.4 294.4h0M673.1 293.9h0M672.0 305.7h0M653.3 306.2h0M665.6 287.5h0M645.9 306.5h0M665.8 316.9h0M650.9 297.8h0M660.9 322.6h0M670.9 307.1h0M678.9 298.9h0M656.4 296.7h0M633.4 302.3h0M607.7 274.3h0M650.5 306.1h0M661.3 307.4h0M646.5 301.2h0M636.7 287.3h0M675.0 308.0h0M672.2 314.7h0M649.1 298.0h0M644.4 290.5h0M631.7 286.4h0M671.7 306.0h0M653.9 299.5h0M656.6 307.6h0M661.3 313.5h0M679.1 323.8h0M654.2 304.0h0M652.2 303.5h0M656.3 293.4h0M652.5 307.2h0M663.3 306.5h0M653.2 308.7h0M644.4 299.3h0M629.7 303.7h0M660.5 302.2h0M651.9 308.2h0M654.4 305.1h0M634.3 302.4h0M622.0 299.9h0M638.4 296.7h0M672.1 307.0h0M660.0 316.8h0M670.0 313.1h0M665.4 312.7h0M663.5 306.5h0M649.3 310.0h0M645.1 304.2h0M660.1 298.6h0M631.0 288.2h0M623.8 287.5h0M631.9 282.2h0M640.2 302.3h0M631.0 306.9h0M653.4 299.4h0M608.1 285.5h0M668.8 312.0h0M669.7 307.4h0M639.6 297.8h0M674.4 321.2h0M668.6 317.7h0M645.9 308.9h0M665.3 310.3h0M654.6 298.2h0M641.6 294.6h0M653.6 302.9h0M668.1 309.8h0M671.4 305.4h0M661.3 312.2h0M646.4 293.3h0M631.0 292.8h0M652.6 297.5h0M650.3 297.3h0M622.3 292.4h0M646.4 301.4h0M651.4 315.7h0M605.4 276.3h0M640.7 295.0h0M645.6 304.5h0M661.2 301.1h0M685.3 319.8h0M662.9 304.1h0M648.9 312.5h0M659.0 301.8h0M641.2 303.9h0M650.2 309.6h0M661.6 296.7h0M676.1 322.8h0M688.0 318.3h0M650.7 302.9h0M657.1 308.3h0M637.0 291.2h0M643.6 314.7h0M655.9 322.5h0M652.3 291.7h0M655.0 321.3h0M650.2 307.8h0M642.9 302.9h0M641.0 288.7h0M653.1 308.8h0M640.5 295.4h0M652.9 300.2h0M654.6 324.6h0M664.3 305.7h0M643.4 284.0h0M685.1 310.6h0M662.2 314.5h0M648.7 300.6h0M651.1 308.1h0M620.0 297.8h0M644.9 294.0h0M676.3 320.6h0M660.2 320.4h0M629.3 295.0h0M668.3 300.8h0M653.6 311.8h0M676.0 318.5h0M636.5 300.7h0M652.5 291.3h0M663.0 298.6h0M648.1 301.4h0M683.9 305.3h0M660.8 319.4h0M619.1 288.9h0M648.7 294.4h0M665.2 306.4h0M652.2 307.4h0M624.7 295.1h0M633.5 304.8h0M654.3 303.7h0M640.5 316.7h0M626.6 291.5h0M665.7 310.6h0M658.4 308.9h0M660.7 301.6h0M664.6 305.4h0M615.0 287.2h0M659.7 322.9h0M629.2 293.2h0M651.1 295.5h0M654.9 300.3h0M664.0 308.5h0M653.8 302.7h0M664.7 308.5h0M670.9 303.5h0M652.3 310.3h0M634.0 297.8h0M650.1 291.5h0M663.2 299.9h0M655.0 294.0h0M667.4 317.9h0M683.0 328.7h0M645.1 319.8h0M658.2 298.0h0M679.5 312.8h0M662.0 307.1h0M642.5 292.0h0M648.5 298.3h0M642.7 304.3h0M652.7 314.8h0M668.1 297.0h0M659.2 309.9h0M636.3 298.1h0M666.6 300.2h0M682.3 321.1h0M641.7 297.2h0M693.7 327.1h0M644.7 310.6h0M637.7 294.7h0M623.0 280.6h0M663.9 308.0h0M654.7 299.4h0M647.3 296.5h0M637.2 292.2h0M608.9 283.2h0M649.4 295.2h0M645.9 303.0h0M655.6 293.3h0M635.6 306.3h0M641.5 300.7h0M635.5 278.7h0M658.8 302.3h0M654.6 304.8h0M645.5 315.4h0M657.6 306.1h0M648.5 291.3h0M647.5 292.9h0M632.0 275.7h0M650.4 306.8h0M674.5 310.8h0M658.4 307.8h0M676.7 292.6h0M653.9 314.6h0M648.4 297.7h0M628.4 275.3h0M654.3 301.7h0M644.0 306.4h0M679.6 289.3h0M666.0 313.7h0M659.1 303.7h0M649.6 311.0h0M648.7 310.9h0M691.8 322.3h0M662.1 304.4h0M670.9 310.4h0M646.3 299.6h0M646.6 303.0h0M669.8 304.1h0M675.5 309.0h0M645.8 295.6h0M621.7 290.1h0M657.5 298.4h0M639.1 290.7h0M631.2 295.1h0M620.1 288.8h0M674.3 305.3h0M658.4 305.3h0M654.2 302.3h0M661.0 313.5h0M630.6 296.4h0M642.8 298.5h0M662.9 313.4h0M653.7 307.9h0M615.5 280.7h0M647.0 311.0h0M661.4 292.5h0M658.2 314.6h0M668.0 308.4h0M651.6 309.1h0M663.5 310.9h0M634.9 312.2h0M648.6 306.2h0M646.1 294.0h0M652.3 308.3h0M658.3 301.7h0M660.7 309.1h0M626.2 306.7h0M646.3 313.0h0M694.8 312.9h0M660.7 301.5h0M649.1 288.8h0M633.1 313.6h0M658.2 300.6h0M674.8 314.3h0M651.4 298.5h0M633.6 298.1h0M662.5 317.6h0M645.2 303.0h0M648.1 284.9h0M668.9 316.1h0M655.8 301.3h0M646.7 301.0h0M642.3 303.5h0M651.9 306.6h0M609.0 292.7h0M619.1 295.6h0M655.6 314.9h0M674.0 320.6h0M648.5 294.3h0M621.4 285.1h0M652.1 304.6h0M663.4 305.8h0M641.4 278.6h0M648.7 303.6h0M659.3 307.9h0M669.6 307.2h0M657.5 301.6h0M663.6 299.4h0M654.7 304.0h0M675.3 312.2h0M638.8 277.4h0M668.9 306.5h0M653.5 308.1h0M642.7 302.9h0M672.4 288.5h0M683.2 313.2h0M629.4 298.5h0M637.1 292.8h0M660.9 300.3h0M672.2 322.2h0M652.1 295.4h0M666.0 311.4h0M657.8 308.0h0M661.1 301.8h0M657.4 308.9h0M645.8 291.5h0M681.1 317.7h0M660.5 308.7h0M653.5 291.2h0M674.1 313.9h0M656.8 304.0h0M663.5 323.3h0M665.2 312.2h0M614.1 291.6h0M652.3 294.0h0M675.9 328.1h0M657.2 294.7h0M629.8 294.0h0M643.0 303.3h0M649.7 297.4h0M644.6 296.3h0M649.7 300.7h0M640.4 291.8h0M659.4 320.3h0M652.8 306.4h0M639.8 282.4h0M651.8 309.5h0M639.5 296.9h0M659.3 289.6h0M699.9 328.7h0M663.4 313.3h0M645.0 307.8h0M647.8 302.4h0M665.8 320.3h0M659.7 311.0h0M656.6 310.6h0M646.7 281.0h0M656.5 303.0h0M668.0 290.3h0M632.6 300.7h0M672.6 310.8h0M636.6 299.7h0M633.6 277.4h0M639.0 287.1h0M654.4 307.7h0M644.9 308.2h0M660.2 296.3h0M686.4 329.7h0M677.9 317.5h0M661.6 295.4h0M688.2 334.8h0M620.4 291.4h0M629.5 283.9h0M645.8 295.7h0M634.5 293.9h0M657.0 307.6h0M679.4 320.2h0M675.8 310.9h0M656.9 311.4h0M645.8 299.0h0M622.2 302.1h0M630.7 295.9h0M651.4 286.8h0M672.9 316.7h0M667.1 321.5h0M659.4 311.8h0M659.7 300.2h0M643.9 306.9h0M678.0 304.1h0M664.2 310.7h0M638.3 319.1h0M676.6 317.8h0M652.4 296.5h0M679.3 318.5h0M650.7 301.7h0M638.5 300.9h0M646.9 299.1h0M668.7 307.3h0M697.6 336.9h0M664.1 305.5h0M648.0 312.0h0M631.3 301.2h0M630.9 294.4h0M658.0 304.1h0M675.6 305.4h0M644.1 298.5h0M650.8 300.8h0M664.6 299.3h0M636.5 301.5h0M665.8 305.3h0M620.7 271.8h0M650.5 304.3h0M657.9 303.8h0M636.0 310.0h0M645.6 310.3h0M618.3 298.2h0M603.4 288.2h0M675.4 317.5h0M648.8 302.8h0M643.8 294.2h0M647.7 306.6h0M639.7 295.8h0M632.1 293.1h0M663.7 331.8h0M659.5 314.6h0M633.5 305.3h0M695.2 323.5h0M662.3 299.8h0M643.0 304.7h0M650.9 301.1h0M661.3 304.8h0M646.5 295.6h0M643.8 309.5h0M639.6 300.2h0M652.6 304.4h0M654.4 311.3h0M648.4 297.7h0M633.4 312.0h0M658.3 315.6h0M663.9 306.8h0M685.7 314.8h0M649.1 302.5h0M615.2 280.3h0M695.9 322.4h0M633.2 294.3h0M663.0 306.5h0M654.1 306.6h0M635.0 283.1h0M662.4 306.5h0M672.8 319.8h0M668.9 310.4h0M655.3 299.9h0M649.8 300.1h0M643.6 303.8h0M621.9 311.0h0M664.4 312.7h0M655.1 313.7h0M626.2 293.0h0M631.2 288.2h0M670.1 305.9h0M645.1 308.1h0M649.1 293.0h0M657.4 295.9h0M666.7 306.0h0M659.8 322.5h0M684.9 308.0h0M657.7 298.3h0M639.4 284.3h0M638.6 300.8h0M680.6 298.1h0M649.9 291.1h0M650.8 288.2h0M672.3 309.0h0M646.4 296.1h0M655.4 298.7h0M656.2 295.8h0M655.7 308.6h0M637.7 298.9h0M603.1 280.3h0M649.6 307.1h0M650.4 295.5h0M674.8 299.9h0M652.7 307.1h0M647.1 294.8h0M686.9 319.3h0M663.3 311.4h0M641.6 310.4h0M666.1 309.3h0M674.8 313.7h0M663.5 317.5h0M634.6 287.4h0M645.9 299.4h0M624.4 297.7h0M642.9 286.5h0M664.1 305.1h0M644.8 295.2h0M662.7 312.8h0M644.2 306.4h0M654.2 300.8h0M640.2 285.6h0M668.6 315.8h0M631.0 303.6h0M603.3 286.3h0M648.5 306.1h0M627.7 296.3h0M642.6 305.0h0M639.6 308.2h0M669.6 312.4h0M634.8 295.2h0M658.9 302.3h0M663.9 316.1h0M649.3 293.6h0M638.9 297.5h0M671.1 314.4h0M664.0 301.8h0M623.9 290.6h0M679.9 315.8h0M640.5 315.1h0M639.6 279.3h0M673.1 312.9h0M643.9 316.3h0M664.6 313.3h0M650.1 307.5h0M664.1 295.2h0M652.9 283.4h0M664.1 324.9h0M653.5 295.7h0M627.7 304.5h0M615.9 292.0h0M662.3 304.0h0M658.6 313.2h0M667.6 328.4h0M651.0 306.6h0M662.2 302.2h0M643.2 308.2h0M669.5 302.7h0M621.4 292.8h0M670.0 319.4h0M660.4 309.5h0M637.2 295.4h0M666.7 311.0h0M657.4 323.5h0M652.9 307.8h0M651.5 319.8h0M670.3 314.3h0M626.7 296.4h0M654.6 320.2h0M649.4 300.8h0M637.8 298.8h0M701.1 325.7h0M649.8 305.0h0M674.6 318.7h0M657.9 283.2h0M691.6 323.3h0M667.6 317.8h0M665.3 305.9h0M661.9 312.9h0M650.7 305.9h0M655.7 309.7h0M653.9 309.1h0M617.0 294.7h0M662.6 312.9h0M646.7 307.2h0M652.2 300.7h0M642.0 293.9h0M654.1 296.9h0M637.7 306.4h0M639.4 299.4h0M644.6 296.1h0M658.7 316.5h0M647.5 293.7h0M638.1 289.9h0M651.8 308.4h0M623.0 289.5h0M642.7 317.9h0M664.6 294.3h0M629.0 289.6h0M647.1 300.6h0M629.8 291.7h0M647.3 294.5h0M652.8 306.2h0M634.3 292.0h0M650.0 317.4h0M660.1 310.2h0M618.2 276.5h0M656.5 310.5h0M655.8 291.5h0M644.2 310.6h0M651.2 305.6h0M663.1 293.3h0M658.7 312.7h0M683.7 309.9h0M674.4 316.6h0M655.7 301.2h0M637.8 300.4h0M671.0 294.5h0M658.9 303.4h0M641.8 306.2h0M640.2 311.0h0M624.5 304.8h0M619.0 288.5h0M651.8 313.5h0M647.3 292.3h0M658.6 319.9h0M646.8 299.1h0M649.7 303.0h0M640.5 292.8h0M623.3 300.2h0M655.3 296.9h0M639.5 284.4h0M650.3 305.1h0M649.9 301.5h0M667.7 304.0h0M644.2 287.5h0M636.6 298.6h0M649.7 299.2h0M645.6 300.8h0M649.3 311.8h0M663.8 313.5h0M650.8 309.8h0M655.3 289.6h0M631.6 293.9h0M670.1 317.6h0M649.6 311.1h0M665.9 304.8h0M643.5 307.9h0M649.8 298.6h0M652.6 311.1h0M668.3 306.3h0M617.0 282.8h0M639.2 294.2h0M661.8 329.9h0M664.2 291.1h0M615.7 289.0h0M664.5 305.2h0M630.6 299.4h0M661.0 308.5h0M635.1 291.0h0M656.7 299.6h0M676.6 319.0h0M685.0 308.8h0M628.4 292.6h0M675.6 306.2h0M662.9 310.5h0M685.7 314.2h0M661.7 308.8h0M648.5 300.1h0M671.4 320.9h0M667.3 307.8h0M666.9 301.4h0M670.7 328.1h0M633.1 318.2h0M663.1 304.1h0M661.1 313.9h0M644.3 306.5h0M617.8 286.5h0M656.4 296.6h0M658.1 312.4h0M622.6 275.8h0M670.0 317.1h0M659.9 282.3h0M654.6 306.1h0M648.2 309.9h0M649.3 311.0h0M663.8 312.8h0M661.5 310.9h0M646.1 286.8h0M653.7 307.8h0M645.7 307.5h0M643.5 300.2h0M696.5 329.0h0M650.9 299.9h0M643.5 297.4h0M673.9 319.1h0M658.2 293.7h0M663.9 303.4h0M649.6 295.3h0M668.1 297.0h0M633.6 297.8h0M652.3 307.2h0M657.8 305.6h0M629.3 303.3h0M660.9 303.5h0M663.7 314.5h0M670.9 325.2h0M641.6 286.7h0M680.6 309.7h0M665.2 296.5h0M611.6 266.6h0M649.7 292.7h0M654.3 297.7h0M637.6 283.3h0M681.4 314.9h0M654.9 304.4h0M667.3 315.7h0M642.7 276.7h0M695.2 261.9h0M551.8 260.7h0M556.2 256.9h0M557.4 250.1h0M574.0 278.4h0M579.9 273.1h0M586.4 266.6h0M590.2 268.7h0M602.6 274.6h0M607.7 275.5h0M595.2 283.5h0M599.7 291.5h0M599.1 307.4h0M612.1 307.4h0M614.5 268.7h0M617.4 275.5h0M618.9 282.0h0M647.9 243.5h0M645.5 271.6h0M658.2 275.5h0M678.7 287.3h0M706.2 300.3h0M688.4 299.7h0M685.5 295.3h0M604.1 342.0h0M628.4 319.9h0M657.4 364.2h0M749.1 351.5h0M725.4 335.2h0M721.0 330.2h0M710.0 324.0h0M703.2 321.9h0M710.6 332.3h0M703.2 336.7h0M691.4 339.7h0M687.5 332.3h0M662.7 330.8h0M697.3 313.0h0M692.9 316.9h0M709.1 307.1h0" stroke="#1f77b4" stroke-width="2.6" stroke-linecap="round" fill="none"/>
<path d="M542.20 304.16H759.00M652.90 211.30V397.20" stroke="#919191" stroke-opacity="0.67" stroke-width="1.6" fill="none"/>
<line x1="542.20" y1="259.88" x2="759.00" y2="346.60" stroke="#000" stroke-width="2.1"/>
</g>
<rect x="542.20" y="211.30" width="216.80" height="185.90" fill="none" stroke="#505050" stroke-width="1.4"/>
<path d="M548.84 397.20v-1.90M548.84 211.30v1.90M560.40 397.20v-3.00M560.40 211.30v3.00M571.96 397.20v-1.90M571.96 211.30v1.90M583.52 397.20v-1.90M583.52 211.30v1.90M595.09 397.20v-1.90M595.09 211.30v1.90M606.65 397.20v-3.00M606.65 211.30v3.00M618.21 397.20v-1.90M618.21 211.30v1.90M629.77 397.20v-1.90M629.77 211.30v1.90M641.34 397.20v-1.90M641.34 211.30v1.90M652.90 397.20v-3.00M652.90 211.30v3.00M664.46 397.20v-1.90M664.46 211.30v1.90M676.02 397.20v-1.90M676.02 211.30v1.90M687.59 397.20v-1.90M687.59 211.30v1.90M699.15 397.20v-3.00M699.15 211.30v3.00M710.71 397.20v-1.90M710.71 211.30v1.90M722.27 397.20v-1.90M722.27 211.30v1.90M733.84 397.20v-1.90M733.84 211.30v1.90M745.40 397.20v-3.00M745.40 211.30v3.00M756.96 397.20v-1.90M756.96 211.30v1.90M542.20 393.68h3.00M759.00 393.68h-3.00M542.20 386.22h1.90M759.00 386.22h-1.90M542.20 378.76h1.90M759.00 378.76h-1.90M542.20 371.30h1.90M759.00 371.30h-1.90M542.20 363.84h3.00M759.00 363.84h-3.00M542.20 356.38h1.90M759.00 356.38h-1.90M542.20 348.92h1.90M759.00 348.92h-1.90M542.20 341.46h1.90M759.00 341.46h-1.90M542.20 334.00h3.00M759.00 334.00h-3.00M542.20 326.54h1.90M759.00 326.54h-1.90M542.20 319.08h1.90M759.00 319.08h-1.90M542.20 311.62h1.90M759.00 311.62h-1.90M542.20 304.16h3.00M759.00 304.16h-3.00M542.20 296.70h1.90M759.00 296.70h-1.90M542.20 289.24h1.90M759.00 289.24h-1.90M542.20 281.78h1.90M759.00 281.78h-1.90M542.20 274.32h3.00M759.00 274.32h-3.00M542.20 266.86h1.90M759.00 266.86h-1.90M542.20 259.40h1.90M759.00 259.40h-1.90M542.20 251.94h1.90M759.00 251.94h-1.90M542.20 244.48h3.00M759.00 244.48h-3.00M542.20 237.02h1.90M759.00 237.02h-1.90M542.20 229.56h1.90M759.00 229.56h-1.90M542.20 222.10h1.90M759.00 222.10h-1.90M542.20 214.64h3.00M759.00 214.64h-3.00" stroke="#505050" stroke-width="1.0" fill="none"/>
<clipPath id="c20"><rect x="55.50" y="409.60" width="217.10" height="185.80"/></clipPath>
<g clip-path="url(#c20)">
<path d="M143.9 504.1h0M206.4 505.7h0M158.5 503.7h0M163.5 522.9h0M159.2 502.5h0M166.0 521.2h0M204.2 505.4h0M207.8 514.1h0M188.5 518.5h0M127.5 491.3h0M134.8 494.3h0M176.7 495.6h0M137.6 511.1h0M156.0 502.8h0M154.3 508.0h0M170.5 502.2h0M182.4 510.9h0M181.0 503.4h0M173.1 490.4h0M159.5 517.8h0M212.2 509.8h0M159.8 504.5h0M166.7 505.2h0M138.9 507.9h0M177.9 509.8h0M143.0 499.4h0M159.3 510.7h0M136.6 508.9h0M165.8 499.3h0M159.9 501.7h0M188.6 503.4h0M167.2 509.6h0M166.2 508.1h0M191.6 505.6h0M189.4 506.6h0M177.1 517.9h0M186.8 499.1h0M167.1 509.8h0M173.4 514.2h0M165.7 523.2h0M167.1 517.8h0M161.6 501.9h0M157.9 505.7h0M165.0 494.4h0M177.3 512.6h0M163.2 499.2h0M161.8 501.4h0M155.2 505.4h0M158.7 484.5h0M189.6 512.0h0M170.9 493.6h0M147.7 506.1h0M163.5 516.2h0M123.6 489.6h0M170.3 499.5h0M131.6 507.6h0M174.9 504.8h0M145.7 529.9h0M167.6 515.1h0M178.9 520.1h0M192.6 503.4h0M190.5 515.2h0M171.6 506.9h0M186.0 479.0h0M158.5 501.0h0M168.5 505.0h0M171.0 504.9h0M166.7 517.5h0M158.7 521.4h0M144.0 501.2h0M178.6 511.0h0M176.0 529.1h0M165.6 499.4h0M151.6 506.1h0M165.9 500.6h0M150.2 498.9h0M138.2 488.0h0M156.1 506.8h0M137.5 488.7h0M175.7 493.0h0M167.8 511.3h0M173.3 510.8h0M166.5 505.5h0M151.9 517.4h0M202.2 515.1h0M182.0 512.8h0M161.7 485.0h0M174.5 503.7h0M178.1 516.6h0M161.2 512.0h0M194.3 502.6h0M135.5 498.4h0M143.5 521.5h0M179.0 487.9h0M168.5 487.8h0M165.4 499.7h0M165.0 492.2h0M173.3 497.6h0M169.2 528.2h0M162.7 494.8h0M153.5 511.2h0M143.4 514.1h0M162.6 489.0h0M170.3 513.9h0M148.3 513.5h0M156.4 494.6h0M186.6 518.8h0M176.0 496.1h0M153.3 487.0h0M159.5 505.2h0M169.9 499.0h0M158.6 511.7h0M195.1 509.5h0M148.0 502.0h0M160.6 484.9h0M170.6 512.7h0M154.7 501.3h0M179.6 512.1h0M170.3 507.8h0M137.9 494.7h0M169.1 497.9h0M160.6 505.2h0M151.2 520.8h0M201.5 515.2h0M144.1 504.4h0M138.4 503.6h0M199.6 514.8h0M154.5 505.8h0M170.5 496.4h0M182.0 495.2h0M158.5 504.2h0M186.0 502.1h0M170.7 497.5h0M178.1 511.9h0M161.4 495.1h0M141.6 517.0h0M192.4 502.9h0M146.5 517.7h0M169.1 522.1h0M145.6 507.3h0M162.8 518.4h0M169.3 506.5h0M184.8 506.2h0M172.0 492.8h0M129.2 497.8h0M142.4 498.4h0M171.5 510.7h0M144.1 482.4h0M168.3 494.0h0M159.5 493.2h0M163.5 505.0h0M181.0 510.2h0M179.9 503.2h0M169.6 512.1h0M132.5 496.5h0M147.0 501.4h0M159.3 497.2h0M182.1 521.5h0M171.7 500.1h0M163.2 511.9h0M151.7 504.7h0M150.7 495.8h0M138.0 516.0h0M179.7 521.7h0M168.9 516.1h0M173.5 483.4h0M164.6 514.0h0M185.2 513.4h0M162.7 515.5h0M163.3 516.6h0M166.9 494.6h0M157.5 505.0h0M167.0 505.3h0M159.0 509.2h0M190.3 500.0h0M164.2 494.7h0M173.2 507.8h0M168.2 497.1h0M180.7 489.6h0M153.4 507.2h0M177.4 490.8h0M197.8 480.1h0M170.9 486.4h0M154.8 505.0h0M127.0 513.8h0M198.0 499.7h0M192.3 505.9h0M183.3 520.5h0M161.9 500.6h0M171.4 514.9h0M158.0 504.8h0M162.8 509.9h0M154.7 507.5h0M160.7 487.9h0M170.1 493.2h0M133.1 513.8h0M156.6 513.5h0M180.0 492.6h0M160.7 512.9h0M186.0 498.2h0M176.0 504.8h0M174.0 497.5h0M162.9 496.7h0M163.9 508.2h0M152.2 498.1h0M131.1 519.1h0M132.5 512.2h0M154.4 508.2h0M176.4 510.9h0M173.9 497.4h0M180.4 516.7h0M181.9 509.6h0M164.4 491.0h0M155.9 514.7h0M176.7 509.1h0M193.4 496.5h0M170.2 511.3h0M183.2 508.8h0M179.8 512.3h0M187.5 528.1h0M136.8 532.2h0M186.4 503.1h0M144.6 504.4h0M146.5 517.5h0M170.3 511.1h0M150.7 498.6h0M160.2 519.2h0M134.2 495.5h0M148.5 504.1h0M155.0 500.0h0M131.7 517.5h0M170.3 518.1h0M171.5 508.7h0M177.6 501.2h0M157.3 516.3h0M157.7 519.8h0M152.0 507.8h0M175.7 512.6h0M144.3 495.8h0M155.6 509.6h0M179.0 504.1h0M136.7 491.8h0M162.1 501.9h0M183.9 509.8h0M158.1 514.3h0M163.8 503.1h0M117.4 510.2h0M164.9 513.8h0M133.5 520.4h0M160.1 504.1h0M136.2 512.2h0M148.4 482.9h0M188.8 504.3h0M178.8 485.3h0M201.7 507.9h0M190.2 518.9h0M137.5 518.3h0M178.2 507.7h0M161.3 501.6h0M182.2 485.1h0M156.7 499.0h0M161.8 503.6h0M160.0 505.6h0M157.4 518.0h0M141.9 479.3h0M183.3 510.6h0M137.1 496.8h0M173.6 530.9h0M175.5 517.7h0M181.3 522.6h0M200.0 502.7h0M151.4 505.8h0M175.9 519.6h0M173.1 507.4h0M166.5 508.7h0M162.2 508.4h0M142.0 495.4h0M161.3 492.4h0M175.9 500.3h0M160.4 520.4h0M173.9 508.1h0M175.3 518.8h0M176.3 501.2h0M186.3 503.9h0M157.3 500.6h0M180.1 526.0h0M189.2 505.2h0M144.5 510.7h0M154.1 522.7h0M172.6 510.9h0M178.2 527.1h0M191.1 493.5h0M175.3 512.2h0M179.8 512.7h0M116.1 518.8h0M182.4 521.0h0M160.9 503.9h0M162.5 508.7h0M170.7 492.7h0M179.9 508.8h0M148.1 511.5h0M140.2 512.7h0M146.3 509.1h0M178.3 498.0h0M163.8 508.0h0M174.6 504.7h0M194.5 489.5h0M166.8 511.7h0M170.9 514.3h0M165.7 533.0h0M183.4 507.5h0M159.6 521.1h0M181.0 520.9h0M140.1 501.4h0M159.5 504.0h0M170.8 507.6h0M152.5 503.0h0M156.7 497.6h0M208.2 499.4h0M174.5 514.5h0M142.4 496.1h0M157.0 501.4h0M154.8 501.9h0M178.4 529.4h0M148.0 507.3h0M166.0 515.1h0M164.4 509.9h0M156.5 505.8h0M174.9 518.1h0M156.4 501.9h0M215.5 516.8h0M209.8 498.2h0M187.2 513.4h0M179.4 507.1h0M191.0 494.6h0M158.4 494.8h0M135.0 507.3h0M176.1 511.4h0M168.8 493.5h0M172.3 491.6h0M210.1 520.5h0M146.3 501.2h0M172.7 512.4h0M143.8 523.4h0M164.9 512.4h0M145.3 507.0h0M150.2 508.4h0M156.9 503.7h0M159.3 515.3h0M151.8 507.0h0M169.5 510.7h0M140.4 501.0h0M185.7 506.9h0M166.1 507.0h0M172.8 511.4h0M203.5 504.8h0M181.4 507.4h0M166.3 511.5h0M147.2 501.9h0M123.1 507.8h0M121.6 500.4h0M177.7 517.0h0M166.9 490.1h0M168.3 497.4h0M186.3 505.8h0M160.7 487.3h0M169.7 507.6h0M168.1 496.8h0M166.7 502.0h0M157.2 509.9h0M155.6 526.9h0M155.7 499.2h0M147.1 501.5h0M212.4 523.8h0M174.0 504.3h0M177.0 516.1h0M158.3 520.1h0M212.0 496.6h0M188.6 497.9h0M145.5 519.0h0M160.5 508.9h0M143.3 516.1h0M157.5 515.9h0M170.7 493.5h0M134.7 524.1h0M175.7 509.9h0M150.0 520.8h0M137.9 510.1h0M173.1 488.8h0M172.6 497.9h0M173.3 494.9h0M157.9 504.9h0M155.4 513.0h0M163.8 498.5h0M178.0 497.6h0M177.9 503.8h0M176.8 515.2h0M176.4 501.9h0M150.0 505.6h0M160.2 511.4h0M130.9 507.4h0M176.2 512.8h0M173.0 506.3h0M172.3 492.2h0M150.9 501.1h0M199.9 507.2h0M140.0 512.7h0M163.8 501.7h0M157.2 487.9h0M144.3 516.4h0M159.6 504.9h0M175.7 512.6h0M163.0 509.7h0M170.4 480.1h0M175.0 497.1h0M155.2 520.7h0M170.2 500.0h0M148.1 516.5h0M142.9 487.0h0M185.9 523.2h0M189.1 516.5h0M163.7 520.4h0M196.3 495.4h0M139.8 507.0h0M152.9 501.3h0M145.0 507.6h0M174.1 513.3h0M116.3 501.7h0M177.7 518.1h0M155.7 502.6h0M177.2 506.6h0M170.8 509.6h0M167.9 511.6h0M149.1 507.1h0M181.2 481.4h0M156.8 511.2h0M176.1 505.4h0M171.6 488.3h0M149.9 499.8h0M165.9 511.6h0M190.4 497.0h0M176.9 507.0h0M155.4 506.6h0M179.7 523.0h0M148.1 514.0h0M173.1 503.7h0M195.6 509.0h0M184.7 485.8h0M159.4 507.7h0M184.3 517.8h0M154.6 493.5h0M183.3 514.4h0M180.5 498.0h0M185.5 515.9h0M148.9 505.8h0M174.7 506.4h0M170.1 507.8h0M164.8 504.0h0M144.0 522.7h0M127.3 498.1h0M162.6 507.8h0M194.6 491.7h0M169.3 497.3h0M157.3 515.4h0M183.6 521.6h0M164.3 512.3h0M137.6 521.8h0M155.6 506.5h0M192.6 498.4h0M158.1 496.0h0M151.1 514.9h0M165.3 500.1h0M134.0 482.4h0M118.4 509.8h0M133.1 506.4h0M178.9 482.2h0M135.0 519.6h0M143.1 503.3h0M149.4 499.3h0M162.0 506.7h0M148.9 502.9h0M190.0 488.3h0M132.8 505.0h0M196.3 502.0h0M151.9 500.8h0M155.0 529.3h0M158.2 504.8h0M160.6 493.1h0M138.7 498.4h0M154.9 499.2h0M180.8 516.6h0M163.5 498.9h0M158.2 510.9h0M117.4 497.7h0M171.7 499.1h0M141.2 511.1h0M190.2 506.7h0M179.2 504.2h0M154.6 505.9h0M208.4 519.6h0M141.9 526.8h0M184.8 480.5h0M186.4 496.2h0M157.6 514.1h0M159.5 488.1h0M160.4 505.3h0M175.3 521.3h0M171.6 506.2h0M147.9 514.8h0M151.3 509.4h0M184.7 491.0h0M163.2 509.6h0M140.0 511.4h0M171.9 515.1h0M135.5 507.2h0M150.4 506.0h0M158.1 504.3h0M164.1 513.2h0M153.5 489.1h0M208.9 509.3h0M156.6 518.8h0M192.8 505.7h0M205.4 515.7h0M153.8 499.4h0M184.3 510.6h0M195.9 505.5h0M165.9 513.6h0M179.9 521.9h0M141.5 507.8h0M178.3 504.2h0M130.6 501.1h0M169.2 498.3h0M166.8 483.1h0M157.0 503.3h0M154.7 513.7h0M170.4 496.3h0M170.8 495.4h0M165.4 510.2h0M163.6 512.5h0M209.7 519.9h0M149.8 502.0h0M169.3 499.9h0M158.1 504.5h0M187.2 502.4h0M130.2 492.8h0M131.4 513.7h0M157.5 513.4h0M141.2 506.5h0M183.4 522.9h0M152.3 521.3h0M150.5 490.4h0M141.9 505.4h0M142.2 510.7h0M166.9 523.1h0M146.9 503.7h0M208.8 517.4h0M149.0 512.0h0M192.3 495.2h0M143.3 501.1h0M176.8 526.8h0M142.0 505.4h0M142.9 509.4h0M152.2 516.6h0M172.8 497.8h0M151.5 501.3h0M155.9 506.5h0M161.7 493.6h0M178.1 505.3h0M154.9 503.5h0M174.5 509.8h0M139.9 507.7h0M151.4 514.0h0M151.7 514.5h0M153.5 522.2h0M150.7 503.7h0M149.1 518.7h0M133.9 507.3h0M192.4 505.9h0M193.4 502.2h0M169.6 507.8h0M158.3 519.8h0M125.2 501.0h0M167.2 512.3h0M165.5 490.0h0M184.0 516.4h0M147.9 509.4h0M167.1 507.4h0M142.4 498.8h0M147.1 518.2h0M156.8 508.5h0M158.1 505.0h0M162.1 507.6h0M173.0 498.6h0M202.6 520.5h0M206.8 522.8h0M193.2 526.7h0M156.3 517.4h0M170.4 518.0h0M182.1 528.4h0M173.2 494.7h0M181.9 508.1h0M186.5 510.4h0M162.0 500.3h0M155.6 523.2h0M160.6 492.3h0M145.8 498.5h0M150.7 507.1h0M177.0 496.9h0M142.5 500.1h0M155.3 505.3h0M132.7 502.4h0M174.8 509.3h0M164.8 517.0h0M165.8 535.0h0M181.3 515.8h0M173.4 484.0h0M148.3 485.3h0M170.8 511.3h0M139.1 515.1h0M164.2 517.4h0M170.1 505.4h0M170.6 501.6h0M158.8 499.7h0M168.8 499.4h0M196.2 496.4h0M157.7 505.3h0M187.0 491.6h0M144.9 513.0h0M174.9 507.3h0M157.6 498.5h0M148.5 489.0h0M136.0 514.3h0M130.0 534.3h0M139.8 527.2h0M158.3 504.6h0M137.5 509.4h0M143.2 494.1h0M174.4 518.1h0M154.4 502.4h0M179.0 500.4h0M145.3 524.6h0M177.2 508.9h0M161.1 503.7h0M163.1 513.8h0M140.9 512.1h0M196.8 503.6h0M195.9 493.7h0M173.8 500.8h0M160.5 514.1h0M165.3 518.1h0M183.9 486.3h0M168.2 523.6h0M128.3 501.9h0M173.8 516.1h0M192.8 510.6h0M173.0 490.1h0M186.9 509.4h0M136.1 512.6h0M161.1 491.6h0M132.3 497.7h0M179.9 522.0h0M191.3 490.1h0M180.5 499.8h0M163.0 498.6h0M178.5 526.9h0M140.1 512.9h0M166.1 499.1h0M137.3 507.9h0M149.2 502.7h0M141.7 517.3h0M164.4 499.7h0M149.4 501.1h0M153.1 500.4h0M152.3 503.4h0M144.8 491.9h0M154.9 518.3h0M187.8 513.0h0M201.1 499.3h0M154.2 513.3h0M181.2 501.8h0M155.0 417.9h0M173.3 430.6h0M168.9 451.0h0M188.1 454.3h0M173.3 455.7h0M173.9 459.9h0M144.6 464.6h0M140.8 472.6h0M151.1 469.0h0M153.2 475.6h0M165.9 471.1h0M165.9 463.7h0M163.0 465.2h0M121.6 478.5h0M191.7 474.1h0M190.5 480.0h0M214.7 472.6h0M213.3 482.4h0M212.4 476.4h0M235.4 471.7h0M225.4 476.4h0M235.4 495.7h0M240.8 507.2h0M263.5 504.2h0M255.6 524.4h0M228.9 509.0h0M222.4 525.0h0M218.6 517.9h0M216.2 514.9h0M206.4 533.2h0M199.3 544.5h0M188.1 539.2h0M65.9 506.6h0M87.5 506.6h0M96.4 509.6h0M99.4 497.2h0M103.8 496.3h0M109.7 492.4h0M110.6 496.6h0M92.9 540.0h0M97.3 533.2h0M106.8 527.3h0M105.9 563.7h0M114.2 551.9h0M124.5 540.6h0M126.9 550.4h0M130.4 555.4h0M137.8 537.7h0M140.2 542.1h0M140.8 556.9h0M140.8 562.8h0M157.1 538.6h0M155.0 555.4h0M159.1 551.0h0M165.9 553.3h0M168.9 556.9h0M170.4 567.3h0M171.2 569.3h0M155.0 580.0h0M157.1 587.4h0M160.9 578.2h0M120.1 497.7h0M117.7 494.8h0M127.5 487.4h0" stroke="#1f77b4" stroke-width="2.6" stroke-linecap="round" fill="none"/>
<path d="M55.50 505.90H272.60M164.45 409.60V595.40" stroke="#919191" stroke-opacity="0.67" stroke-width="1.6" fill="none"/>
</g>
<rect x="55.50" y="409.60" width="217.10" height="185.80" fill="none" stroke="#505050" stroke-width="1.4"/>
<path d="M65.27 595.40v-1.90M65.27 409.60v1.90M76.29 595.40v-3.00M76.29 409.60v3.00M87.31 595.40v-1.90M87.31 409.60v1.90M98.33 595.40v-1.90M98.33 409.60v1.90M109.35 595.40v-1.90M109.35 409.60v1.90M120.37 595.40v-3.00M120.37 409.60v3.00M131.39 595.40v-1.90M131.39 409.60v1.90M142.41 595.40v-1.90M142.41 409.60v1.90M153.43 595.40v-1.90M153.43 409.60v1.90M164.45 595.40v-3.00M164.45 409.60v3.00M175.47 595.40v-1.90M175.47 409.60v1.90M186.49 595.40v-1.90M186.49 409.60v1.90M197.51 595.40v-1.90M197.51 409.60v1.90M208.53 595.40v-3.00M208.53 409.60v3.00M219.55 595.40v-1.90M219.55 409.60v1.90M230.57 595.40v-1.90M230.57 409.60v1.90M241.59 595.40v-1.90M241.59 409.60v1.90M252.61 595.40v-3.00M252.61 409.60v3.00M263.63 595.40v-1.90M263.63 409.60v1.90M55.50 591.87h1.90M272.60 591.87h-1.90M55.50 584.05h1.90M272.60 584.05h-1.90M55.50 576.24h1.90M272.60 576.24h-1.90M55.50 568.42h3.00M272.60 568.42h-3.00M55.50 560.61h1.90M272.60 560.61h-1.90M55.50 552.79h1.90M272.60 552.79h-1.90M55.50 544.98h1.90M272.60 544.98h-1.90M55.50 537.16h3.00M272.60 537.16h-3.00M55.50 529.35h1.90M272.60 529.35h-1.90M55.50 521.53h1.90M272.60 521.53h-1.90M55.50 513.72h1.90M272.60 513.72h-1.90M55.50 505.90h3.00M272.60 505.90h-3.00M55.50 498.08h1.90M272.60 498.08h-1.90M55.50 490.27h1.90M272.60 490.27h-1.90M55.50 482.45h1.90M272.60 482.45h-1.90M55.50 474.64h3.00M272.60 474.64h-3.00M55.50 466.82h1.90M272.60 466.82h-1.90M55.50 459.01h1.90M272.60 459.01h-1.90M55.50 451.19h1.90M272.60 451.19h-1.90M55.50 443.38h3.00M272.60 443.38h-3.00M55.50 435.56h1.90M272.60 435.56h-1.90M55.50 427.75h1.90M272.60 427.75h-1.90M55.50 419.93h1.90M272.60 419.93h-1.90M55.50 412.12h3.00M272.60 412.12h-3.00" stroke="#505050" stroke-width="1.0" fill="none"/>
<clipPath id="c21"><rect x="299.60" y="409.60" width="217.20" height="185.80"/></clipPath>
<g clip-path="url(#c21)">
<path d="M441.5 497.2h0M399.0 492.5h0M412.7 507.4h0M389.3 509.6h0M420.0 513.9h0M408.4 507.4h0M413.6 505.5h0M412.5 495.7h0M395.2 497.6h0M367.8 505.1h0M395.3 521.7h0M426.7 511.2h0M388.4 501.4h0M418.2 501.7h0M409.9 515.8h0M401.7 505.2h0M431.3 506.6h0M411.8 501.4h0M400.6 511.4h0M419.7 506.6h0M406.3 515.7h0M410.0 498.1h0M393.0 508.4h0M354.6 503.6h0M408.3 508.6h0M417.2 508.6h0M398.8 515.0h0M437.0 507.2h0M421.0 500.4h0M363.2 504.6h0M414.9 498.1h0M407.5 507.0h0M446.2 516.8h0M405.0 506.4h0M399.6 507.6h0M408.4 503.9h0M431.3 495.1h0M397.5 506.7h0M387.5 501.5h0M389.1 517.1h0M426.6 506.5h0M411.5 517.3h0M411.7 512.4h0M410.9 500.9h0M397.8 508.6h0M428.8 518.3h0M402.7 506.1h0M368.5 506.2h0M427.8 502.6h0M411.6 515.4h0M379.2 512.8h0M351.9 506.4h0M395.9 511.6h0M402.6 503.2h0M429.1 498.3h0M426.5 494.2h0M378.2 507.3h0M385.4 507.2h0M415.9 499.4h0M428.1 508.2h0M396.1 501.4h0M401.8 518.1h0M383.7 505.6h0M415.5 509.5h0M379.1 501.0h0M383.1 508.8h0M418.1 507.1h0M410.0 525.4h0M406.5 520.7h0M386.3 493.8h0M412.7 502.6h0M391.0 496.6h0M398.4 516.5h0M395.9 488.8h0M425.0 498.0h0M388.2 511.8h0M405.5 512.1h0M416.9 504.5h0M390.2 507.3h0M395.4 509.9h0M395.0 500.0h0M400.9 505.8h0M424.7 516.9h0M430.5 504.5h0M410.7 507.9h0M438.1 512.9h0M411.3 502.1h0M420.5 501.4h0M423.8 510.3h0M393.5 486.4h0M452.3 506.1h0M427.4 503.3h0M404.5 486.7h0M420.2 501.1h0M400.2 496.5h0M415.5 520.7h0M367.3 501.2h0M423.0 501.7h0M406.8 513.4h0M382.5 504.5h0M443.1 508.7h0M393.8 500.9h0M466.2 507.0h0M396.4 511.1h0M407.7 523.6h0M403.7 506.5h0M411.6 517.7h0M374.0 505.7h0M413.6 487.1h0M394.1 511.9h0M404.8 497.8h0M426.1 508.1h0M428.2 503.6h0M423.0 502.1h0M428.3 507.8h0M401.7 507.2h0M426.0 512.1h0M431.3 504.5h0M447.1 504.6h0M407.1 512.9h0M400.7 503.4h0M425.4 510.3h0M361.9 502.5h0M366.2 502.1h0M397.6 508.4h0M404.3 507.4h0M387.3 496.3h0M429.4 510.7h0M418.0 513.2h0M415.1 501.4h0M405.5 511.5h0M403.7 494.9h0M421.5 505.5h0M407.5 533.2h0M414.6 512.2h0M400.7 505.0h0M426.7 496.1h0M405.5 515.0h0M406.6 512.8h0M415.3 507.9h0M432.2 506.1h0M382.2 499.3h0M436.1 510.5h0M390.8 505.9h0M379.2 514.2h0M416.7 505.1h0M402.1 501.8h0M405.5 489.3h0M404.1 531.0h0M386.1 504.1h0M435.1 507.3h0M409.4 488.3h0M422.8 517.9h0M378.5 511.0h0M390.0 511.2h0M439.6 500.1h0M408.2 496.3h0M405.9 506.5h0M444.9 507.3h0M450.1 505.5h0M375.6 493.2h0M377.4 512.0h0M406.4 504.0h0M399.5 505.3h0M380.3 498.3h0M387.5 509.1h0M406.4 492.5h0M419.7 511.5h0M398.5 511.3h0M416.5 510.8h0M381.9 501.5h0M395.6 497.3h0M426.3 511.8h0M435.2 508.1h0M407.3 504.1h0M388.9 506.3h0M438.6 512.0h0M394.5 510.3h0M417.5 509.9h0M379.4 503.9h0M391.4 505.5h0M405.1 509.8h0M442.0 511.8h0M397.9 509.0h0M387.9 508.7h0M374.1 496.9h0M389.7 495.0h0M424.8 506.5h0M388.0 506.8h0M414.2 515.0h0M423.8 503.6h0M409.5 487.8h0M409.8 511.9h0M408.6 521.0h0M401.6 513.6h0M404.9 495.3h0M436.9 496.0h0M415.8 489.9h0M399.9 509.4h0M417.7 510.4h0M369.3 508.6h0M414.7 498.7h0M407.1 498.7h0M364.5 506.2h0M411.7 499.9h0M424.6 496.4h0M410.0 503.0h0M411.4 510.3h0M403.6 494.6h0M403.8 499.9h0M416.2 499.8h0M394.4 510.5h0M425.3 493.8h0M386.4 512.8h0M415.1 512.4h0M422.9 507.7h0M423.8 499.8h0M425.8 495.5h0M386.8 509.9h0M376.2 498.2h0M418.9 502.1h0M419.8 509.1h0M399.9 507.0h0M418.6 496.6h0M394.4 508.6h0M403.3 504.0h0M389.5 501.5h0M390.1 522.5h0M390.4 506.2h0M413.7 504.0h0M397.3 509.2h0M454.3 503.8h0M385.3 518.7h0M414.7 527.3h0M392.6 506.1h0M399.4 525.2h0M393.4 491.2h0M399.5 497.6h0M422.1 505.9h0M416.0 497.7h0M405.6 500.5h0M381.8 501.1h0M407.6 483.8h0M388.7 508.3h0M414.7 491.9h0M433.2 510.8h0M427.1 505.0h0M388.2 509.0h0M431.3 503.6h0M447.1 506.3h0M425.9 511.3h0M420.3 502.0h0M404.4 510.2h0M392.8 507.3h0M414.7 513.4h0M407.1 504.5h0M407.8 500.6h0M429.4 512.5h0M369.8 506.3h0M421.8 503.0h0M417.5 503.0h0M417.0 505.7h0M442.0 507.1h0M437.2 502.4h0M417.1 503.2h0M402.0 504.2h0M409.0 518.6h0M403.4 479.1h0M388.0 494.2h0M384.6 503.2h0M407.2 513.0h0M388.3 504.4h0M424.4 506.5h0M412.2 514.3h0M415.8 504.1h0M412.9 510.3h0M403.3 516.6h0M416.0 501.9h0M398.1 521.9h0M396.4 496.7h0M413.6 531.6h0M431.3 507.5h0M395.3 514.2h0M435.2 502.9h0M392.4 510.2h0M419.2 497.1h0M420.0 506.4h0M409.9 507.4h0M411.5 508.5h0M415.3 495.5h0M398.7 514.7h0M411.7 496.9h0M425.4 511.3h0M433.4 504.6h0M428.9 498.8h0M421.8 505.4h0M431.2 513.4h0M384.6 501.1h0M388.4 506.1h0M378.0 498.7h0M404.7 508.9h0M384.3 490.4h0M409.8 495.4h0M409.7 503.9h0M373.3 514.9h0M399.0 493.7h0M422.4 507.7h0M415.5 507.4h0M402.9 505.2h0M431.6 506.4h0M394.8 513.4h0M407.4 483.5h0M383.1 496.0h0M419.3 514.6h0M403.1 494.7h0M412.1 502.1h0M412.5 502.6h0M391.3 505.0h0M405.7 503.2h0M454.6 508.4h0M428.1 509.5h0M438.0 506.2h0M407.3 505.4h0M408.8 503.3h0M392.9 516.4h0M404.5 503.6h0M424.0 497.1h0M450.1 506.6h0M462.0 504.2h0M345.2 509.8h0M402.3 500.5h0M399.9 507.9h0M389.1 503.2h0M399.6 502.0h0M406.2 506.1h0M438.5 502.5h0M398.7 506.6h0M406.6 501.1h0M448.6 503.2h0M405.7 510.2h0M406.5 503.5h0M400.1 505.6h0M416.1 502.0h0M439.6 509.2h0M438.5 496.8h0M414.1 500.4h0M398.9 497.3h0M366.7 500.8h0M407.2 499.7h0M405.7 498.3h0M374.4 506.2h0M394.2 501.9h0M399.6 507.6h0M404.5 504.0h0M386.3 495.7h0M417.0 501.8h0M408.8 499.4h0M408.9 497.9h0M404.0 497.8h0M445.3 508.5h0M434.8 504.1h0M433.8 515.0h0M407.2 501.1h0M436.9 511.7h0M422.7 515.6h0M436.4 508.6h0M385.0 506.9h0M412.1 502.1h0M441.6 512.9h0M413.3 499.9h0M399.9 485.0h0M409.4 508.1h0M420.2 503.1h0M410.0 487.1h0M406.8 509.6h0M417.0 513.2h0M427.4 504.6h0M404.1 504.1h0M398.1 506.3h0M445.9 506.2h0M398.6 499.9h0M409.9 505.4h0M404.6 493.6h0M403.5 495.8h0M376.0 507.1h0M406.1 506.7h0M428.3 500.6h0M414.4 512.9h0M417.2 494.9h0M418.6 498.2h0M433.7 503.8h0M394.1 508.2h0M379.7 505.7h0M400.9 522.9h0M381.5 516.1h0M416.2 507.0h0M422.6 509.8h0M448.9 503.0h0M382.5 503.0h0M405.4 498.1h0M394.4 503.0h0M397.1 509.8h0M429.5 501.5h0M407.1 508.4h0M398.5 511.7h0M388.5 515.9h0M405.0 506.9h0M426.5 509.2h0M409.5 496.1h0M406.7 532.4h0M431.0 507.7h0M386.6 494.2h0M404.4 507.4h0M421.8 501.5h0M405.1 515.3h0M432.8 497.1h0M396.1 506.2h0M394.4 515.8h0M403.6 503.8h0M400.5 508.9h0M458.5 512.4h0M402.3 525.1h0M393.7 513.0h0M398.1 507.1h0M423.0 507.4h0M383.0 508.5h0M402.1 519.6h0M414.9 496.2h0M469.0 502.5h0M395.7 513.0h0M417.0 510.4h0M437.0 512.5h0M386.3 519.8h0M408.6 512.6h0M391.0 509.1h0M371.1 505.1h0M384.2 501.9h0M381.4 498.7h0M397.1 496.2h0M392.7 507.5h0M395.8 512.0h0M403.1 503.1h0M417.1 513.5h0M362.9 500.2h0M410.0 497.8h0M423.6 515.4h0M429.9 499.0h0M415.7 505.0h0M406.0 521.6h0M407.5 516.2h0M407.6 514.7h0M408.8 500.8h0M395.7 494.2h0M404.0 496.9h0M366.9 502.7h0M409.9 524.5h0M421.8 512.0h0M400.3 501.6h0M407.2 500.6h0M416.2 505.3h0M401.1 498.1h0M432.4 508.3h0M430.9 504.1h0M381.0 508.7h0M421.9 506.8h0M400.9 514.3h0M409.7 484.0h0M431.6 506.3h0M409.1 485.9h0M387.1 503.2h0M434.7 494.9h0M395.4 512.3h0M405.2 509.9h0M429.9 502.7h0M435.5 507.0h0M387.5 511.3h0M380.0 509.3h0M412.0 505.1h0M406.4 501.1h0M390.4 509.0h0M443.7 507.3h0M404.3 499.4h0M386.0 501.8h0M385.3 515.6h0M401.5 507.8h0M414.4 508.4h0M420.7 502.9h0M411.1 517.0h0M403.3 500.5h0M432.1 513.7h0M422.4 509.7h0M406.5 519.6h0M396.1 499.7h0M401.2 512.7h0M405.3 500.9h0M432.3 511.6h0M402.9 499.1h0M405.6 500.5h0M358.6 501.2h0M410.0 497.5h0M382.2 509.0h0M388.3 506.3h0M369.0 510.0h0M425.0 516.6h0M426.6 507.1h0M407.0 504.9h0M344.8 505.8h0M400.4 508.8h0M396.9 503.1h0M418.9 498.0h0M372.1 505.7h0M405.0 504.3h0M399.9 501.9h0M422.1 504.1h0M389.4 512.2h0M426.5 511.8h0M393.0 505.9h0M389.5 510.2h0M402.5 517.2h0M389.9 510.4h0M405.0 526.7h0M421.0 508.9h0M392.5 517.6h0M411.1 499.8h0M393.0 515.5h0M417.9 514.6h0M365.1 513.2h0M421.0 503.1h0M412.1 512.4h0M388.9 504.3h0M408.4 494.8h0M403.2 508.8h0M384.8 505.8h0M456.3 515.3h0M402.3 503.6h0M415.6 502.9h0M399.1 517.1h0M422.3 502.6h0M391.1 513.7h0M374.5 508.6h0M387.0 510.4h0M402.9 500.9h0M396.9 502.4h0M417.2 506.8h0M416.0 503.4h0M401.6 494.1h0M436.1 499.6h0M437.3 507.9h0M399.9 506.2h0M386.9 498.5h0M420.8 506.9h0M376.2 507.3h0M389.1 502.1h0M424.5 494.0h0M398.8 503.3h0M415.7 510.8h0M425.8 503.7h0M402.7 510.5h0M379.2 503.3h0M382.9 508.3h0M426.4 508.1h0M399.7 481.2h0M425.5 518.1h0M423.8 499.5h0M401.1 503.4h0M412.1 507.3h0M434.6 503.9h0M408.3 492.5h0M392.0 506.0h0M401.8 502.7h0M416.8 507.4h0M429.7 500.3h0M421.1 513.5h0M429.2 505.9h0M396.1 510.2h0M437.7 506.5h0M419.5 521.5h0M392.7 498.6h0M366.1 505.0h0M411.7 501.3h0M385.4 506.8h0M448.1 504.0h0M408.9 513.7h0M440.7 511.8h0M402.6 501.2h0M442.7 511.4h0M396.1 503.1h0M414.6 480.2h0M347.5 507.5h0M410.3 507.6h0M411.4 512.5h0M426.0 513.8h0M442.1 506.1h0M399.3 507.5h0M405.1 502.6h0M411.4 498.6h0M385.6 501.6h0M440.9 501.9h0M412.4 492.7h0M394.7 517.6h0M401.4 493.9h0M396.4 504.9h0M405.8 500.3h0M374.4 509.8h0M381.0 493.5h0M409.1 503.2h0M443.0 505.0h0M395.0 508.9h0M409.0 509.5h0M374.5 510.5h0M390.6 499.8h0M372.1 505.1h0M413.8 493.5h0M402.0 501.1h0M415.8 504.1h0M409.0 515.3h0M407.3 510.3h0M392.2 509.1h0M386.2 507.8h0M417.2 508.2h0M385.3 500.9h0M391.5 502.5h0M429.1 512.2h0M392.3 511.6h0M379.8 498.2h0M393.3 490.5h0M406.5 507.6h0M425.4 500.5h0M392.4 512.2h0M406.5 506.1h0M393.5 502.8h0M430.0 503.7h0M403.5 501.4h0M410.0 532.7h0M401.0 501.0h0M389.3 510.7h0M408.3 510.5h0M406.4 501.8h0M392.2 498.3h0M421.7 512.5h0M425.0 509.9h0M405.0 507.7h0M429.9 507.7h0M427.9 501.0h0M384.8 505.8h0M412.1 516.4h0M448.1 508.6h0M412.9 514.3h0M424.8 513.9h0M421.6 502.7h0M415.6 505.6h0M427.1 505.4h0M390.1 494.3h0M396.6 509.6h0M410.4 518.0h0M387.3 500.8h0M437.7 511.2h0M423.3 503.8h0M423.0 496.8h0M418.2 507.3h0M399.1 507.6h0M408.5 505.9h0M401.6 492.2h0M366.6 504.1h0M396.0 504.8h0M394.6 510.1h0M436.0 508.0h0M382.7 514.7h0M395.3 506.6h0M398.2 502.8h0M405.9 510.8h0M402.7 488.8h0M416.6 507.4h0M396.8 499.8h0M408.6 513.9h0M398.5 510.2h0M387.6 504.3h0M399.8 515.5h0M391.3 513.6h0M427.2 510.0h0M402.7 493.1h0M440.1 512.5h0M413.8 499.9h0M427.5 507.8h0M443.2 516.1h0M417.6 501.2h0M389.4 501.0h0M400.5 498.8h0M403.4 511.1h0M412.4 506.5h0M412.6 514.4h0M369.6 507.4h0M424.2 521.3h0M415.1 503.2h0M412.1 509.8h0M382.9 502.1h0M434.3 500.3h0M392.9 517.3h0M465.3 504.8h0M412.6 513.8h0M380.4 505.6h0M407.4 492.0h0M419.7 502.6h0M406.4 504.2h0M379.3 515.1h0M391.0 506.6h0M385.5 504.7h0M403.2 506.9h0M383.2 514.5h0M424.0 490.0h0M407.8 509.8h0M414.3 508.4h0M383.5 509.0h0M373.4 510.7h0M384.6 503.4h0M379.5 508.2h0M426.7 510.1h0M420.4 518.0h0M409.2 503.3h0M416.5 497.5h0M407.0 514.3h0M395.8 506.6h0M395.5 507.4h0M392.3 503.3h0M411.3 500.1h0M442.5 507.5h0M399.1 507.6h0M409.3 503.6h0M420.5 526.7h0M443.2 504.9h0M424.9 503.1h0M443.4 505.5h0M402.1 502.9h0M387.2 507.9h0M416.7 503.9h0M397.3 506.7h0M399.0 516.9h0M413.4 504.3h0M409.4 508.4h0M389.0 504.7h0M390.3 504.9h0M415.4 512.6h0M424.3 515.9h0M434.7 521.8h0M401.9 516.0h0M423.4 512.9h0M404.8 508.8h0M387.8 499.2h0M376.2 519.8h0M402.7 506.0h0M413.8 494.6h0M388.1 513.1h0M395.3 500.5h0M428.8 495.6h0M394.4 509.7h0M409.5 511.4h0M415.0 507.3h0M389.2 510.1h0M409.8 497.8h0M385.5 490.3h0M395.4 505.2h0M408.2 519.8h0M395.7 509.1h0M459.9 505.7h0M424.8 505.9h0M397.5 494.5h0M395.7 511.9h0M401.9 527.1h0M404.1 508.2h0M375.1 505.6h0M401.5 510.0h0M422.9 504.3h0M413.1 507.0h0M422.0 495.0h0M418.7 507.6h0M407.5 510.1h0M389.1 495.0h0M413.1 499.4h0M402.4 497.2h0M388.2 503.1h0M399.6 507.2h0M417.4 489.1h0M437.0 508.9h0M397.3 490.5h0M405.5 507.2h0M412.0 510.5h0M424.3 491.0h0M414.0 512.4h0M416.0 497.5h0M411.8 503.5h0M382.9 506.8h0M453.3 503.8h0M423.5 502.8h0M436.0 504.1h0M390.4 508.0h0M394.5 501.6h0M392.8 509.3h0M379.9 512.5h0M410.8 506.0h0M405.5 502.7h0M422.4 495.3h0M420.6 502.1h0M389.3 508.8h0M413.6 507.8h0M410.6 492.6h0M421.4 520.5h0M396.6 503.3h0M395.1 512.2h0M411.9 500.0h0M377.9 505.7h0M440.2 500.7h0M417.0 496.2h0M417.9 502.4h0M422.9 512.5h0M397.7 523.8h0M440.9 507.2h0M407.1 498.8h0M460.5 508.3h0M420.1 509.0h0M405.7 502.0h0M432.0 505.2h0M385.0 508.3h0M393.5 510.0h0M382.1 510.1h0M410.1 508.2h0M404.0 497.0h0M418.6 501.4h0M426.0 505.8h0M388.1 505.6h0M389.2 498.9h0M360.4 509.5h0M415.5 499.0h0M413.0 503.8h0M373.7 510.2h0M410.5 502.5h0M416.1 517.9h0M412.3 500.9h0M371.9 502.4h0M375.7 499.0h0M410.8 508.7h0M411.6 498.2h0M377.7 504.7h0M437.8 507.5h0M393.7 507.8h0M467.6 505.3h0M441.2 518.8h0M397.1 507.6h0M414.5 510.1h0M428.6 506.9h0M405.7 510.4h0M390.7 522.6h0M400.0 521.5h0M391.9 498.7h0M419.8 505.1h0M392.1 496.5h0M416.5 504.2h0M410.7 492.8h0M403.5 503.6h0M400.6 509.0h0M422.5 511.2h0M417.7 517.5h0M403.4 496.6h0M361.5 508.0h0M408.9 514.2h0M396.9 503.2h0M413.4 505.0h0M397.2 505.3h0M426.8 528.3h0M423.3 509.6h0M427.7 504.2h0M387.9 509.7h0M405.9 523.5h0M400.5 509.8h0M401.1 498.0h0M423.8 513.4h0M442.7 505.0h0M418.9 515.3h0M410.7 516.7h0M404.5 499.1h0M393.3 511.8h0M434.4 503.4h0M403.7 502.6h0M404.5 504.7h0M403.8 501.9h0M409.7 499.8h0M392.3 510.2h0M462.8 507.0h0M401.7 487.0h0M433.0 495.3h0M402.6 498.8h0M418.2 519.4h0M400.1 503.2h0M428.2 492.9h0M382.0 493.9h0M369.8 509.3h0M400.7 493.4h0M408.4 497.7h0M397.7 497.9h0M440.0 507.6h0M407.9 511.1h0M392.0 501.1h0M401.0 519.4h0M404.3 515.4h0M433.7 511.7h0M365.7 502.1h0M421.1 496.5h0M413.0 501.2h0M401.6 509.7h0M388.8 510.6h0M404.4 493.2h0M397.3 502.2h0M404.8 497.1h0M386.3 499.4h0M366.8 500.1h0M415.2 517.4h0M377.0 512.5h0M398.0 508.6h0M401.4 520.4h0M415.9 494.4h0M392.3 502.3h0M401.0 486.9h0M432.8 516.4h0M421.2 499.4h0M405.1 502.9h0M412.5 512.6h0M403.1 495.2h0M404.8 494.4h0M408.9 499.6h0M416.2 515.6h0M387.3 510.0h0M422.6 498.1h0M413.8 513.1h0M427.6 497.6h0M431.4 503.7h0M382.0 513.5h0M436.7 511.6h0M411.7 520.1h0M452.1 500.5h0M389.1 496.8h0M417.9 496.9h0M403.9 506.8h0M409.2 517.3h0M408.7 531.3h0M426.5 495.1h0M380.2 497.5h0M411.7 507.0h0M411.8 510.7h0M392.2 504.8h0M402.5 507.7h0M408.7 503.6h0M415.0 512.1h0M424.0 498.9h0M392.1 510.1h0M374.9 509.2h0M415.8 497.9h0M400.1 505.0h0M424.7 512.2h0M403.5 507.8h0M393.0 510.6h0M425.8 504.3h0M418.3 510.8h0M399.0 502.5h0M420.1 525.4h0M385.4 497.0h0M455.0 516.4h0M350.0 506.8h0M415.0 511.7h0M419.7 508.5h0M372.8 503.5h0M405.0 502.2h0M404.1 500.2h0M376.9 506.0h0M426.0 499.0h0M410.3 498.1h0M391.3 510.2h0M453.8 509.3h0M412.8 506.2h0M426.9 509.8h0M452.5 507.8h0M401.3 499.1h0M413.5 488.6h0M426.4 510.9h0M404.7 505.0h0M382.4 503.3h0M418.8 508.9h0M404.7 492.1h0M436.5 507.4h0M435.7 497.3h0M399.8 520.1h0M406.4 498.8h0M411.1 510.3h0M371.9 492.8h0M389.6 500.2h0M368.1 507.5h0M432.6 509.1h0M402.5 508.1h0M393.7 495.9h0M394.1 507.4h0M456.5 506.9h0M397.4 488.3h0M420.7 514.1h0M401.9 515.0h0M394.6 507.0h0M415.6 518.4h0M429.4 521.2h0M407.6 511.1h0M412.3 514.2h0M404.2 490.3h0M372.2 512.5h0M434.0 510.2h0M348.6 507.1h0M400.5 509.9h0M392.5 507.3h0M449.1 504.5h0M349.1 507.2h0M417.7 500.0h0M415.1 500.2h0M378.8 507.7h0M457.5 509.4h0M384.3 503.8h0M416.1 502.3h0M391.0 501.5h0M368.8 513.2h0M365.2 506.1h0M406.8 507.7h0M406.1 475.9h0M381.8 500.5h0M380.7 505.0h0M418.4 507.4h0M388.1 508.4h0M375.0 503.0h0M417.5 504.5h0M372.8 503.6h0M390.4 509.1h0M400.0 503.0h0M395.5 507.2h0M423.2 502.8h0M391.8 508.6h0M406.9 516.4h0M394.2 508.0h0M397.1 503.6h0M383.1 514.7h0M441.0 515.7h0M399.7 509.1h0M381.0 504.1h0M388.0 496.3h0M397.8 513.1h0M343.6 512.1h0M406.4 512.4h0M384.0 511.5h0M429.1 508.0h0M412.4 511.1h0M394.9 492.7h0M396.9 510.4h0M416.0 504.8h0M417.0 510.4h0M388.4 515.2h0M389.3 498.0h0M372.8 501.5h0M395.9 497.2h0M402.3 513.9h0M424.1 514.0h0M405.0 500.2h0M370.6 506.8h0M419.2 522.0h0M423.0 508.1h0M375.4 503.8h0M410.7 497.8h0M396.7 501.2h0M425.0 496.7h0M397.0 527.3h0M390.7 505.9h0M406.0 517.2h0M403.7 498.2h0M420.7 507.5h0M427.4 494.0h0M427.9 508.3h0M351.5 506.3h0M401.5 497.4h0M404.9 493.9h0M423.9 504.5h0M403.1 512.5h0M412.3 508.2h0M407.7 504.7h0M420.2 505.2h0M350.3 504.6h0M390.9 495.4h0M417.4 517.0h0M415.2 512.8h0M426.2 511.6h0M380.5 503.5h0M404.6 510.8h0M436.7 501.1h0M405.2 500.0h0M414.9 498.1h0M418.7 514.0h0M417.9 506.3h0M406.9 487.7h0M415.3 506.6h0M371.3 503.8h0M440.2 508.0h0M407.9 497.0h0M414.9 506.5h0M392.3 507.2h0M411.4 510.9h0M423.4 510.5h0M440.8 509.1h0M396.8 529.6h0M392.3 515.1h0M378.9 510.4h0M407.7 506.1h0M412.8 495.5h0M424.7 502.6h0M430.5 510.9h0M399.3 517.7h0M408.2 503.6h0M395.8 493.4h0M423.2 509.7h0M400.2 502.1h0M443.5 510.4h0M420.5 512.0h0M412.6 517.8h0M429.8 505.0h0M418.9 505.5h0M396.1 504.8h0M450.6 498.4h0M351.7 504.3h0M414.1 502.6h0M407.2 501.0h0M385.8 513.2h0M385.9 496.6h0M422.5 511.1h0M386.2 516.8h0M387.5 510.8h0M398.3 512.0h0M402.9 508.9h0M385.2 512.2h0M395.0 499.8h0M380.3 502.0h0M431.4 509.4h0M428.7 494.8h0M379.0 507.2h0M421.3 501.0h0M413.9 502.2h0M426.7 509.8h0M371.6 502.3h0M394.7 521.6h0M447.2 504.5h0M397.1 507.9h0M362.4 506.7h0M403.7 506.6h0M398.6 509.8h0M417.5 503.7h0M416.4 521.7h0M386.3 506.9h0M412.2 512.5h0M373.6 508.8h0M416.9 508.0h0M397.1 529.0h0M447.7 496.5h0M432.2 498.3h0M396.1 503.7h0M412.9 497.3h0M428.7 500.9h0M403.1 507.9h0M415.2 505.0h0M400.7 503.0h0M402.3 501.9h0M401.7 505.9h0M417.2 501.6h0M412.0 496.0h0M416.5 500.6h0M423.1 511.3h0M424.7 509.4h0M415.4 508.0h0M419.2 503.8h0M413.6 486.0h0M426.1 502.8h0M398.1 506.0h0M406.5 501.2h0M413.7 513.6h0M413.0 492.5h0M410.3 492.9h0M416.0 509.1h0M397.5 505.6h0M463.5 507.0h0M413.6 507.1h0M349.9 502.5h0M420.1 503.6h0M412.7 507.2h0M404.7 513.0h0M386.2 495.6h0M393.9 503.0h0M397.9 500.7h0M382.8 507.4h0M409.6 514.3h0M406.9 481.1h0M429.0 496.7h0M385.4 507.6h0M431.7 500.5h0M413.8 501.1h0M425.4 514.4h0M382.4 509.5h0M389.7 498.3h0M427.0 496.0h0M395.9 495.8h0M406.1 507.9h0M394.8 503.7h0M411.3 501.0h0M413.8 500.6h0M397.6 507.6h0M416.3 480.3h0M458.6 509.5h0M408.3 506.0h0M386.7 507.2h0M455.6 508.2h0M419.5 504.2h0M410.2 481.3h0M410.1 490.7h0M373.3 502.1h0M394.8 507.5h0M415.1 490.5h0M421.4 499.1h0M390.4 508.0h0M400.6 504.5h0M385.4 495.6h0M433.7 507.0h0M419.6 511.1h0M386.1 506.2h0M393.3 494.2h0M418.8 495.6h0M418.0 508.0h0M402.8 498.0h0M398.9 510.5h0M410.4 497.6h0M398.1 499.8h0M400.0 529.8h0M435.3 504.8h0M393.1 502.5h0M381.0 497.7h0M415.3 504.4h0M387.5 499.0h0M411.7 496.9h0M406.2 507.0h0M421.6 501.3h0M402.3 509.6h0M441.6 504.6h0M400.0 509.1h0M427.4 500.7h0M430.6 503.2h0M439.7 507.0h0M383.6 495.7h0M411.5 510.0h0M414.3 502.3h0M416.2 497.6h0M438.8 504.1h0M427.4 507.4h0M403.7 499.4h0M406.4 507.6h0M398.9 511.0h0M432.3 499.5h0M402.2 514.0h0M401.2 501.9h0M418.8 506.0h0M369.1 502.3h0M413.0 494.7h0M388.4 508.8h0M410.4 504.7h0M404.8 501.1h0M418.9 504.2h0M417.0 479.8h0M407.0 499.2h0M425.5 509.6h0M428.5 504.5h0M373.4 507.2h0M425.8 502.6h0M404.3 516.4h0M385.0 517.4h0M426.7 506.5h0M414.2 502.7h0M445.3 505.4h0M403.2 486.0h0M387.2 503.2h0M374.6 501.6h0M405.6 500.0h0M427.5 505.2h0M371.4 511.9h0M383.2 503.5h0M381.5 502.0h0M361.4 500.7h0M367.9 499.0h0M407.7 505.7h0M396.9 508.7h0M412.2 501.8h0M401.9 495.0h0M405.4 524.6h0M413.8 493.0h0M419.3 494.4h0M438.3 508.4h0M384.0 504.6h0M398.2 508.5h0M418.6 504.9h0M406.7 506.6h0M431.2 517.8h0M419.0 512.9h0M398.9 518.2h0M414.7 513.9h0M373.0 506.6h0M418.5 499.5h0M402.7 503.0h0M402.6 502.2h0M387.8 508.5h0M413.2 503.3h0M396.4 498.4h0M399.3 498.4h0M402.7 509.7h0M407.3 505.1h0M362.0 498.5h0M391.9 506.9h0M434.3 509.4h0M408.8 504.3h0M416.2 497.2h0M395.2 512.3h0M387.0 500.1h0M423.7 521.1h0M390.0 500.8h0M452.6 507.7h0M413.4 506.4h0M424.9 500.7h0M414.0 507.8h0M455.8 507.9h0M411.7 502.1h0M423.0 520.5h0M410.0 487.0h0M385.8 510.5h0M401.6 506.4h0M400.0 529.8h0M405.0 495.6h0M407.6 515.9h0M390.1 505.3h0M371.0 494.5h0M394.1 504.5h0M419.8 504.6h0M409.8 514.0h0M445.6 504.7h0M411.6 500.6h0M433.0 508.9h0M382.4 510.2h0M442.3 509.9h0M415.4 507.3h0M414.6 503.8h0M421.5 498.6h0M394.4 505.9h0M405.1 505.8h0M420.0 496.8h0M436.4 505.1h0M381.2 512.7h0M418.8 494.3h0M412.0 513.3h0M433.5 499.2h0M421.5 513.5h0M431.2 498.0h0M413.7 507.8h0M401.0 505.1h0M423.3 495.8h0M412.9 502.2h0M455.6 503.1h0M401.4 514.0h0M405.5 493.8h0M433.7 506.9h0M359.2 502.8h0M443.7 500.9h0M422.1 503.7h0M373.3 502.5h0M404.6 510.7h0M451.9 506.2h0M452.6 503.5h0M385.4 514.0h0M409.2 504.7h0M428.6 509.9h0M394.3 503.8h0M411.9 500.9h0M366.6 500.4h0M407.3 484.8h0M407.3 504.9h0M429.0 505.8h0M431.4 511.8h0M418.5 505.2h0M397.0 513.8h0M373.7 510.9h0M425.1 481.2h0M412.3 524.4h0M409.3 483.2h0M378.6 500.7h0M397.4 509.9h0M403.0 506.9h0M404.9 518.5h0M378.5 510.0h0M423.6 502.0h0M415.7 515.3h0M370.5 506.2h0M392.1 501.3h0M417.9 511.8h0M407.0 511.3h0M397.9 508.1h0M394.3 506.9h0M398.3 502.1h0M428.0 509.5h0M413.2 476.3h0M428.1 511.4h0M401.7 501.5h0M375.6 503.1h0M378.2 518.4h0M429.4 504.5h0M413.2 513.6h0M406.5 506.8h0M399.5 520.1h0M398.6 510.6h0M404.4 513.3h0M398.8 498.2h0M350.5 502.2h0M395.9 510.9h0M426.3 513.1h0M431.6 504.4h0M407.2 500.2h0M362.1 506.7h0M408.1 505.0h0M415.5 522.0h0M381.0 505.8h0M407.6 510.8h0M407.0 507.3h0M444.5 510.2h0M410.3 513.2h0M418.0 504.8h0M411.6 497.7h0M395.9 512.5h0M369.4 504.4h0M424.1 517.1h0M424.9 488.8h0M396.8 518.1h0M405.4 510.0h0M429.7 502.3h0M401.9 497.9h0M420.7 502.4h0M401.8 498.4h0M393.7 507.2h0M433.6 511.4h0M395.8 501.8h0M421.6 493.2h0M401.0 488.8h0M404.6 510.0h0M423.6 515.2h0M421.3 506.1h0M436.4 491.8h0M431.5 500.3h0M392.5 504.2h0M400.1 501.5h0M370.2 501.9h0M419.9 515.8h0M418.5 510.4h0M435.7 497.8h0M379.6 502.2h0M416.8 516.8h0M432.5 510.3h0M410.3 497.4h0M430.4 500.7h0M392.4 502.9h0M416.3 508.9h0M394.1 512.7h0M407.6 507.5h0M400.5 505.7h0M405.3 508.3h0M409.4 500.5h0M370.2 506.4h0M366.0 507.5h0M427.5 504.6h0M406.4 505.8h0M396.5 499.5h0M404.9 501.1h0M408.4 477.4h0M395.7 501.0h0M432.2 505.7h0M409.5 506.0h0M418.0 507.7h0M410.8 516.1h0M426.9 494.6h0M410.5 495.1h0M408.7 493.5h0M393.3 525.5h0M413.6 503.5h0M394.5 496.8h0M397.6 509.5h0M431.0 516.3h0M423.1 507.5h0M378.2 515.3h0M452.9 509.3h0M399.9 499.1h0M420.4 510.5h0M418.7 502.9h0M402.2 501.7h0M421.5 504.7h0M425.5 508.8h0M434.5 500.0h0M425.9 503.3h0M448.1 507.2h0M385.0 496.4h0M423.5 507.7h0M395.2 506.7h0M394.7 493.7h0M394.0 492.5h0M428.1 500.7h0M398.0 508.4h0M397.5 503.9h0M409.4 516.3h0M405.6 509.1h0M414.6 513.8h0M400.4 500.9h0M406.9 499.0h0M413.4 501.0h0M380.5 489.9h0M433.1 506.5h0M423.6 509.4h0M408.9 505.4h0M429.6 518.0h0M423.3 512.1h0M418.6 495.6h0M464.8 505.3h0M423.2 502.8h0M423.4 506.5h0M435.7 508.9h0M391.1 515.7h0M360.3 510.6h0M402.4 488.3h0M437.3 504.9h0M402.9 500.8h0M420.2 503.8h0M380.9 502.2h0M374.4 511.8h0M419.2 511.3h0M409.6 497.4h0M402.1 509.2h0M383.5 494.4h0M399.5 516.0h0M415.6 502.9h0M404.7 510.8h0M398.0 500.4h0M389.8 493.0h0M371.3 502.6h0M391.0 499.9h0M398.4 500.3h0M419.1 522.3h0M398.1 508.2h0M392.9 513.9h0M390.2 504.7h0M380.6 499.0h0M413.6 503.1h0M396.4 509.2h0M409.4 513.8h0M421.4 499.5h0M416.7 483.1h0M414.5 518.7h0M431.8 517.1h0M406.4 538.1h0M391.3 510.4h0M416.2 501.9h0M414.7 501.5h0M408.1 505.8h0M438.3 510.5h0M422.2 507.2h0M413.1 501.3h0M389.2 506.9h0M407.4 509.8h0M401.2 495.6h0M405.3 503.2h0M411.2 491.6h0M417.7 509.5h0M431.4 506.8h0M413.1 515.6h0M407.3 510.0h0M394.2 517.7h0M399.6 504.0h0M408.2 510.9h0M408.2 504.2h0M418.9 514.9h0M397.5 511.1h0M396.5 509.4h0M399.0 496.7h0M403.1 500.4h0M414.3 506.2h0M417.0 491.4h0M407.4 495.7h0M411.6 504.0h0M423.0 504.6h0M397.8 499.6h0M397.4 508.2h0M435.0 505.5h0M398.5 502.8h0M405.7 522.0h0M397.8 507.1h0M404.1 507.3h0M391.0 501.4h0M396.7 505.7h0M440.4 500.8h0M413.4 513.4h0M428.1 508.8h0M423.5 505.2h0M409.8 509.1h0M410.7 497.3h0M397.8 505.7h0M421.2 527.6h0M435.8 500.0h0M428.4 513.4h0M438.1 508.8h0M425.1 504.5h0M385.4 507.8h0M461.9 503.8h0M412.0 505.9h0M405.5 514.2h0M397.7 505.3h0M415.2 502.6h0M412.8 499.3h0M384.6 502.5h0M410.3 512.3h0M384.3 515.8h0M411.9 501.3h0M430.9 514.5h0M403.2 506.6h0M397.9 505.1h0M404.0 521.4h0M384.6 527.8h0M399.9 498.8h0M433.7 504.4h0M410.7 496.1h0M415.0 506.9h0M384.1 511.5h0M407.2 512.4h0M401.3 520.3h0M412.3 504.6h0M412.3 495.9h0M399.8 522.9h0M446.2 514.3h0M429.1 497.1h0M407.4 498.3h0M393.6 506.3h0M458.1 507.8h0M398.2 500.4h0M392.5 507.2h0M383.9 502.2h0M419.4 516.7h0M405.8 507.6h0M409.2 525.4h0M412.5 509.4h0M402.7 505.8h0M419.8 500.7h0M406.9 510.7h0M370.3 510.0h0M386.8 509.1h0M395.2 504.4h0M414.2 499.8h0M423.0 504.9h0M412.4 502.0h0M400.0 506.3h0M393.8 520.8h0M412.2 510.9h0M404.7 502.8h0M369.9 506.9h0M424.3 509.7h0M401.0 506.3h0M409.4 512.1h0M414.5 500.0h0M386.6 513.1h0M419.7 517.0h0M404.3 503.6h0M420.6 503.8h0M407.0 507.3h0M415.6 495.9h0M410.9 496.9h0M400.7 516.6h0M404.1 511.2h0M398.9 510.7h0M401.8 488.6h0M417.4 530.6h0M389.2 497.5h0M379.8 509.3h0M392.1 516.1h0M409.4 506.6h0M400.6 505.1h0M397.6 492.4h0M402.7 505.1h0M384.2 483.0h0M383.0 505.4h0M391.3 512.5h0M412.8 515.7h0M396.9 518.3h0M385.1 502.9h0M407.7 505.5h0M384.8 509.8h0M420.0 510.3h0M406.5 505.4h0M409.7 516.4h0M380.6 506.6h0M425.2 508.8h0M449.5 503.6h0M416.0 512.0h0M357.4 502.0h0M391.9 505.6h0M379.1 514.5h0M407.4 510.4h0M391.3 523.7h0M422.3 507.5h0M413.2 501.1h0M395.1 504.2h0M411.4 496.5h0M412.4 492.3h0M398.9 511.7h0M391.5 499.6h0M415.8 513.0h0M397.3 531.2h0M406.9 499.3h0M413.8 524.2h0M394.3 510.5h0M361.0 507.9h0M402.0 511.1h0M450.4 494.1h0M391.9 495.7h0M371.9 490.5h0M393.2 511.0h0M429.1 499.6h0M405.4 501.8h0M424.8 483.2h0M423.2 510.6h0M413.0 506.0h0M420.8 509.1h0M385.0 507.1h0M417.3 504.4h0M431.0 507.3h0M400.9 499.2h0M423.1 526.2h0M425.6 504.5h0M447.3 510.3h0M386.1 506.8h0M413.4 504.4h0M399.0 509.5h0M413.8 499.1h0M386.8 502.3h0M389.3 512.3h0M369.2 502.1h0M381.3 505.1h0M412.1 510.7h0M426.1 516.1h0M375.7 514.7h0M432.0 503.3h0M415.3 514.6h0M420.3 509.2h0M390.7 506.2h0M411.1 491.2h0M458.8 511.4h0M392.7 507.0h0M380.6 500.3h0M433.2 495.5h0M370.4 513.3h0M387.2 499.5h0M409.9 503.5h0M430.8 506.5h0M404.3 508.5h0M427.6 498.1h0M430.7 514.0h0M404.9 498.7h0M388.2 508.6h0M405.0 507.4h0M392.7 529.1h0M387.5 505.2h0M398.2 498.8h0M431.6 505.9h0M400.8 497.0h0M388.4 511.2h0M420.8 503.7h0M425.8 496.2h0M420.4 519.9h0M399.1 511.1h0M406.6 493.8h0M413.6 504.3h0M396.0 512.7h0M438.3 507.3h0M418.8 514.4h0M428.3 498.0h0M375.8 514.9h0M382.6 506.4h0M412.4 519.8h0M413.3 517.6h0M392.5 516.1h0M414.9 505.1h0M418.2 505.1h0M403.3 509.3h0M413.8 506.3h0M440.0 508.0h0M413.5 502.9h0M406.6 513.7h0M395.0 504.6h0M411.6 509.7h0M410.3 494.3h0M396.6 509.8h0M414.2 524.4h0M378.1 500.3h0M391.2 513.4h0M403.0 500.0h0M399.9 500.0h0M396.2 513.0h0M416.2 512.5h0M401.3 501.4h0M398.2 520.3h0M445.3 508.2h0M414.4 499.0h0M393.8 524.0h0M373.0 494.4h0M395.2 496.2h0M392.0 506.7h0M397.3 507.4h0M396.5 520.6h0M425.7 515.2h0M400.3 505.3h0M394.6 504.1h0M372.8 506.2h0M411.4 499.4h0M413.7 486.5h0M437.6 497.3h0M398.4 523.8h0M413.4 510.1h0M404.0 516.5h0M417.1 502.0h0M397.9 505.7h0M388.3 493.8h0M411.4 497.7h0M413.8 486.5h0M396.9 491.2h0M408.8 473.3h0M426.5 498.9h0M406.1 522.0h0M462.5 510.5h0M427.7 505.3h0M389.7 503.2h0M441.6 507.2h0M393.0 509.8h0M404.5 531.9h0M398.3 496.4h0M429.5 502.8h0M405.5 517.1h0M397.7 506.1h0M399.8 504.1h0M437.7 498.1h0M391.4 511.3h0M391.9 504.7h0M420.4 514.6h0M412.4 505.3h0M415.2 503.8h0M413.9 506.4h0M442.5 501.9h0M366.3 500.5h0M424.6 491.5h0M399.0 490.8h0M431.7 505.0h0M430.8 513.8h0M406.6 500.7h0M451.6 502.9h0M415.5 503.4h0M421.8 506.2h0M408.0 487.6h0M387.8 509.5h0M408.6 517.8h0M406.3 497.1h0M418.2 500.5h0M422.1 512.5h0M422.4 497.1h0M406.5 496.6h0M416.2 505.8h0M390.1 509.1h0M385.8 501.1h0M409.1 498.9h0M403.0 496.9h0M405.5 491.5h0M394.5 500.9h0M408.6 520.3h0M394.5 517.1h0M416.3 514.5h0M393.5 503.9h0M424.0 491.5h0M393.2 505.9h0M409.2 518.6h0M397.0 500.5h0M404.0 493.9h0M421.3 509.5h0M403.9 514.1h0M411.2 504.2h0M394.1 505.4h0M369.7 504.6h0M403.4 494.7h0M434.3 500.9h0M392.5 495.7h0M385.6 513.6h0M392.0 508.1h0M369.0 492.5h0M436.5 510.7h0M407.1 513.6h0M414.9 507.1h0M417.7 513.1h0M399.3 498.1h0M409.4 484.9h0M386.0 514.7h0M401.1 513.2h0M408.6 500.5h0M403.4 508.6h0M355.2 508.9h0M427.0 506.1h0M422.1 506.7h0M416.0 511.6h0M420.2 509.5h0M391.7 507.4h0M409.1 499.0h0M387.9 497.6h0M367.5 500.9h0M428.2 490.0h0M414.0 500.5h0M403.1 507.4h0M403.0 526.2h0M446.9 505.4h0M398.1 512.2h0M397.5 506.7h0M424.4 486.3h0M398.9 516.5h0M404.7 491.5h0M436.2 506.2h0M390.8 508.6h0M391.0 494.4h0M385.4 514.2h0M403.2 493.0h0M385.6 500.5h0M443.8 507.6h0M409.5 499.6h0M428.9 495.3h0M418.6 503.0h0M415.1 502.7h0M414.6 510.5h0M409.5 501.5h0M384.3 489.0h0M392.7 517.1h0M397.9 496.5h0M432.8 501.0h0M382.3 506.9h0M385.0 506.4h0M411.0 516.1h0M400.6 506.8h0M381.2 500.2h0M399.5 501.3h0M422.5 511.2h0M424.3 509.2h0M412.2 495.3h0M390.5 503.6h0M405.2 531.7h0M420.9 522.7h0M437.2 507.4h0M436.2 505.2h0M440.4 502.2h0M402.5 502.3h0M409.1 502.6h0M411.5 501.9h0M393.9 487.8h0M413.8 507.0h0M415.4 500.0h0M398.2 519.6h0M376.1 507.3h0M386.0 511.1h0M414.6 514.3h0M406.5 520.7h0M415.0 508.4h0M403.8 509.8h0M402.0 508.3h0M396.1 498.9h0M374.9 491.4h0M359.7 504.3h0M407.9 490.7h0M440.7 514.1h0M410.5 503.8h0M393.5 506.3h0M432.8 505.4h0M421.5 494.7h0M399.6 508.1h0M407.9 518.9h0M406.3 505.3h0M408.7 499.1h0M394.7 503.9h0M433.0 499.9h0M401.0 489.1h0M418.4 507.2h0M410.3 504.5h0M409.3 503.8h0M435.9 504.0h0M404.7 515.4h0M400.2 507.3h0M425.4 509.2h0M376.4 507.0h0M419.4 501.2h0M368.1 501.3h0M379.3 514.6h0M404.5 509.3h0M418.9 495.8h0M387.4 500.2h0M406.3 509.6h0M396.7 504.8h0M422.7 494.1h0M414.2 506.4h0M444.6 506.1h0M440.8 510.0h0M455.5 505.6h0M380.5 504.4h0M400.4 501.5h0M384.2 515.0h0M427.0 508.0h0M384.7 503.8h0M400.8 510.6h0M419.3 505.2h0M365.9 498.8h0M367.7 506.6h0M436.9 500.8h0M424.1 513.9h0M382.1 488.7h0M388.0 519.6h0M398.0 515.3h0M409.4 522.2h0M427.4 512.1h0M390.4 516.1h0M422.2 506.7h0M405.5 491.9h0M381.3 497.8h0M393.8 507.1h0M396.2 508.8h0M391.1 499.5h0M396.9 511.7h0M420.3 517.5h0M379.9 505.3h0M387.3 493.9h0M406.1 501.6h0M411.2 509.4h0M394.3 507.9h0M396.6 504.0h0M451.2 509.2h0M404.8 516.5h0M393.6 500.7h0M414.4 482.1h0M393.5 503.7h0M398.9 500.9h0M417.5 489.2h0M402.5 504.4h0M422.7 509.8h0M402.3 520.4h0M426.5 505.7h0M362.3 510.3h0M410.2 520.7h0M371.5 504.6h0M413.6 490.3h0M414.6 505.9h0M462.5 506.1h0M423.1 501.7h0M385.9 506.3h0M424.5 502.3h0M389.4 512.2h0M418.8 501.4h0M402.7 504.4h0M444.0 507.6h0M424.5 505.1h0M411.8 497.6h0M409.6 508.3h0M451.6 511.7h0M433.4 507.6h0M381.0 506.7h0M413.4 504.6h0M388.2 510.3h0M404.3 503.5h0M396.5 501.0h0M402.3 523.6h0M382.7 505.3h0M413.8 507.3h0M405.6 503.7h0M425.0 518.6h0M460.1 502.5h0M398.2 503.7h0M413.1 503.0h0M416.9 508.7h0M373.5 503.8h0M433.7 503.2h0M415.9 532.4h0M402.2 491.9h0M376.2 504.4h0M388.7 497.8h0M426.5 506.6h0M409.3 497.0h0M424.0 515.7h0M409.8 504.5h0M398.7 518.1h0M421.9 503.8h0M420.3 501.4h0M407.3 438.0h0M378.0 453.4h0M423.2 452.8h0M456.7 463.1h0M444.5 471.1h0M389.2 471.1h0M399.6 473.5h0M408.4 470.5h0M371.5 478.5h0M383.3 480.6h0M387.7 483.0h0M417.3 473.5h0M434.5 476.4h0M438.0 478.5h0M310.0 502.2h0M314.4 504.2h0M312.3 513.1h0M328.0 509.0h0M328.6 521.4h0M337.5 500.1h0M346.9 491.2h0M352.2 491.8h0M349.9 525.8h0M353.7 529.7h0M369.4 527.3h0M377.4 533.2h0M372.4 542.1h0M404.0 551.0h0M409.9 543.6h0M422.6 554.0h0M435.7 557.5h0M464.1 548.0h0M407.0 572.6h0M418.8 531.8h0M425.6 539.2h0M432.1 536.2h0M443.9 531.8h0M443.3 540.6h0M453.4 521.4h0M460.2 519.0h0M463.2 519.9h0M476.5 511.1h0M486.0 504.2h0M496.6 504.2h0M500.1 506.6h0M506.1 506.6h0M491.3 510.2h0M472.9 504.2h0M473.5 500.7h0M466.1 493.3h0M460.2 492.4h0M459.6 497.7h0M452.8 492.4h0M452.8 497.7h0" stroke="#1f77b4" stroke-width="2.6" stroke-linecap="round" fill="none"/>
<path d="M299.60 505.90H516.80M407.15 409.60V595.40" stroke="#919191" stroke-opacity="0.67" stroke-width="1.6" fill="none"/>
</g>
<rect x="299.60" y="409.60" width="217.20" height="185.80" fill="none" stroke="#505050" stroke-width="1.4"/>
<path d="M306.75 595.40v-1.90M306.75 409.60v1.90M317.91 595.40v-3.00M317.91 409.60v3.00M329.06 595.40v-1.90M329.06 409.60v1.90M340.22 595.40v-1.90M340.22 409.60v1.90M351.38 595.40v-1.90M351.38 409.60v1.90M362.53 595.40v-3.00M362.53 409.60v3.00M373.68 595.40v-1.90M373.68 409.60v1.90M384.84 595.40v-1.90M384.84 409.60v1.90M396.00 595.40v-1.90M396.00 409.60v1.90M407.15 595.40v-3.00M407.15 409.60v3.00M418.30 595.40v-1.90M418.30 409.60v1.90M429.46 595.40v-1.90M429.46 409.60v1.90M440.62 595.40v-1.90M440.62 409.60v1.90M451.77 595.40v-3.00M451.77 409.60v3.00M462.92 595.40v-1.90M462.92 409.60v1.90M474.08 595.40v-1.90M474.08 409.60v1.90M485.24 595.40v-1.90M485.24 409.60v1.90M496.39 595.40v-3.00M496.39 409.60v3.00M507.54 595.40v-1.90M507.54 409.60v1.90M299.60 591.87h1.90M516.80 591.87h-1.90M299.60 584.05h1.90M516.80 584.05h-1.90M299.60 576.24h1.90M516.80 576.24h-1.90M299.60 568.42h3.00M516.80 568.42h-3.00M299.60 560.61h1.90M516.80 560.61h-1.90M299.60 552.79h1.90M516.80 552.79h-1.90M299.60 544.98h1.90M516.80 544.98h-1.90M299.60 537.16h3.00M516.80 537.16h-3.00M299.60 529.35h1.90M516.80 529.35h-1.90M299.60 521.53h1.90M516.80 521.53h-1.90M299.60 513.72h1.90M516.80 513.72h-1.90M299.60 505.90h3.00M516.80 505.90h-3.00M299.60 498.08h1.90M516.80 498.08h-1.90M299.60 490.27h1.90M516.80 490.27h-1.90M299.60 482.45h1.90M516.80 482.45h-1.90M299.60 474.64h3.00M516.80 474.64h-3.00M299.60 466.82h1.90M516.80 466.82h-1.90M299.60 459.01h1.90M516.80 459.01h-1.90M299.60 451.19h1.90M516.80 451.19h-1.90M299.60 443.38h3.00M516.80 443.38h-3.00M299.60 435.56h1.90M516.80 435.56h-1.90M299.60 427.75h1.90M516.80 427.75h-1.90M299.60 419.93h1.90M516.80 419.93h-1.90M299.60 412.12h3.00M516.80 412.12h-3.00" stroke="#505050" stroke-width="1.0" fill="none"/>
<clipPath id="c22"><rect x="542.20" y="409.60" width="216.80" height="185.80"/></clipPath>
<g clip-path="url(#c22)">
<path d="M669.9 503.2h0M643.6 525.4h0M665.3 513.1h0M644.5 504.5h0M666.2 499.9h0M630.2 510.7h0M643.0 498.4h0M652.0 502.0h0M639.5 511.9h0M622.0 506.2h0M658.9 497.8h0M665.0 497.7h0M644.3 514.6h0M643.7 525.6h0M637.0 491.8h0M656.4 507.8h0M644.7 502.3h0M636.1 502.5h0M670.5 502.4h0M651.9 516.5h0M639.2 499.2h0M661.5 500.7h0M652.5 503.0h0M628.1 504.8h0M638.3 506.2h0M678.3 505.6h0M658.7 496.2h0M654.4 520.4h0M631.0 505.2h0M658.7 506.7h0M673.2 505.8h0M636.8 516.3h0M604.9 505.5h0M666.9 507.4h0M660.0 510.0h0M664.6 490.9h0M654.8 522.2h0M641.7 505.0h0M603.8 504.4h0M646.9 506.5h0M636.8 506.9h0M656.8 507.8h0M626.1 512.4h0M656.1 510.7h0M620.3 509.0h0M695.5 503.7h0M624.0 506.7h0M643.5 518.2h0M626.9 502.1h0M657.7 507.6h0M655.6 510.6h0M637.7 510.4h0M660.4 501.9h0M660.6 510.1h0M680.8 504.0h0M661.5 510.5h0M619.3 507.3h0M627.1 509.4h0M667.1 503.9h0M649.4 501.0h0M642.5 504.0h0M652.5 508.4h0M657.4 503.7h0M680.0 501.3h0M667.1 512.3h0M676.9 509.1h0M661.0 508.1h0M665.6 504.4h0M635.9 501.9h0M640.6 499.0h0M660.5 512.1h0M620.6 514.4h0M660.2 509.7h0M672.4 506.2h0M696.3 503.2h0M664.9 502.1h0M642.5 511.5h0M658.7 505.1h0M643.6 487.5h0M656.6 511.6h0M666.1 495.8h0M647.5 507.1h0M659.1 495.4h0M649.2 504.8h0M660.7 505.1h0M675.8 500.8h0M656.3 514.1h0M667.2 499.5h0M668.5 507.5h0M681.4 507.6h0M657.2 501.2h0M661.5 507.9h0M649.2 488.8h0M662.0 501.6h0M650.2 498.0h0M658.2 498.8h0M651.3 503.4h0M647.2 502.7h0M637.0 507.0h0M650.0 500.3h0M660.3 501.4h0M620.6 516.2h0M618.7 506.8h0M636.4 508.8h0M651.4 501.6h0M670.4 519.7h0M651.7 510.2h0M670.0 503.3h0M640.8 514.5h0M661.9 506.8h0M680.6 504.4h0M656.3 508.2h0M654.6 489.6h0M670.9 507.5h0M656.9 508.9h0M674.6 505.9h0M652.8 502.2h0M663.7 506.1h0M623.6 507.8h0M656.9 524.0h0M647.6 510.2h0M666.1 502.2h0M665.4 491.0h0M660.9 505.5h0M661.0 500.5h0M632.0 502.0h0M654.5 508.4h0M646.8 513.7h0M646.9 502.7h0M633.8 502.8h0M684.1 503.4h0M648.6 511.3h0M657.8 507.2h0M638.1 500.9h0M653.7 501.6h0M667.4 500.4h0M657.1 501.0h0M630.0 511.4h0M656.1 505.6h0M644.6 503.5h0M646.9 503.0h0M681.5 504.7h0M651.5 496.3h0M620.6 506.7h0M643.5 509.7h0M666.6 504.2h0M658.2 502.7h0M649.1 495.9h0M644.8 509.7h0M656.1 495.1h0M679.2 497.3h0M648.0 512.7h0M626.1 510.5h0M663.4 489.0h0M659.6 510.7h0M618.9 511.6h0M652.4 499.9h0M657.6 498.6h0M662.4 514.1h0M639.0 507.0h0M641.6 514.0h0M645.6 501.1h0M647.6 502.8h0M660.6 507.8h0M643.6 510.4h0M637.5 499.3h0M658.4 500.5h0M645.5 503.8h0M662.1 496.3h0M659.7 506.2h0M654.8 509.2h0M651.1 514.8h0M649.2 503.7h0M633.2 510.8h0M675.1 501.2h0M651.7 504.7h0M638.6 508.6h0M661.1 507.4h0M644.1 511.3h0M637.3 496.3h0M665.7 520.0h0M629.7 501.7h0M668.6 504.5h0M648.8 498.4h0M653.8 508.6h0M661.1 499.8h0M654.0 508.3h0M672.0 508.4h0M654.4 520.2h0M659.7 505.4h0M635.7 514.0h0M645.7 493.2h0M637.8 506.9h0M652.6 507.6h0M666.3 502.7h0M647.1 496.4h0M645.7 513.6h0M659.7 495.5h0M651.8 515.4h0M664.1 504.6h0M670.6 500.7h0M654.4 498.4h0M648.6 509.2h0M691.0 500.2h0M643.2 503.2h0M669.3 497.6h0M620.0 505.9h0M669.4 495.1h0M634.6 499.5h0M648.4 507.2h0M651.9 497.4h0M627.6 505.6h0M635.2 513.8h0M643.3 504.2h0M655.6 516.0h0M630.7 510.6h0M643.9 504.4h0M655.2 516.4h0M659.4 508.9h0M679.7 506.7h0M640.2 512.1h0M640.7 502.9h0M665.4 507.7h0M686.9 492.4h0M622.7 509.8h0M658.1 508.1h0M637.7 510.6h0M649.9 506.6h0M639.3 500.0h0M650.8 507.3h0M661.5 508.2h0M650.3 484.0h0M627.7 520.3h0M634.7 499.3h0M690.9 505.6h0M657.2 517.8h0M659.1 514.2h0M656.1 499.5h0M650.5 504.5h0M627.8 512.8h0M648.1 511.2h0M661.6 524.0h0M646.1 508.4h0M692.8 503.8h0M669.5 505.3h0M661.0 509.1h0M649.4 512.3h0M642.8 510.5h0M639.0 506.9h0M655.3 496.6h0M655.6 495.0h0M648.0 520.3h0M646.4 507.1h0M660.9 494.4h0M643.0 499.1h0M624.6 508.9h0M666.1 501.9h0M660.1 518.3h0M646.5 509.1h0M645.3 508.1h0M627.5 511.9h0M637.3 504.8h0M659.8 517.6h0M647.6 511.2h0M678.1 501.6h0M652.6 493.5h0M641.4 504.9h0M656.0 510.2h0M639.0 504.2h0M640.2 506.3h0M617.7 508.6h0M644.3 501.5h0M617.1 507.5h0M642.9 506.6h0M648.8 514.2h0M670.6 506.8h0M653.9 525.9h0M658.3 507.0h0M663.6 504.8h0M672.3 502.6h0M657.9 502.5h0M621.5 510.9h0M645.9 511.6h0M649.8 501.0h0M690.6 507.7h0M659.9 504.4h0M669.7 508.8h0M654.1 504.3h0M677.0 505.9h0M669.7 501.7h0M679.6 502.4h0M636.9 491.8h0M648.6 493.7h0M697.9 502.3h0M627.0 501.3h0M645.0 499.6h0M660.9 501.6h0M640.7 510.5h0M663.7 501.8h0M648.8 495.2h0M637.1 510.5h0M641.6 504.7h0M669.6 508.6h0M655.5 505.4h0M656.1 503.1h0M649.8 497.5h0M642.9 497.0h0M652.1 500.1h0M654.6 503.7h0M680.7 509.2h0M645.1 498.1h0M669.5 496.4h0M657.9 501.7h0M650.6 508.1h0M648.5 499.4h0M643.7 510.7h0M687.6 502.9h0M670.5 510.8h0M665.8 502.5h0M641.4 504.1h0M676.5 504.0h0M664.1 489.7h0M669.4 504.1h0M637.0 501.2h0M628.1 500.4h0M632.4 507.3h0M655.1 522.0h0M651.7 500.2h0M691.8 504.0h0M637.2 513.3h0M661.6 493.3h0M661.5 503.9h0M637.5 512.0h0M645.6 501.1h0M660.5 509.0h0M673.0 508.6h0M685.0 499.2h0M659.2 509.9h0M643.3 505.5h0M634.9 493.9h0M672.1 505.4h0M648.4 498.2h0M690.8 505.4h0M626.0 521.1h0M654.1 494.8h0M657.4 509.7h0M648.4 516.4h0M647.5 496.2h0M641.4 507.2h0M657.3 500.4h0M662.8 505.3h0M638.1 513.8h0M643.1 513.6h0M663.8 513.0h0M655.5 503.0h0M670.8 507.1h0M638.2 500.6h0M666.4 508.6h0M648.8 508.8h0M649.1 501.1h0M645.1 507.0h0M637.2 493.3h0M657.0 499.2h0M661.3 495.9h0M659.2 497.3h0M679.0 500.0h0M662.6 505.4h0M641.8 504.4h0M626.7 513.0h0M668.0 503.2h0M670.4 507.7h0M646.0 505.2h0M634.4 509.9h0M652.8 516.5h0M660.3 504.5h0M628.8 505.8h0M655.6 508.0h0M639.7 510.2h0M680.3 507.3h0M654.8 503.0h0M653.5 517.4h0M657.3 517.9h0M646.2 503.8h0M646.3 503.7h0M652.7 494.8h0M642.2 505.2h0M649.7 511.1h0M636.1 506.4h0M661.5 500.3h0M647.7 504.7h0M634.6 504.3h0M654.5 506.2h0M663.1 498.5h0M692.1 507.6h0M643.1 512.9h0M666.2 490.6h0M638.8 507.8h0M649.6 515.4h0M654.1 496.0h0M689.6 507.4h0M662.8 494.3h0M656.4 507.0h0M657.1 506.8h0M657.9 509.1h0M669.6 500.0h0M655.4 507.3h0M665.8 510.2h0M649.1 500.5h0M652.0 512.8h0M648.5 507.0h0M668.7 499.3h0M652.6 519.7h0M673.2 520.5h0M628.5 507.3h0M675.0 508.3h0M658.4 502.9h0M653.4 499.2h0M652.6 510.6h0M659.6 498.2h0M655.1 503.6h0M649.3 506.2h0M647.4 490.8h0M653.3 503.3h0M651.7 505.7h0M657.2 505.1h0M660.5 509.5h0M678.3 496.8h0M654.4 506.5h0M657.5 507.9h0M625.7 504.1h0M678.1 503.4h0M641.7 501.7h0M641.5 511.4h0M640.0 510.1h0M662.5 519.8h0M639.3 504.6h0M672.8 506.1h0M623.4 507.4h0M639.5 505.0h0M646.2 511.8h0M663.5 508.5h0M662.0 501.6h0M638.1 519.5h0M692.0 506.5h0M654.4 508.6h0M665.3 510.2h0M636.9 500.1h0M651.6 517.5h0M636.2 511.5h0M633.2 506.7h0M634.3 508.0h0M666.7 502.2h0M617.4 512.0h0M652.0 502.8h0M632.6 491.6h0M644.5 500.5h0M639.2 513.9h0M615.0 509.0h0M641.0 508.7h0M631.6 505.8h0M672.9 500.9h0M684.7 504.5h0M678.0 503.7h0M653.9 512.5h0M637.4 504.8h0M666.1 514.6h0M651.1 515.5h0M624.8 516.5h0M689.3 502.2h0M650.4 507.6h0M644.4 499.2h0M689.4 505.9h0M637.3 522.0h0M652.7 497.7h0M662.8 494.2h0M638.5 504.7h0M641.3 507.0h0M658.7 502.2h0M657.3 498.0h0M645.1 502.3h0M669.3 500.7h0M657.8 508.1h0M651.8 502.8h0M660.0 505.7h0M669.3 514.9h0M630.8 515.4h0M639.4 506.8h0M664.4 508.6h0M695.7 500.6h0M674.9 500.6h0M651.4 507.4h0M655.2 509.9h0M642.1 507.4h0M632.8 504.7h0M654.8 505.0h0M654.9 498.2h0M653.2 505.2h0M619.4 512.0h0M661.4 506.2h0M659.6 508.2h0M617.1 504.1h0M657.5 495.3h0M659.5 507.7h0M679.7 507.0h0M619.7 505.0h0M618.0 502.9h0M651.5 514.6h0M627.3 510.2h0M616.0 511.4h0M636.9 498.6h0M674.9 502.7h0M635.3 507.5h0M674.4 501.0h0M624.5 509.1h0M652.6 506.0h0M630.7 508.1h0M664.0 495.0h0M672.7 506.2h0M640.3 503.5h0M648.5 505.8h0M675.7 508.9h0M642.6 508.8h0M645.2 504.7h0M701.7 506.6h0M680.1 503.6h0M642.1 507.9h0M655.5 507.5h0M665.2 510.1h0M639.3 519.6h0M645.4 501.5h0M644.6 504.3h0M669.6 505.8h0M681.0 499.2h0M661.1 521.9h0M631.6 505.0h0M663.0 498.4h0M655.1 503.8h0M679.9 503.8h0M665.1 511.1h0M653.6 506.5h0M670.7 505.6h0M637.1 515.6h0M621.1 502.5h0M685.5 503.6h0M660.2 497.4h0M671.1 503.9h0M629.5 501.6h0M621.1 508.2h0M663.2 515.6h0M677.6 504.8h0M656.1 500.1h0M654.9 505.5h0M645.3 519.0h0M651.2 505.1h0M661.3 511.6h0M637.6 504.8h0M640.5 504.1h0M619.9 511.0h0M645.4 502.9h0M672.3 508.5h0M666.8 513.3h0M639.1 502.6h0M659.1 514.3h0M657.2 520.3h0M617.5 506.1h0M626.2 510.7h0M659.9 489.8h0M657.3 509.3h0M628.7 498.2h0M672.3 503.3h0M669.8 514.4h0M659.5 510.8h0M672.0 502.4h0M649.3 507.4h0M659.3 503.7h0M654.4 505.0h0M651.0 501.2h0M664.2 494.4h0M641.4 515.2h0M650.8 509.8h0M639.8 502.6h0M660.9 509.8h0M615.0 512.5h0M645.8 491.1h0M683.2 505.9h0M646.4 506.7h0M650.8 501.3h0M640.1 509.5h0M642.1 505.6h0M632.3 498.9h0M653.3 519.6h0M689.6 507.3h0M653.8 507.3h0M649.1 510.9h0M673.0 506.0h0M668.8 512.2h0M654.8 513.6h0M647.0 492.7h0M632.0 507.1h0M657.8 514.2h0M665.4 504.5h0M653.2 498.7h0M658.5 504.1h0M691.3 506.7h0M652.2 498.8h0M664.2 508.9h0M664.8 503.1h0M654.3 484.9h0M654.7 504.6h0M623.0 509.0h0M660.9 509.6h0M670.8 507.2h0M643.8 498.7h0M669.2 497.4h0M633.5 516.9h0M669.8 507.8h0M649.8 511.3h0M678.1 504.4h0M635.8 501.8h0M641.4 497.4h0M656.8 502.7h0M669.1 496.4h0M635.6 500.0h0M647.0 494.0h0M666.8 499.1h0M648.3 504.5h0M676.9 507.4h0M663.0 505.2h0M665.2 502.1h0M645.6 501.4h0M647.5 507.0h0M653.1 512.1h0M675.6 502.6h0M624.3 500.3h0M658.2 512.7h0M670.9 501.9h0M646.0 504.5h0M631.6 514.6h0M658.7 508.6h0M655.3 489.7h0M672.1 515.4h0M653.8 520.9h0M645.2 490.5h0M643.3 506.7h0M651.0 499.5h0M662.8 498.4h0M661.4 490.2h0M641.6 516.5h0M670.1 501.7h0M653.4 499.5h0M656.1 519.0h0M667.7 501.2h0M658.3 501.8h0M614.8 503.9h0M686.3 507.1h0M668.3 506.5h0M641.3 506.2h0M684.4 504.6h0M656.5 508.8h0M627.8 506.8h0M682.6 510.3h0M651.9 520.8h0M637.8 504.6h0M639.7 499.0h0M653.9 502.4h0M643.0 500.8h0M658.3 506.6h0M652.9 495.8h0M651.1 519.4h0M652.3 497.8h0M660.9 499.9h0M661.5 505.5h0M649.2 511.5h0M663.8 519.1h0M608.0 508.5h0M612.0 504.3h0M659.1 497.7h0M674.5 497.8h0M629.1 506.0h0M664.0 500.8h0M652.7 504.6h0M667.0 514.1h0M637.2 500.2h0M627.9 515.7h0M657.3 503.2h0M665.4 501.1h0M676.2 513.6h0M640.4 510.8h0M662.0 499.7h0M649.4 500.0h0M641.4 517.2h0M651.8 514.7h0M637.9 502.1h0M670.4 509.6h0M627.0 507.5h0M653.6 496.3h0M615.5 502.4h0M627.3 508.7h0M646.0 496.0h0M637.6 513.2h0M634.9 504.7h0M624.5 511.4h0M629.2 510.7h0M664.7 496.1h0M636.2 503.4h0M606.7 506.6h0M669.3 507.2h0M664.5 508.1h0M656.7 508.1h0M643.4 510.6h0M651.1 523.5h0M660.5 507.2h0M647.6 500.5h0M622.7 509.0h0M673.1 498.6h0M612.7 509.2h0M671.1 511.7h0M635.2 508.1h0M638.0 504.9h0M654.3 502.3h0M661.0 498.9h0M660.2 503.8h0M657.2 509.6h0M671.8 508.0h0M647.4 503.9h0M660.8 500.4h0M654.4 501.2h0M677.4 504.9h0M629.0 504.6h0M677.3 498.2h0M642.1 506.7h0M689.7 502.8h0M643.8 503.9h0M653.1 514.3h0M655.7 503.4h0M687.0 504.3h0M663.1 510.5h0M632.7 502.6h0M634.0 506.2h0M637.5 510.2h0M665.0 496.0h0M652.9 499.2h0M621.8 508.2h0M645.4 508.4h0M638.7 512.3h0M652.2 500.0h0M633.5 509.1h0M636.1 510.8h0M648.3 506.0h0M647.0 497.0h0M664.7 494.4h0M628.8 504.1h0M652.9 513.8h0M643.8 505.5h0M667.6 505.7h0M649.4 496.5h0M653.1 493.5h0M648.3 508.4h0M670.1 501.9h0M664.9 496.9h0M651.7 505.1h0M652.3 507.9h0M623.2 507.0h0M653.6 508.0h0M656.9 506.8h0M634.9 509.1h0M671.6 515.4h0M625.4 509.3h0M619.4 512.9h0M642.0 500.0h0M664.7 505.3h0M683.2 502.2h0M638.2 519.0h0M626.5 513.1h0M644.8 511.8h0M683.4 496.7h0M658.4 517.7h0M646.7 509.5h0M661.3 507.6h0M661.6 517.3h0M649.1 505.5h0M669.6 511.3h0M657.8 521.4h0M624.0 507.4h0M646.8 511.3h0M648.1 507.6h0M681.2 497.1h0M646.5 505.5h0M656.5 500.5h0M618.2 509.4h0M644.5 508.3h0M647.3 503.4h0M665.5 512.0h0M668.0 513.6h0M631.9 511.1h0M661.0 500.4h0M670.3 505.5h0M647.3 506.1h0M640.8 504.4h0M643.6 501.9h0M551.8 495.4h0M557.4 514.9h0M574.0 506.0h0M586.4 504.5h0M579.9 523.8h0M596.1 518.4h0M602.6 507.2h0M604.1 519.9h0M612.1 519.9h0M607.7 544.2h0M616.8 530.3h0M620.4 521.4h0M619.8 524.4h0M611.5 490.3h0M617.4 492.7h0M620.4 491.0h0M626.9 481.5h0M628.7 488.3h0M630.7 489.5h0M630.7 483.5h0M641.1 459.3h0M652.0 469.0h0M647.9 477.6h0M644.1 488.3h0M637.2 530.3h0M644.1 530.3h0M648.5 522.9h0M654.4 519.0h0M657.4 531.8h0M664.2 552.5h0M659.7 521.4h0M661.8 477.9h0M673.6 480.9h0M676.6 531.8h0M678.7 530.3h0M698.2 467.3h0M689.0 480.6h0M669.2 488.0h0M679.5 490.3h0M686.9 519.9h0M692.9 511.1h0M701.7 492.4h0M710.6 493.3h0M709.1 497.2h0M726.0 487.4h0M721.0 503.1h0M749.1 501.6h0M704.7 509.6h0" stroke="#1f77b4" stroke-width="2.6" stroke-linecap="round" fill="none"/>
<path d="M542.20 505.90H759.00M652.90 409.60V595.40" stroke="#919191" stroke-opacity="0.67" stroke-width="1.6" fill="none"/>
<line x1="542.20" y1="511.89" x2="759.00" y2="500.16" stroke="#000" stroke-width="2.1"/>
</g>
<rect x="542.20" y="409.60" width="216.80" height="185.80" fill="none" stroke="#505050" stroke-width="1.4"/>
<path d="M548.84 595.40v-1.90M548.84 409.60v1.90M560.40 595.40v-3.00M560.40 409.60v3.00M571.96 595.40v-1.90M571.96 409.60v1.90M583.52 595.40v-1.90M583.52 409.60v1.90M595.09 595.40v-1.90M595.09 409.60v1.90M606.65 595.40v-3.00M606.65 409.60v3.00M618.21 595.40v-1.90M618.21 409.60v1.90M629.77 595.40v-1.90M629.77 409.60v1.90M641.34 595.40v-1.90M641.34 409.60v1.90M652.90 595.40v-3.00M652.90 409.60v3.00M664.46 595.40v-1.90M664.46 409.60v1.90M676.02 595.40v-1.90M676.02 409.60v1.90M687.59 595.40v-1.90M687.59 409.60v1.90M699.15 595.40v-3.00M699.15 409.60v3.00M710.71 595.40v-1.90M710.71 409.60v1.90M722.27 595.40v-1.90M722.27 409.60v1.90M733.84 595.40v-1.90M733.84 409.60v1.90M745.40 595.40v-3.00M745.40 409.60v3.00M756.96 595.40v-1.90M756.96 409.60v1.90M542.20 591.87h1.90M759.00 591.87h-1.90M542.20 584.05h1.90M759.00 584.05h-1.90M542.20 576.24h1.90M759.00 576.24h-1.90M542.20 568.42h3.00M759.00 568.42h-3.00M542.20 560.61h1.90M759.00 560.61h-1.90M542.20 552.79h1.90M759.00 552.79h-1.90M542.20 544.98h1.90M759.00 544.98h-1.90M542.20 537.16h3.00M759.00 537.16h-3.00M542.20 529.35h1.90M759.00 529.35h-1.90M542.20 521.53h1.90M759.00 521.53h-1.90M542.20 513.72h1.90M759.00 513.72h-1.90M542.20 505.90h3.00M759.00 505.90h-3.00M542.20 498.08h1.90M759.00 498.08h-1.90M542.20 490.27h1.90M759.00 490.27h-1.90M542.20 482.45h1.90M759.00 482.45h-1.90M542.20 474.64h3.00M759.00 474.64h-3.00M542.20 466.82h1.90M759.00 466.82h-1.90M542.20 459.01h1.90M759.00 459.01h-1.90M542.20 451.19h1.90M759.00 451.19h-1.90M542.20 443.38h3.00M759.00 443.38h-3.00M542.20 435.56h1.90M759.00 435.56h-1.90M542.20 427.75h1.90M759.00 427.75h-1.90M542.20 419.93h1.90M759.00 419.93h-1.90M542.20 412.12h3.00M759.00 412.12h-3.00" stroke="#505050" stroke-width="1.0" fill="none"/>
<g fill="#000"><text x="197.54" y="35.85" font-size="11.13" textLength="64.57" lengthAdjust="spacingAndGlyphs">Δ<tspan font-style="italic">α</tspan> = <tspan font-style="italic">k</tspan>Δlog <tspan font-style="italic">L</tspan></text><text x="183.41" y="48.45" font-size="11.13" textLength="78.35" lengthAdjust="spacingAndGlyphs"><tspan font-style="italic">k</tspan> = − 1.6 ± 0.3</text><text x="208.41" y="60.65" font-size="11.13" textLength="53.60" lengthAdjust="spacingAndGlyphs">Spearman</text><text x="221.79" y="72.95" font-size="11.13" textLength="40.08" lengthAdjust="spacingAndGlyphs">r=-0.39</text><text x="206.59" y="85.00" font-size="11.13" textLength="55.16" lengthAdjust="spacingAndGlyphs">p&lt;1.0e-05</text><text x="441.54" y="35.85" font-size="11.13" textLength="64.57" lengthAdjust="spacingAndGlyphs">Δ<tspan font-style="italic">α</tspan> = <tspan font-style="italic">k</tspan>Δlog <tspan font-style="italic">L</tspan></text><text x="414.88" y="48.45" font-size="11.13" textLength="91.00" lengthAdjust="spacingAndGlyphs"><tspan font-style="italic">k</tspan> = − 0.90 ± 0.13</text><text x="452.41" y="60.65" font-size="11.13" textLength="53.60" lengthAdjust="spacingAndGlyphs">Spearman</text><text x="465.71" y="72.95" font-size="11.13" textLength="40.15" lengthAdjust="spacingAndGlyphs">r=-0.26</text><text x="450.59" y="85.00" font-size="11.13" textLength="55.16" lengthAdjust="spacingAndGlyphs">p&lt;1.0e-05</text><text x="684.04" y="35.85" font-size="11.13" textLength="64.57" lengthAdjust="spacingAndGlyphs">Δ<tspan font-style="italic">α</tspan> = <tspan font-style="italic">k</tspan>Δlog <tspan font-style="italic">L</tspan></text><text x="669.91" y="48.45" font-size="11.13" textLength="78.35" lengthAdjust="spacingAndGlyphs"><tspan font-style="italic">k</tspan> = − 1.4 ± 0.3</text><text x="694.91" y="60.65" font-size="11.13" textLength="53.60" lengthAdjust="spacingAndGlyphs">Spearman</text><text x="708.45" y="72.95" font-size="11.13" textLength="39.94" lengthAdjust="spacingAndGlyphs">r=-0.37</text><text x="693.09" y="85.00" font-size="11.13" textLength="55.16" lengthAdjust="spacingAndGlyphs">p&lt;1.0e-05</text><text x="208.41" y="228.50" font-size="11.13" textLength="53.60" lengthAdjust="spacingAndGlyphs">Spearman</text><text x="221.71" y="240.65" font-size="11.13" textLength="40.15" lengthAdjust="spacingAndGlyphs">r=-0.06</text><text x="206.64" y="252.75" font-size="11.13" textLength="55.19" lengthAdjust="spacingAndGlyphs">p=1.0e-01</text><text x="397.70" y="228.60" font-size="11.13" textLength="108.47" lengthAdjust="spacingAndGlyphs">Δlog <tspan font-style="italic">EW</tspan><tspan font-style="italic" font-size="7.79" dy="2.00">MgII</tspan><tspan dy="-2.00"> </tspan> = <tspan font-style="italic">k</tspan>Δlog <tspan font-style="italic">L</tspan></text><text x="415.21" y="242.30" font-size="11.13" textLength="90.67" lengthAdjust="spacingAndGlyphs"><tspan font-style="italic">k</tspan> = − 0.75 ± 0.02</text><text x="452.41" y="254.40" font-size="11.13" textLength="53.60" lengthAdjust="spacingAndGlyphs">Spearman</text><text x="465.90" y="266.60" font-size="11.13" textLength="39.92" lengthAdjust="spacingAndGlyphs">r=-0.73</text><text x="450.59" y="278.10" font-size="11.13" textLength="55.16" lengthAdjust="spacingAndGlyphs">p&lt;1.0e-05</text><text x="643.24" y="228.85" font-size="11.13" textLength="105.55" lengthAdjust="spacingAndGlyphs">Δlog <tspan font-style="italic">EW</tspan><tspan font-style="italic" font-size="7.79" dy="2.00">CIV</tspan><tspan dy="-2.00"> </tspan> = <tspan font-style="italic">k</tspan>Δlog <tspan font-style="italic">L</tspan></text><text x="656.17" y="241.45" font-size="11.13" textLength="92.07" lengthAdjust="spacingAndGlyphs"><tspan font-style="italic">k</tspan> = − 0.62 ± 0.04</text><text x="694.91" y="253.65" font-size="11.13" textLength="53.60" lengthAdjust="spacingAndGlyphs">Spearman</text><text x="708.14" y="265.95" font-size="11.13" textLength="39.94" lengthAdjust="spacingAndGlyphs">r=-0.64</text><text x="693.09" y="278.00" font-size="11.13" textLength="55.16" lengthAdjust="spacingAndGlyphs">p&lt;1.0e-05</text><text x="208.41" y="426.80" font-size="11.13" textLength="53.60" lengthAdjust="spacingAndGlyphs">Spearman</text><text x="218.98" y="438.95" font-size="11.13" textLength="42.84" lengthAdjust="spacingAndGlyphs">r=0.023</text><text x="206.64" y="451.05" font-size="11.13" textLength="55.19" lengthAdjust="spacingAndGlyphs">p=3.0e-01</text><text x="452.41" y="426.80" font-size="11.13" textLength="53.60" lengthAdjust="spacingAndGlyphs">Spearman</text><text x="459.23" y="438.95" font-size="11.13" textLength="46.59" lengthAdjust="spacingAndGlyphs">r=-0.025</text><text x="450.64" y="451.05" font-size="11.13" textLength="55.19" lengthAdjust="spacingAndGlyphs">p=2.1e-01</text><text x="626.72" y="427.15" font-size="11.13" textLength="121.86" lengthAdjust="spacingAndGlyphs">Δlog <tspan font-style="italic">FWHM</tspan><tspan font-style="italic" font-size="7.79" dy="2.00">CIV</tspan><tspan dy="-2.00"> </tspan> = <tspan font-style="italic">k</tspan>Δlog <tspan font-style="italic">L</tspan></text><text x="669.86" y="439.75" font-size="11.13" textLength="78.57" lengthAdjust="spacingAndGlyphs"><tspan font-style="italic">k</tspan> = 0.08 ± 0.03</text><text x="694.91" y="451.95" font-size="11.13" textLength="53.60" lengthAdjust="spacingAndGlyphs">Spearman</text><text x="712.30" y="464.25" font-size="11.13" textLength="36.06" lengthAdjust="spacingAndGlyphs">r=0.15</text><text x="693.01" y="476.30" font-size="11.13" textLength="55.46" lengthAdjust="spacingAndGlyphs">p=8.8e-03</text><text x="94.22" y="12.80" font-size="16.70" textLength="140.72" lengthAdjust="spacingAndGlyphs">Hb(0.08 &lt; <tspan font-style="italic">z</tspan> ≤ 0.7)</text><text x="337.45" y="12.80" font-size="16.70" textLength="141.57" lengthAdjust="spacingAndGlyphs">MgII(0.7 &lt; <tspan font-style="italic">z</tspan> ≤ 1.9)</text><text x="582.41" y="12.80" font-size="16.70" textLength="136.58" lengthAdjust="spacingAndGlyphs">CIV(1.9 &lt; <tspan font-style="italic">z</tspan> ≤ 4.0)</text><text x="126.84" y="627.80" font-size="16.70" textLength="74.82" lengthAdjust="spacingAndGlyphs">Δlog <tspan font-style="italic">L</tspan><tspan font-size="11.69" dy="2.20">5100</tspan></text><text x="370.99" y="627.80" font-size="16.70" textLength="74.82" lengthAdjust="spacingAndGlyphs">Δlog <tspan font-style="italic">L</tspan><tspan font-size="11.69" dy="2.20">3000</tspan></text><text x="613.39" y="627.80" font-size="16.70" textLength="74.82" lengthAdjust="spacingAndGlyphs">Δlog <tspan font-style="italic">L</tspan><tspan font-size="11.69" dy="2.20">1350</tspan></text><text transform="translate(26.00 121.80) rotate(-90)" x="-0.50" y="0" font-size="16.70" textLength="21.28" lengthAdjust="spacingAndGlyphs">Δ<tspan font-style="italic">α</tspan></text><text transform="translate(12.40 342.87) rotate(-90)" x="-0.50" y="0" font-size="16.70" textLength="80.46" lengthAdjust="spacingAndGlyphs">Δlog <tspan font-style="italic">EW</tspan><tspan font-style="italic" font-size="11.69" dy="2.60">Hb</tspan><tspan dy="-2.60"> </tspan></text><text transform="translate(12.40 553.51) rotate(-90)" x="-0.50" y="0" font-size="16.70" textLength="105.06" lengthAdjust="spacingAndGlyphs">Δlog <tspan font-style="italic">FWHM</tspan><tspan font-style="italic" font-size="11.69" dy="2.60">Hb</tspan><tspan dy="-2.60"> </tspan></text><text transform="translate(292.10 121.80) rotate(-90)" x="-0.50" y="0" font-size="16.70" textLength="21.28" lengthAdjust="spacingAndGlyphs">Δ<tspan font-style="italic">α</tspan></text><text transform="translate(289.90 346.89) rotate(-90)" x="-0.50" y="0" font-size="16.70" textLength="88.35" lengthAdjust="spacingAndGlyphs">Δlog <tspan font-style="italic">EW</tspan><tspan font-style="italic" font-size="11.69" dy="2.60">MgII</tspan><tspan dy="-2.60"> </tspan></text><text transform="translate(289.90 557.52) rotate(-90)" x="-0.50" y="0" font-size="16.70" textLength="112.94" lengthAdjust="spacingAndGlyphs">Δlog <tspan font-style="italic">FWHM</tspan><tspan font-style="italic" font-size="11.69" dy="2.60">MgII</tspan><tspan dy="-2.60"> </tspan></text><text transform="translate(534.60 121.80) rotate(-90)" x="-0.50" y="0" font-size="16.70" textLength="21.28" lengthAdjust="spacingAndGlyphs">Δ<tspan font-style="italic">α</tspan></text><text transform="translate(534.10 345.08) rotate(-90)" x="-0.50" y="0" font-size="16.70" textLength="83.62" lengthAdjust="spacingAndGlyphs">Δlog <tspan font-style="italic">EW</tspan><tspan font-style="italic" font-size="11.69" dy="2.60">CIV</tspan><tspan dy="-2.60"> </tspan></text><text transform="translate(534.10 555.71) rotate(-90)" x="-0.50" y="0" font-size="16.70" textLength="108.46" lengthAdjust="spacingAndGlyphs">Δlog <tspan font-style="italic">FWHM</tspan><tspan font-style="italic" font-size="11.69" dy="2.60">CIV</tspan><tspan dy="-2.60"> </tspan></text><text x="44.98" y="40.85" font-size="14.33" textLength="7.27" lengthAdjust="spacingAndGlyphs">2</text><text x="44.88" y="80.35" font-size="14.33" textLength="7.45" lengthAdjust="spacingAndGlyphs">1</text><text x="44.42" y="119.85" font-size="14.33" textLength="7.76" lengthAdjust="spacingAndGlyphs">0</text><text x="33.63" y="159.35" font-size="14.33" textLength="18.91" lengthAdjust="spacingAndGlyphs">−1</text><text x="33.74" y="198.85" font-size="14.33" textLength="18.74" lengthAdjust="spacingAndGlyphs">−2</text><text x="31.35" y="219.94" font-size="14.33" textLength="21.04" lengthAdjust="spacingAndGlyphs">0.6</text><text x="31.26" y="249.78" font-size="14.33" textLength="20.92" lengthAdjust="spacingAndGlyphs">0.4</text><text x="31.86" y="279.62" font-size="14.33" textLength="20.51" lengthAdjust="spacingAndGlyphs">0.2</text><text x="31.40" y="309.46" font-size="14.33" textLength="20.86" lengthAdjust="spacingAndGlyphs">0.0</text><text x="20.72" y="339.30" font-size="14.33" textLength="31.83" lengthAdjust="spacingAndGlyphs">−0.2</text><text x="20.12" y="369.14" font-size="14.33" textLength="31.99" lengthAdjust="spacingAndGlyphs">−0.4</text><text x="20.21" y="398.98" font-size="14.33" textLength="32.11" lengthAdjust="spacingAndGlyphs">−0.6</text><text x="31.35" y="417.42" font-size="14.33" textLength="21.04" lengthAdjust="spacingAndGlyphs">0.6</text><text x="31.26" y="448.68" font-size="14.33" textLength="20.92" lengthAdjust="spacingAndGlyphs">0.4</text><text x="31.86" y="479.94" font-size="14.33" textLength="20.51" lengthAdjust="spacingAndGlyphs">0.2</text><text x="31.40" y="511.20" font-size="14.33" textLength="20.86" lengthAdjust="spacingAndGlyphs">0.0</text><text x="20.72" y="542.46" font-size="14.33" textLength="31.83" lengthAdjust="spacingAndGlyphs">−0.2</text><text x="20.12" y="573.72" font-size="14.33" textLength="31.99" lengthAdjust="spacingAndGlyphs">−0.4</text><text x="60.07" y="609.00" font-size="14.33" textLength="31.99" lengthAdjust="spacingAndGlyphs">−0.4</text><text x="104.45" y="609.00" font-size="14.33" textLength="31.83" lengthAdjust="spacingAndGlyphs">−0.2</text><text x="154.00" y="609.00" font-size="14.33" textLength="20.86" lengthAdjust="spacingAndGlyphs">0.0</text><text x="198.31" y="609.00" font-size="14.33" textLength="20.51" lengthAdjust="spacingAndGlyphs">0.2</text><text x="242.09" y="609.00" font-size="14.33" textLength="20.92" lengthAdjust="spacingAndGlyphs">0.4</text><text x="301.69" y="609.00" font-size="14.33" textLength="31.99" lengthAdjust="spacingAndGlyphs">−0.4</text><text x="346.61" y="609.00" font-size="14.33" textLength="31.83" lengthAdjust="spacingAndGlyphs">−0.2</text><text x="396.70" y="609.00" font-size="14.33" textLength="20.86" lengthAdjust="spacingAndGlyphs">0.0</text><text x="441.55" y="609.00" font-size="14.33" textLength="20.51" lengthAdjust="spacingAndGlyphs">0.2</text><text x="485.87" y="609.00" font-size="14.33" textLength="20.92" lengthAdjust="spacingAndGlyphs">0.4</text><text x="544.18" y="609.00" font-size="14.33" textLength="31.99" lengthAdjust="spacingAndGlyphs">−0.4</text><text x="590.73" y="609.00" font-size="14.33" textLength="31.83" lengthAdjust="spacingAndGlyphs">−0.2</text><text x="642.45" y="609.00" font-size="14.33" textLength="20.86" lengthAdjust="spacingAndGlyphs">0.0</text><text x="688.93" y="609.00" font-size="14.33" textLength="20.51" lengthAdjust="spacingAndGlyphs">0.2</text><text x="734.88" y="609.00" font-size="14.33" textLength="20.92" lengthAdjust="spacingAndGlyphs">0.4</text></g>
</svg>
</body></html>
